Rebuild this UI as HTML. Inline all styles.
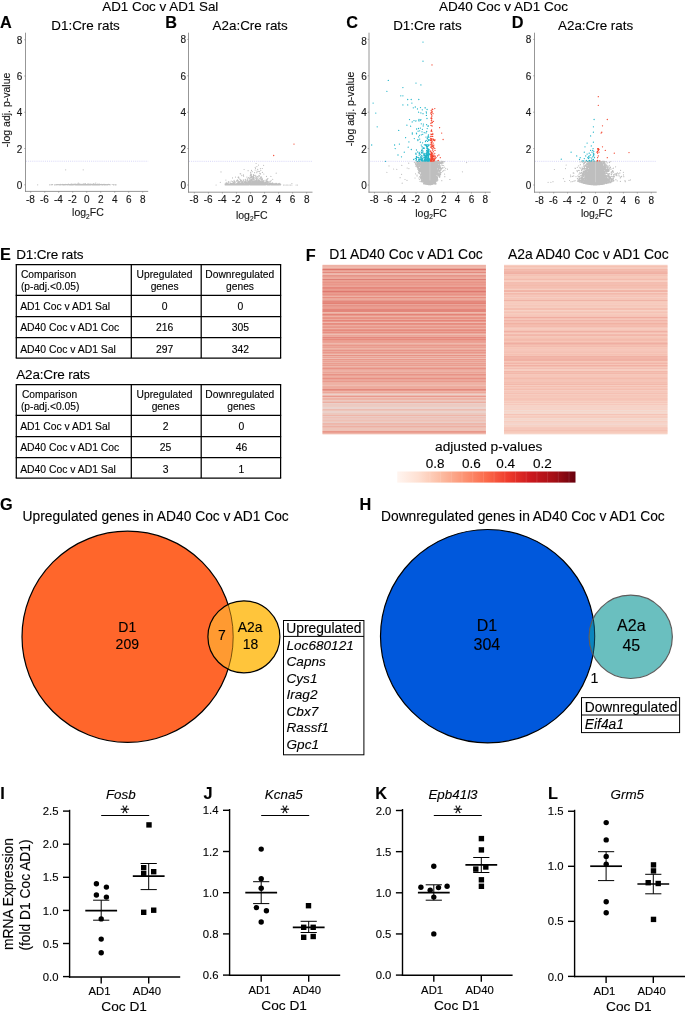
<!DOCTYPE html>
<html lang="en">
<head>
<meta charset="utf-8">
<title>Figure</title>
<style>
html,body{margin:0;padding:0;background:#fff;}
body{width:685px;height:1012px;overflow:hidden;}
svg{display:block;font-family:"Liberation Sans",Arial,Helvetica,sans-serif;}
text{stroke:#000;stroke-width:0.22px;stroke-opacity:0.55;}
</style>
</head>
<body>
<svg width="685" height="1012" viewBox="0 0 685 1012">
<rect width="685" height="1012" fill="#fff"/>
<text x="160.3" y="11.1" font-size="13.4" text-anchor="middle">AD1 Coc v AD1 Sal</text>
<text x="503.6" y="10.9" font-size="13.5" text-anchor="middle">AD40 Coc v AD1 Coc</text>
<text x="0.1" y="27.5" font-size="16.3" font-weight="bold">A</text>
<text x="85.6" y="29.8" font-size="13.4" text-anchor="middle">D1:Cre rats</text>
<line x1="25.5" y1="32.7" x2="25.5" y2="191.8" stroke="#7c7c7c" stroke-width="0.8"/>
<line x1="25.1" y1="191.4" x2="148.2" y2="191.4" stroke="#7c7c7c" stroke-width="0.8"/>
<line x1="24.2" y1="184.8" x2="25.5" y2="184.8" stroke="#7c7c7c" stroke-width="0.6"/>
<text x="22.3" y="188.8" font-size="10" text-anchor="end" fill="#1c1c1c">0</text>
<line x1="24.2" y1="148.54" x2="25.5" y2="148.54" stroke="#7c7c7c" stroke-width="0.6"/>
<text x="22.3" y="152.54" font-size="10" text-anchor="end" fill="#1c1c1c">2</text>
<line x1="24.2" y1="112.28" x2="25.5" y2="112.28" stroke="#7c7c7c" stroke-width="0.6"/>
<text x="22.3" y="116.28" font-size="10" text-anchor="end" fill="#1c1c1c">4</text>
<line x1="24.2" y1="76.02" x2="25.5" y2="76.02" stroke="#7c7c7c" stroke-width="0.6"/>
<text x="22.3" y="80.02" font-size="10" text-anchor="end" fill="#1c1c1c">6</text>
<line x1="24.2" y1="39.76" x2="25.5" y2="39.76" stroke="#7c7c7c" stroke-width="0.6"/>
<text x="22.3" y="43.76" font-size="10" text-anchor="end" fill="#1c1c1c">8</text>
<line x1="30.7" y1="191.4" x2="30.7" y2="192.7" stroke="#7c7c7c" stroke-width="0.6"/>
<text x="30.4" y="202.9" font-size="10" text-anchor="middle" fill="#1c1c1c">-8</text>
<line x1="44.7" y1="191.4" x2="44.7" y2="192.7" stroke="#7c7c7c" stroke-width="0.6"/>
<text x="44.4" y="202.9" font-size="10" text-anchor="middle" fill="#1c1c1c">-6</text>
<line x1="58.7" y1="191.4" x2="58.7" y2="192.7" stroke="#7c7c7c" stroke-width="0.6"/>
<text x="58.4" y="202.9" font-size="10" text-anchor="middle" fill="#1c1c1c">-4</text>
<line x1="72.7" y1="191.4" x2="72.7" y2="192.7" stroke="#7c7c7c" stroke-width="0.6"/>
<text x="72.4" y="202.9" font-size="10" text-anchor="middle" fill="#1c1c1c">-2</text>
<line x1="86.7" y1="191.4" x2="86.7" y2="192.7" stroke="#7c7c7c" stroke-width="0.6"/>
<text x="86.7" y="202.9" font-size="10" text-anchor="middle" fill="#1c1c1c">0</text>
<line x1="100.7" y1="191.4" x2="100.7" y2="192.7" stroke="#7c7c7c" stroke-width="0.6"/>
<text x="100.7" y="202.9" font-size="10" text-anchor="middle" fill="#1c1c1c">2</text>
<line x1="114.7" y1="191.4" x2="114.7" y2="192.7" stroke="#7c7c7c" stroke-width="0.6"/>
<text x="114.7" y="202.9" font-size="10" text-anchor="middle" fill="#1c1c1c">4</text>
<line x1="128.7" y1="191.4" x2="128.7" y2="192.7" stroke="#7c7c7c" stroke-width="0.6"/>
<text x="128.7" y="202.9" font-size="10" text-anchor="middle" fill="#1c1c1c">6</text>
<line x1="142.7" y1="191.4" x2="142.7" y2="192.7" stroke="#7c7c7c" stroke-width="0.6"/>
<text x="142.7" y="202.9" font-size="10" text-anchor="middle" fill="#1c1c1c">8</text>
<text x="87.9" y="216" font-size="10.5" text-anchor="middle" fill="#1c1c1c">log<tspan font-size="6.5" dy="2.6">2</tspan><tspan dy="-2.6">FC</tspan></text>
<text x="9.9" y="110" font-size="10.5" text-anchor="middle" fill="#1c1c1c" transform="rotate(-90 9.9 110)">-log adj. p-value</text>
<line x1="26" y1="161.23" x2="148.2" y2="161.23" stroke="#bebcf3" stroke-width="0.6" stroke-dasharray="1 1.1"/>
<path d="M37.7 184.8h0m11.9 0h0m1.4 0h0m0.9 -0.2h0m0.7 0h0m1.9 0.2h0m0.7 0h0m1.1 -0.1h0m0.3 0.1h0m0.5 -0.3h0m0.7 0.2h0m0.2 0.1h0m0.5 -0.3h0m0.7 0.2h0m0.4 0.1h0m0.6 -0.1h0m0.1 -0.4h0m0.2 0.5h0m0 -0.2h0m0.2 0.1h0m0.6 -0.1h0m0.8 0h0m0.1 0h0m0 -0.1h0m0.1 0.1h0m0 -0.1h0m0.2 -0.1h0m0.4 0.2h0m0 0.2h0m0.1 -0.3h0m0.3 0.3h0m0.2 -0.3h0m0.2 0.1h0m0.1 -0.1h0m0.3 0h0m0.1 0.3h0m0.1 0h0m0 -0.2h0m0.2 0.2h0m0 -0.2h0m0.4 0h0m0.6 -0.3h0m0.1 0.3h0m0.1 -14.8h0m0.1 15h0m0.2 -0.1h0m0.1 -0.1h0m0.1 -0.1h0m0.2 0h0m0.5 0.2h0m0.3 -0.2h0m0 0.1h0m0.4 0.1h0m0 0.1h0m0 -0.1h0m0 0.1h0m0.1 0h0m0.1 -0.1h0m0 0h0m0 -0.1h0m0.2 0h0m0 0.2h0m0.1 -0.4h0m0.2 0.3h0m0 -0.4h0m0 0.4h0m0.2 -0.4h0m0 0.4h0m0.1 0h0m0.3 0h0m0.1 -0.2h0m0.1 0.1h0m0.1 0.1h0m0.1 0h0m0.1 0.1h0m0.2 -0.1h0m0.1 0h0m0 -0.1h0m0 0.1h0m0.1 -0.2h0m0 0.2h0m0 0.1h0m0.1 -0.2h0m0.2 0h0m0 0.2h0m0 -0.1h0m0 -0.1h0m0 0h0m0.1 0h0m0 0.1h0m0.1 0.1h0m0 -0.1h0m0.1 -0.1h0m0 0.1h0m0 0.1h0m0 -0.3h0m0.1 0.2h0m0 -0.1h0m0 0.1h0m0.1 -0.3h0m0 0.2h0m0 0.1h0m0.3 0.1h0m0 -0.1h0m0 -0.2h0m0.1 0.2h0m0.1 -0.2h0m0 0.2h0m0 -0.1h0m0 -0.1h0m0 0h0m0.1 0.2h0m0 -0.3h0m0.2 0.2h0m0 -0.1h0m0.2 0.3h0m0 -0.4h0m0 0.3h0m0.1 -0.5h0m0 0.3h0m0.2 0.1h0m0 0.1h0m0 -0.3h0m0.2 0.4h0m0 0h0m0.1 -0.1h0m0 -0.3h0m0.1 0.2h0m0 0.2h0m0 -0.2h0m0.2 0.1h0m0.1 0.1h0m0 -0.3h0m0.4 0.1h0m0.1 0.2h0m0 -0.4h0m0 0.4h0m0.1 -0.1h0m0 -0.1h0m0.1 0.1h0m0.1 0.1h0m0.1 -0.4h0m0.3 0.2h0m0.1 0.1h0m0.1 -0.2h0m0 0.2h0m0.2 -0.1h0m0.1 -0.2h0m0 0.3h0m0 0h0m0.1 -0.3h0m0.1 0.3h0m0.1 0h0m0.3 -0.1h0m0 0h0m0 -0.1h0m0.1 -0.1h0m0 0.3h0m0.1 0h0m0 -0.1h0m0.1 -0.2h0m0.1 0.4h0m0 -0.2h0m0 0.1h0m0 -0.1h0m0 0h0m0.1 0h0m0.1 0.2h0m0 -0.2h0m0.1 0h0m0 0.1h0m0 0.1h0m0 -0.2h0m0 0h0m0.1 -0.2h0m0.2 -0.2h0m0.1 0.3h0m0.1 0.2h0m0 0h0m0.1 0.1h0m0.1 0h0m0 -0.2h0m0.1 -0.1h0m0 0.1h0m0 0h0m0 0.1h0m0.1 0.1h0m0 -0.2h0m0.1 0.1h0m0.1 0h0m0 0h0m0 0h0m0 0h0m0 0h0m0.1 0h0m0.1 -0.1h0m0 0.1h0m0.2 0h0m0.1 -0.4h0m0.1 0.5h0m0 -0.3h0m0 0.3h0m0 -0.3h0m0.2 0.3h0m0 -0.1h0m0 0h0m0.1 -0.3h0m0 0.3h0m0 0h0m0 0h0m0.1 -0.3h0m0 0.4h0m0 -0.4h0m0.1 0.2h0m0 0h0m0 0.1h0m0 -0.2h0m0 0.1h0m0.1 0h0m0 0.1h0m0 0h0m0.2 0.1h0m0 -0.4h0m0.1 0.2h0m0 0.1h0m0.1 0h0m0 -1.7h0m0 1.5h0m0 0.2h0m0.1 0h0m0 0.1h0m0.1 -0.4h0m0 0.4h0m0.1 0h0m0 -0.3h0m0 0.3h0m0.1 -0.2h0m0 0h0m0 -0.1h0m0 0h0m0.1 0.3h0m0.1 -0.1h0m0 -0.3h0m0 0.2h0m0.1 0.1h0m0.1 -0.1h0m0 0.1h0m0 0h0m0 0h0m0.1 -0.3h0m0.1 0h0m0 0.1h0m0 0.2h0m0 -0.1h0m0.1 0h0m0 0h0m0 -0.1h0m0 -0.1h0m0 0.1h0m0.1 -0.2h0m0 0.3h0m0 0.2h0m0 -0.1h0m0 0.1h0m0.1 -0.1h0m0 0h0m0.1 -0.2h0m0 0.3h0m0.1 -0.2h0m0.1 0.1h0m0 0.1h0m0 -0.2h0m0 0.1h0m0.1 -0.2h0m0 0.3h0m0.3 -0.2h0m0 0.1h0m0 -0.3h0m0.1 0.4h0m0 -0.1h0m0 0.1h0m0.1 -0.1h0m0 -0.2h0m0 0.2h0m0 0h0m0.1 -0.2h0m0 0.2h0m0 0h0m0 -0.1h0m0.2 -0.1h0m0 -0.1h0m0.2 0.4h0m0.1 -0.1h0m0.1 -0.1h0m0 -0.1h0m0 0.1h0m0 0h0m0.1 0.1h0m0 0.1h0m0.1 -0.2h0m0 0.1h0m0 -0.3h0m0.1 0.2h0m0.1 0h0m0 0.1h0m0 0.1h0m0 -0.2h0m0.2 0.1h0m0.1 -0.2h0m0 0.1h0m0.1 -0.1h0m0 0.2h0m0 0h0m0.1 -0.1h0m0.1 0.1h0m0 0h0m0 0h0m0 0.1h0m0.1 -0.1h0m0.1 -0.1h0m0.1 -0.1h0m0 0h0m0 0.1h0m0.1 0.1h0m0 0.1h0m0 -0.2h0m0.1 -0.3h0m0 0.4h0m0 0h0m0.1 -0.1h0m0 0.1h0m0 -0.1h0m0 0.1h0m0 -0.1h0m0.1 0h0m0 0.2h0m0.1 -0.1h0m0 0h0m0.2 -14.9h0m0 14.8h0m0.1 0.2h0m0 -0.6h0m0 0.6h0m0 -0.1h0m0.1 -0.2h0m0 -0.2h0m0 0.5h0m0.1 -0.1h0m0 0h0m0.1 0h0m0 -0.5h0m0 0.5h0m0 -0.1h0m0.1 0.2h0m0.1 0h0m0 -0.4h0m0 0.3h0m0 -0.1h0m0 0.1h0m0.1 0.1h0m0 -0.1h0m0.1 0.1h0m0 -0.1h0m0 -0.2h0m0.1 0.3h0m0 -0.1h0m0 0.1h0m0 0h0m0 -0.4h0m0.1 0h0m0 0.2h0m0 0h0m0.1 0.1h0m0 -0.1h0m0 -0.1h0m0.3 -0.1h0m0 0.3h0m0.1 -0.1h0m0 0.1h0m0 0.1h0m0.1 -0.2h0m0 0h0m0 0.1h0m0.1 -0.1h0m0 -0.1h0m0 0h0m0 0.2h0m0 -0.2h0m0.1 0h0m0.1 0.2h0m0.1 0h0m0 -0.3h0m0.1 0.4h0m0 -1.1h0m0.1 0.6h0m0 0.4h0m0 -0.2h0m0.1 0.3h0m0 -0.1h0m0 -0.1h0m0 0.1h0m0 0h0m0.1 -0.1h0m0 0.1h0m0 -0.2h0m0 0.2h0m0.1 -0.2h0m0 0.3h0m0.1 -0.1h0m0 0h0m0.1 0.1h0m0 -0.2h0m0 -0.2h0m0.1 0.3h0m0 0.1h0m0.1 -0.2h0m0 0h0m0.2 0.2h0m0 0h0m0 0h0m0 0h0m0.2 0h0m0 -0.2h0m0 0h0m0.1 0h0m0.1 -0.1h0m0 0.1h0m0.1 0h0m0 -0.1h0m0.2 0h0m0.1 0h0m0 0h0m0.1 0.2h0m0.1 0.1h0m0 -0.2h0m0 0h0m0.2 0h0m0 -0.2h0m0.1 0.4h0m0 -0.4h0m0 0.3h0m0 -0.1h0m0 -0.1h0m0 0.2h0m0.1 0h0m0 0h0m0 -0.4h0m0.2 0h0m0 0.4h0m0.1 0.1h0m0.1 -0.2h0m0 0.1h0m0.1 -0.2h0m0 0.2h0m0.1 -0.4h0m0 0.5h0m0 -0.3h0m0 0.1h0m0.1 -0.3h0m0 0.3h0m0.1 0h0m0 0.1h0m0 0h0m0.1 -0.2h0m0 0.1h0m0.1 0.2h0m0 -0.2h0m0.1 -0.7h0m0 0.5h0m0 0.4h0m0.3 -0.1h0m0 -0.1h0m0 0h0m0.1 -0.4h0m0.2 0.5h0m0.1 -0.1h0m0.1 0h0m0 0.1h0m0 -0.1h0m0 0.2h0m0.1 -0.2h0m0 0.1h0m0.1 0h0m0.3 0h0m0 -0.4h0m0.1 0.5h0m0 -0.2h0m0.2 -0.1h0m0 0.1h0m0 0.1h0m0 -0.2h0m0.2 -0.1h0m0 0.4h0m0 -0.1h0m0.1 -0.1h0m0 0h0m0.1 -0.2h0m0 0.1h0m0.1 0.1h0m0 0h0m0 0h0m0.1 -0.2h0m0 0.2h0m0 -0.2h0m0 0.3h0m0 0h0m0.1 0.1h0m0.2 -0.1h0m0.2 0h0m0 0h0m0 -0.2h0m0.1 -0.1h0m0 0.3h0m0.1 0h0m0 -0.1h0m0 0.1h0m0.1 0h0m0 -0.1h0m0.1 -0.1h0m0.2 -0.1h0m0 0.2h0m0.1 0.1h0m0 0.1h0m0 -0.1h0m0 -0.1h0m0.1 0h0m0.1 -0.1h0m0 0.2h0m0 -0.2h0m0.1 0h0m0 0h0m0 -0.1h0m0.1 0.4h0m0 -0.2h0m0 0.1h0m0 0.1h0m0 -0.1h0m0.1 -0.1h0m0.1 0h0m0.2 -0.1h0m0 0.1h0m0 0.1h0m0 -0.1h0m0.2 0.2h0m0.1 -0.1h0m0 -0.2h0m0 0h0m0.2 0.2h0m0 -0.3h0m0 0.2h0m0.2 0.1h0m0 -1.2h0m0 1h0m0.1 0h0m0 0.2h0m0 -0.1h0m0 0h0m0 0.1h0m0.2 -0.3h0m0.1 0.4h0m0 -0.1h0m0 -0.1h0m0.3 0h0m0 0h0m0.1 0.2h0m0 -0.1h0m0 -0.1h0m0 -0.1h0m0.2 0.2h0m0 -0.2h0m0 0.2h0m0.1 -0.4h0m0 0.5h0m0 -0.1h0m0 -0.2h0m0.3 0.1h0m0 -0.4h0m0.1 0.5h0m0 0.1h0m0 -0.1h0m0 0.1h0m0.1 0h0m0.1 -0.1h0m0.1 -0.2h0m0 0.3h0m0.3 0h0m0 -1.8h0m0 1.7h0m0.2 -0.1h0m0.1 -0.1h0m0.1 0.2h0m0.1 -0.1h0m0.1 0h0m0 0h0m0.1 -0.1h0m0 0.2h0m0.1 0.1h0m0 -0.1h0m0.2 -0.2h0m0.1 0.1h0m0.3 -0.3h0m0 0h0m0.1 0.3h0m0.1 0h0m0 -0.1h0m0.1 0.3h0m0 -0.3h0m0 0.2h0m0.2 -0.3h0m0 0.2h0m0 0.2h0m0.1 -0.4h0m0.2 0.1h0m0.1 0.2h0m0 -0.1h0m0 -0.1h0m0.2 -0.1h0m0.1 0h0m0 0.1h0m0 0.1h0m0 0.2h0m0.1 -0.2h0m0 0h0m0 0h0m0.1 0.2h0m0.1 -0.3h0m0 0.2h0m0.1 0.1h0m0.1 -0.1h0m0.1 -0.1h0m0 0h0m0.2 -0.1h0m0.2 0.2h0m0 -0.3h0m0.1 0.4h0m0.1 -0.4h0m0 0h0m0 0.3h0m0.1 -0.3h0m0 0.2h0m0.1 0.2h0m0.1 -0.1h0m0.1 -0.2h0m0 0.2h0m0 -0.2h0m0 0.2h0m0.3 -0.1h0m0 0.1h0m0 -0.1h0m0.5 0.1h0m0.1 -0.1h0m0 -0.1h0m0.1 0.2h0m0 0h0m0.4 0h0m0.1 0h0m0.2 -0.4h0m0.1 0.4h0m0.1 0.1h0m0.1 -0.1h0m0.2 -0.1h0m0.1 0.1h0m0.2 0h0m0 0.1h0m0 -0.3h0m0.1 0h0m0.1 0.3h0m0.1 -0.2h0m0 0.2h0m0 -0.2h0m0.1 0.1h0m0.2 0h0m0.3 -0.1h0m0.1 -0.2h0m0.2 0.3h0m0.2 0h0m0 -0.1h0m0.4 0.2h0m0 -0.2h0m0 -0.2h0m0.1 0.4h0m0.1 0h0m0.3 -0.1h0m0.1 -0.1h0m0 0.1h0m0.1 0h0m0 0h0m0.3 -0.1h0m0.1 0.2h0m0.3 -0.2h0m0.3 0h0m0.1 -0.1h0m0 0.2h0m0.6 0.1h0m0.7 -0.2h0m0.1 0.2h0m0 -0.1h0m0.9 -0.3h0m0.5 0.3h0m0.2 0h0m0.7 -0.1h0m0.2 0.1h0m0.1 0.1h0m2.1 -0.3h0m1.3 0.3h0m0.5 0h0m0 -0.3h0m1.4 0.3h0m0.4 -0.1h0m0.3 0.1h0" stroke="#bebebe" stroke-width="1.2" stroke-linecap="round" fill="none"/>
<text x="165.3" y="27.5" font-size="16.3" font-weight="bold">B</text>
<text x="250.2" y="29.8" font-size="13.4" text-anchor="middle">A2a:Cre rats</text>
<line x1="188.5" y1="32.7" x2="188.5" y2="192.6" stroke="#7c7c7c" stroke-width="0.8"/>
<line x1="188.1" y1="192.2" x2="312.5" y2="192.2" stroke="#7c7c7c" stroke-width="0.8"/>
<line x1="187.2" y1="185" x2="188.5" y2="185" stroke="#7c7c7c" stroke-width="0.6"/>
<text x="186.1" y="189" font-size="10" text-anchor="end" fill="#1c1c1c">0</text>
<line x1="187.2" y1="148.6" x2="188.5" y2="148.6" stroke="#7c7c7c" stroke-width="0.6"/>
<text x="186.1" y="152.6" font-size="10" text-anchor="end" fill="#1c1c1c">2</text>
<line x1="187.2" y1="112.2" x2="188.5" y2="112.2" stroke="#7c7c7c" stroke-width="0.6"/>
<text x="186.1" y="116.2" font-size="10" text-anchor="end" fill="#1c1c1c">4</text>
<line x1="187.2" y1="75.8" x2="188.5" y2="75.8" stroke="#7c7c7c" stroke-width="0.6"/>
<text x="186.1" y="79.8" font-size="10" text-anchor="end" fill="#1c1c1c">6</text>
<line x1="187.2" y1="39.4" x2="188.5" y2="39.4" stroke="#7c7c7c" stroke-width="0.6"/>
<text x="186.1" y="43.4" font-size="10" text-anchor="end" fill="#1c1c1c">8</text>
<line x1="194.34" y1="192.2" x2="194.34" y2="193.5" stroke="#7c7c7c" stroke-width="0.6"/>
<text x="194.04" y="203.2" font-size="10" text-anchor="middle" fill="#1c1c1c">-8</text>
<line x1="208.38" y1="192.2" x2="208.38" y2="193.5" stroke="#7c7c7c" stroke-width="0.6"/>
<text x="208.08" y="203.2" font-size="10" text-anchor="middle" fill="#1c1c1c">-6</text>
<line x1="222.42" y1="192.2" x2="222.42" y2="193.5" stroke="#7c7c7c" stroke-width="0.6"/>
<text x="222.12" y="203.2" font-size="10" text-anchor="middle" fill="#1c1c1c">-4</text>
<line x1="236.46" y1="192.2" x2="236.46" y2="193.5" stroke="#7c7c7c" stroke-width="0.6"/>
<text x="236.16" y="203.2" font-size="10" text-anchor="middle" fill="#1c1c1c">-2</text>
<line x1="250.5" y1="192.2" x2="250.5" y2="193.5" stroke="#7c7c7c" stroke-width="0.6"/>
<text x="250.5" y="203.2" font-size="10" text-anchor="middle" fill="#1c1c1c">0</text>
<line x1="264.54" y1="192.2" x2="264.54" y2="193.5" stroke="#7c7c7c" stroke-width="0.6"/>
<text x="264.54" y="203.2" font-size="10" text-anchor="middle" fill="#1c1c1c">2</text>
<line x1="278.58" y1="192.2" x2="278.58" y2="193.5" stroke="#7c7c7c" stroke-width="0.6"/>
<text x="278.58" y="203.2" font-size="10" text-anchor="middle" fill="#1c1c1c">4</text>
<line x1="292.62" y1="192.2" x2="292.62" y2="193.5" stroke="#7c7c7c" stroke-width="0.6"/>
<text x="292.62" y="203.2" font-size="10" text-anchor="middle" fill="#1c1c1c">6</text>
<line x1="306.66" y1="192.2" x2="306.66" y2="193.5" stroke="#7c7c7c" stroke-width="0.6"/>
<text x="306.66" y="203.2" font-size="10" text-anchor="middle" fill="#1c1c1c">8</text>
<text x="251.7" y="218.6" font-size="10.5" text-anchor="middle" fill="#1c1c1c">log<tspan font-size="6.5" dy="2.6">2</tspan><tspan dy="-2.6">FC</tspan></text>
<line x1="189" y1="161.34" x2="312.5" y2="161.34" stroke="#bebcf3" stroke-width="0.6" stroke-dasharray="1 1.1"/>
<path d="M216.1 185h0m4.2 -2.7h0m0.7 -10.4h0m4 12.1h0m0.3 0.8h0m0 0.1h0m0 -1h0m0.1 0h0m0 0.1h0m0.1 0h0m0.1 0.7h0m0.3 0h0m0 -0.3h0m0 -4.3h0m0 4.8h0m0.1 -0.8h0m0.1 0.9h0m0.1 -0.5h0m0 -2.2h0m0.1 2.5h0m0 -0.3h0m0.1 -1.1h0m0 0.9h0m0 -0.1h0m0.1 0.8h0m0.1 -1.3h0m0 0.3h0m0.1 0.7h0m0 0.1h0m0 0.1h0m0 -0.1h0m0.2 0.2h0m0 -0.7h0m0.2 -0.6h0m0.1 -0.4h0m0.1 0.6h0m0 -0.9h0m0 1.8h0m0 -0.4h0m0.1 -0.8h0m0 1h0m0.1 -0.8h0m0 1h0m0.2 -0.2h0m0 -0.4h0m0 0.7h0m0.1 -0.8h0m0 0.8h0m0.2 0h0m0.2 -0.9h0m0 0.4h0m0.1 0.4h0m0.1 -3.2h0m0 2.3h0m0.1 0.8h0m0 -2.4h0m0.1 1.5h0m0 0.6h0m0.2 0.4h0m0.1 -0.5h0m0.1 0.6h0m0.1 0.1h0m0.1 -0.3h0m0 -0.1h0m0.1 0.4h0m0.1 -0.5h0m0.1 0.4h0m0.1 0h0m0 0h0m0.1 -0.9h0m0 0.4h0m0 0.3h0m0.2 0.2h0m0 -0.4h0m0 -0.1h0m0 -2.4h0m0.2 2.2h0m0 0.7h0m0 -0.1h0m0.1 -1.6h0m0 1.6h0m0 -0.4h0m0 -0.4h0m0.2 1h0m0 -0.2h0m0.1 -0.2h0m0.1 -0.8h0m0 0.8h0m0.1 0.3h0m0 0.1h0m0.1 -0.4h0m0 0.2h0m0 -1h0m0.1 1.1h0m0 0h0m0.2 -0.2h0m0 -1.2h0m0.1 -2.4h0m0.1 3.7h0m0 -1h0m0.1 -0.1h0m0.1 1.2h0m0.2 -0.2h0m0 0.1h0m0 -0.1h0m0.2 -0.3h0m0.1 0h0m0 0.2h0m0 -0.5h0m0.1 0.8h0m0 -0.2h0m0.1 -1.5h0m0 1.6h0m0.1 -0.3h0m0 0.3h0m0.1 0h0m0.1 0.1h0m0 -7h0m0.1 6.6h0m0 -2.9h0m0.1 2h0m0 0.8h0m0.1 0.3h0m0.1 -0.2h0m0 0.3h0m0.1 -0.6h0m0.1 0.5h0m0 -0.2h0m0 0.4h0m0 -1.2h0m0.2 0.8h0m0.1 -1.7h0m0.1 2.1h0m0.1 -0.2h0m0 -0.9h0m0.1 1h0m0 -0.3h0m0 -2.3h0m0.2 2.5h0m0.1 -0.2h0m0.1 -4.1h0m0 2.4h0m0 1.3h0m0.1 0.6h0m0 -3.3h0m0.2 2.6h0m0 -0.9h0m0.1 1.7h0m0 -0.5h0m0 -0.2h0m0 -0.9h0m0.1 1.6h0m0.1 -0.6h0m0 0.6h0m0.1 -1.3h0m0 1h0m0 -2.7h0m0 2.9h0m0.1 -2.1h0m0 1.7h0m0.1 -0.8h0m0 1.5h0m0.1 -0.2h0m0.1 -0.4h0m0 0.2h0m0.1 -0.2h0m0 -2.3h0m0.2 -5h0m0 7.9h0m0.1 -0.8h0m0.1 0.5h0m0.1 -0.4h0m0.2 -0.3h0m0 0h0m0.1 0.4h0m0.1 0.3h0m0 -0.1h0m0.1 0.2h0m0 -0.6h0m0.2 0.5h0m0 -0.1h0m0.1 -0.1h0m0.1 0.3h0m0 -4.3h0m0 3.1h0m0.1 1.3h0m0 0.1h0m0 -1.4h0m0 -2.1h0m0.1 1.9h0m0 1.1h0m0.1 -3.7h0m0 3.8h0m0.2 -4.5h0m0 4.2h0m0.1 -0.1h0m0 -0.4h0m0.1 0.9h0m0 -0.6h0m0.1 -4.2h0m0 4.9h0m0.1 -1.9h0m0.2 1.6h0m0 0.1h0m0 0.2h0m0 -0.1h0m0.1 -0.2h0m0 0.3h0m0 -0.2h0m0 -0.5h0m0 0.9h0m0.2 -0.6h0m0 0.1h0m0 -3.6h0m0 -0.4h0m0 3.8h0m0.1 -6.9h0m0 7.5h0m0.1 -2.8h0m0 -5.1h0m0 7.3h0m0 -0.4h0m0.1 0.1h0m0 0.6h0m0 -0.1h0m0.1 0.3h0m0.1 -0.9h0m0 1h0m0 -0.2h0m0.1 -0.1h0m0 -7.4h0m0 5.7h0m0.1 -4.8h0m0 6.1h0m0.1 0.4h0m0.1 -0.1h0m0 0.1h0m0.1 0.3h0m0 -0.5h0m0 -2.7h0m0.1 2.6h0m0 -0.3h0m0 0.9h0m0.1 -0.1h0m0 -0.3h0m0 -1.7h0m0.1 -0.3h0m0.1 1.3h0m0.2 1.2h0m0.1 -5.8h0m0 4.6h0m0 1h0m0.1 -0.1h0m0 0h0m0 -1.5h0m0.2 0.6h0m0 0.6h0m0 -0.3h0m0 -2.5h0m0.1 -7.9h0m0 11.2h0m0 -1.4h0m0.1 0.8h0m0.1 -0.2h0m0 0.8h0m0 -3.8h0m0 3.3h0m0.1 -1h0m0 -0.2h0m0 1.1h0m0.1 -4.4h0m0.1 4.1h0m0.1 0.7h0m0 0.1h0m0 -10.8h0m0 9.5h0m0.1 -2.5h0m0 3.2h0m0 -0.6h0m0 -0.4h0m0.1 1.6h0m0.1 -0.4h0m0 -4h0m0 3.4h0m0.1 0.5h0m0 0.3h0m0 -1h0m0 0.9h0m0.1 -0.2h0m0.1 -1.5h0m0 2h0m0 -4.4h0m0.1 4h0m0.1 -0.6h0m0 0.3h0m0 0.7h0m0.1 -0.5h0m0 -0.1h0m0 -0.1h0m0 -1h0m0.1 0.5h0m0 0.9h0m0 -2.8h0m0 -6.1h0m0 9h0m0 -2.6h0m0.1 2.4h0m0 -1.7h0m0.1 2h0m0.1 0h0m0 -0.6h0m0 -2.2h0m0 2.9h0m0.1 -0.2h0m0.1 0.2h0m0 -0.1h0m0.1 -2.4h0m0 2.6h0m0 -0.7h0m0.1 -1.6h0m0 1.5h0m0 0.6h0m0.1 -0.3h0m0.1 0.5h0m0 -2.1h0m0 2.2h0m0.1 -0.9h0m0 -2h0m0 2.8h0m0.1 -3.9h0m0 3.6h0m0 -3.1h0m0 3.1h0m0.1 0.4h0m0.1 -1.1h0m0 -2.7h0m0.1 3.7h0m0 -0.3h0m0.1 -1.7h0m0 -2h0m0 -1.1h0m0.1 4h0m0 -8.9h0m0.1 9.5h0m0 0.5h0m0.1 0h0m0 -1.3h0m0 -7.4h0m0.1 7.9h0m0 0.6h0m0 0.1h0m0 0.1h0m0.1 -3.9h0m0.1 3.3h0m0 -0.3h0m0.1 -0.1h0m0 0.7h0m0 0.2h0m0 -0.8h0m0 -0.4h0m0.1 1.3h0m0 -15.4h0m0 14.9h0m0 0h0m0 -3.4h0m0.1 3.8h0m0.1 -2.3h0m0 1.6h0m0.2 0.7h0m0 -2.6h0m0 2.5h0m0.1 -0.1h0m0 -1h0m0.1 0.7h0m0 -0.1h0m0 0.4h0m0.1 -0.7h0m0.1 -1.3h0m0 -0.2h0m0 2.5h0m0 -0.4h0m0.1 -1.3h0m0.1 1.6h0m0.1 -0.5h0m0 0.7h0m0 -0.6h0m0 -2.9h0m0 3.1h0m0.1 -5.2h0m0 5.5h0m0 0h0m0.1 -0.6h0m0.1 -4.5h0m0 1.7h0m0 1.2h0m0.1 -1.5h0m0 0.3h0m0.1 1.7h0m0 1.8h0m0 -0.3h0m0 -0.3h0m0 -0.1h0m0.1 -1.2h0m0 1.5h0m0 0.3h0m0 -0.4h0m0 -0.3h0m0.1 0.3h0m0 -4h0m0 3.6h0m0 0.1h0m0 -1.5h0m0.1 0.5h0m0.1 -0.1h0m0 1.3h0m0 0.5h0m0 -1.2h0m0.1 1h0m0 -1.3h0m0 1h0m0 0h0m0.1 0.3h0m0 -0.9h0m0 -0.6h0m0.1 1.7h0m0 -1.3h0m0.1 0.4h0m0 -0.1h0m0.1 -0.1h0m0.1 -1.5h0m0 0.6h0m0 2h0m0 0.1h0m0 -1.6h0m0 0.6h0m0 0.3h0m0.1 -0.6h0m0 -2.6h0m0.1 3.1h0m0 0.6h0m0 -0.5h0m0 -7.2h0m0 6.2h0m0 1.7h0m0.1 -2.2h0m0 0.4h0m0.1 1.3h0m0.1 -5.5h0m0 5.3h0m0.1 -0.8h0m0 1.2h0m0.1 -0.6h0m0 -0.4h0m0 1.1h0m0 -1.2h0m0.1 1.4h0m0 -0.1h0m0 -1.4h0m0.1 1.4h0m0 0h0m0 -4.7h0m0 0.1h0m0 3.9h0m0.1 -1.3h0m0 1.3h0m0 0.1h0m0 -0.1h0m0 -0.7h0m0.1 -2.2h0m0 1.3h0m0 2.1h0m0 -0.1h0m0 -1.5h0m0.1 1.3h0m0 -5.6h0m0.1 4.9h0m0.1 0.2h0m0 0.8h0m0 -14h0m0 14.3h0m0.1 -1.6h0m0 1.5h0m0 -0.3h0m0.1 -1.9h0m0 1.4h0m0 -1.3h0m0.1 1.6h0m0 -2.5h0m0 -4.2h0m0 6.4h0m0.1 0.2h0m0 0.6h0m0 0h0m0 -0.8h0m0 -0.4h0m0.1 0.8h0m0 -1h0m0 0h0m0.1 0.8h0m0 0h0m0 -1.4h0m0 0.9h0m0.1 -2.1h0m0 2.6h0m0 0h0m0.1 -1.4h0m0 1.3h0m0 -2.7h0m0 -0.7h0m0 3.6h0m0 -0.1h0m0.1 -2.2h0m0.1 0.7h0m0 1.4h0m0 0.2h0m0 -2.2h0m0 0.3h0m0.1 1.5h0m0 0.3h0m0.1 -0.4h0m0.1 -4.9h0m0 3.5h0m0 2.2h0m0.1 -0.8h0m0 -2.2h0m0 -1h0m0 3.5h0m0 -0.1h0m0 0.5h0m0.1 -0.8h0m0 0.8h0m0.1 -6h0m0 5.1h0m0 0.5h0m0 -1.3h0m0.1 1.8h0m0 -1.3h0m0 -5.5h0m0 3.2h0m0.1 2.6h0m0 -1.7h0m0 2.7h0m0 -0.9h0m0.1 -2.2h0m0 1.9h0m0.1 -1.4h0m0 2.8h0m0 -1.1h0m0 -5.4h0m0 4.7h0m0.1 1.8h0m0 -0.1h0m0 -2.8h0m0 2h0m0 -0.8h0m0 -7.3h0m0.1 9h0m0 -4.1h0m0 3.9h0m0 -5.2h0m0.1 5.4h0m0 -5.1h0m0.1 3.4h0m0 -8.6h0m0 9.5h0m0 0.2h0m0 -9.4h0m0.1 -2.6h0m0 11.5h0m0 -0.1h0m0 -1.8h0m0 1.3h0m0 1.1h0m0 0.5h0m0 -0.4h0m0.1 -7.1h0m0 4.1h0m0 2.9h0m0 -3.8h0m0.1 4.4h0m0 -0.6h0m0 0.7h0m0 -11.8h0m0 6.8h0m0 4.9h0m0.1 -0.1h0m0 -3.3h0m0.2 0.3h0m0 -0.2h0m0.1 3.4h0m0 -0.2h0m0 -0.2h0m0.1 0.3h0m0 -0.7h0m0 0.2h0m0 0.6h0m0 -2.8h0m0 2.4h0m0 -7.4h0m0.1 7.5h0m0 -0.2h0m0 -0.5h0m0 -3.5h0m0 2.6h0m0 -7.2h0m0 8.7h0m0.1 -0.5h0m0 0.6h0m0 -1.5h0m0 -12.8h0m0 4.3h0m0 4.8h0m0 5.4h0m0 -1.5h0m0.1 -4.1h0m0 4.6h0m0 0.9h0m0.1 -0.4h0m0 -6.7h0m0 6.9h0m0 -6.8h0m0 6.9h0m0.1 -0.5h0m0 -4.8h0m0 2.5h0m0 2.3h0m0 -0.2h0m0.1 0.4h0m0 -0.4h0m0 -0.4h0m0 0.1h0m0.1 -3.4h0m0 2.7h0m0 -1.9h0m0 0.3h0m0 3.3h0m0.1 -5h0m0 4.8h0m0 -8h0m0 4.6h0m0 0h0m0.1 3.9h0m0 -13.3h0m0 12.2h0m0 -0.6h0m0 0.6h0m0 0.9h0m0.1 -3.9h0m0 -1h0m0 0.2h0m0 1.4h0m0 3.3h0m0 -1h0m0.1 1.2h0m0 -1.4h0m0.1 0.1h0m0 -1.9h0m0 1.3h0m0 -0.6h0m0 0h0m0.2 1.5h0m0 0.4h0m0 -0.1h0m0 -0.8h0m0 0.1h0m0 0.2h0m0 1.1h0m0 -6.5h0m0.1 5.3h0m0 -1.8h0m0 2.9h0m0 -0.2h0m0 -2.9h0m0 3.3h0m0 -0.3h0m0 -0.4h0m0.1 -6.9h0m0 5.3h0m0 1.8h0m0 0.5h0m0 -7.2h0m0 6.2h0m0.1 0.3h0m0 -4.7h0m0 -0.8h0m0 5.3h0m0 -2.5h0m0.1 -4.9h0m0 5.2h0m0.1 2.5h0m0 -1.5h0m0 1.1h0m0 0.7h0m0 0h0m0 -0.6h0m0 -0.6h0m0 1.2h0m0.1 -2.1h0m0 2h0m0 0.1h0m0 -4.7h0m0 5h0m0 -1.3h0m0.1 0.3h0m0 -9h0m0 9.7h0m0 -0.1h0m0 -1.3h0m0 -6.1h0m0 7.1h0m0 -2.3h0m0.1 -3h0m0 3.5h0m0 -3.9h0m0 -3.2h0m0 8.9h0m0 -0.3h0m0 -9.5h0m0 10h0m0 -7.3h0m0 -0.4h0m0.1 1.5h0m0 6.4h0m0 -0.3h0m0 -5.3h0m0 -3.4h0m0 6.9h0m0 1.4h0m0.1 0.4h0m0 -1.8h0m0 -1.5h0m0 0.4h0m0 -5.2h0m0.1 7.6h0m0 0.5h0m0 0.1h0m0 -2.5h0m0 0.4h0m0.1 0.4h0m0 0h0m0 1.7h0m0 0h0m0 -0.9h0m0 -0.3h0m0 1.2h0m0.1 -1.5h0m0 0.9h0m0 -0.5h0m0.1 -1.9h0m0 2.9h0m0 0.3h0m0 -1.1h0m0 0.8h0m0 0.1h0m0 -1.1h0m0.1 0.3h0m0 -0.1h0m0 1.1h0m0 -1.4h0m0 1.5h0m0 -0.6h0m0 -0.8h0m0.1 1.1h0m0 -9.2h0m0 7.8h0m0 -0.2h0m0 1.3h0m0 0.5h0m0.1 0.3h0m0 -1.8h0m0 1.3h0m0 0.3h0m0.1 -2.2h0m0.1 2.3h0m0 -12.2h0m0 5.2h0m0.2 5.8h0m0 -4h0m0 4.1h0m0 -2h0m0 2.5h0m0 0.3h0m0 -2.1h0m0 -1.8h0m0.1 4.2h0m0 -0.2h0m0 -4.9h0m0 0.5h0m0 4.4h0m0 -0.9h0m0.1 0.1h0m0 1h0m0 -2h0m0 1.6h0m0 0h0m0.1 -0.8h0m0 0.9h0m0 0h0m0.1 0.3h0m0 -4.2h0m0 -10.7h0m0 -2.7h0m0 17.1h0m0.1 -1.5h0m0 0.6h0m0 -3h0m0 2h0m0 2.3h0m0 -3h0m0.1 2.9h0m0 -2.7h0m0 2.2h0m0 0.3h0m0 -0.2h0m0 -0.5h0m0.1 -0.2h0m0 -15.3h0m0 15.8h0m0 -3.2h0m0.1 3.6h0m0.1 0.4h0m0 -9.6h0m0 9.6h0m0 -0.4h0m0 -0.4h0m0 -5.9h0m0 6.4h0m0.1 -8h0m0 6.9h0m0 1.5h0m0 -0.5h0m0.1 0h0m0 -0.2h0m0 -3.2h0m0.1 2.1h0m0 -1.3h0m0 -5.3h0m0 8.3h0m0 -2.1h0m0 -1.8h0m0 3.9h0m0 -3.7h0m0.1 2.4h0m0 0.9h0m0 0.4h0m0 -21.4h0m0 20.4h0m0.1 0.6h0m0 -1.9h0m0 0.2h0m0 1.5h0m0 0.1h0m0.1 -1.5h0m0 1.1h0m0 -1.1h0m0 1.9h0m0 -1.4h0m0 -0.1h0m0.1 0.9h0m0 -3.8h0m0 1.8h0m0 0.8h0m0 -5.4h0m0 6.8h0m0.1 -3h0m0 3.2h0m0 -4.9h0m0 -0.2h0m0 5.4h0m0 -6.8h0m0.1 5.9h0m0 0.8h0m0 -4.7h0m0.1 3h0m0 1.9h0m0.1 -0.3h0m0 -0.1h0m0 -1.4h0m0 -10.5h0m0 11.5h0m0 -2.1h0m0 2.5h0m0.1 -0.3h0m0 -17.7h0m0 13.1h0m0 5.1h0m0 -0.3h0m0 -1.3h0m0.1 1.7h0m0 0h0m0 -0.4h0m0 -7h0m0 -6.4h0m0.1 12.4h0m0 -4.6h0m0 3.7h0m0 -2.6h0m0 -0.9h0m0 5.1h0m0.1 0.5h0m0 -1.5h0m0 -5.3h0m0 1.2h0m0 -0.4h0m0 6.1h0m0 -0.3h0m0.1 -3.4h0m0 3.7h0m0.1 -0.2h0m0 -2.1h0m0 2.4h0m0 -4h0m0 4.1h0m0 -8.5h0m0.1 6.7h0m0 1.2h0m0.1 -0.5h0m0 0h0m0 1h0m0 0h0m0 -0.8h0m0 0.7h0m0 0h0m0.1 -1.1h0m0 0.3h0m0 0.6h0m0 -2.6h0m0 2.9h0m0 -0.2h0m0 0.3h0m0 -15.6h0m0.1 15.3h0m0 -1.2h0m0 1h0m0 -0.4h0m0 -1h0m0.1 1.7h0m0 -1h0m0 -0.6h0m0.1 -0.3h0m0 2h0m0 -1.9h0m0 -2.2h0m0 3.1h0m0.1 0.8h0m0 -0.6h0m0.1 0.3h0m0 -13h0m0 12.2h0m0 0.7h0m0.1 0.2h0m0 0.1h0m0 -2.7h0m0 0.7h0m0 1.2h0m0.1 -0.5h0m0 1.5h0m0 -4.9h0m0 4.7h0m0 0.2h0m0.1 -2.5h0m0 -5.5h0m0 -11.7h0m0 14.7h0m0 0.8h0m0.1 -0.4h0m0 4.6h0m0.1 -2.3h0m0 0.5h0m0 0.8h0m0 0.5h0m0 -0.5h0m0 0.9h0m0.1 -0.1h0m0 -3.2h0m0 -0.1h0m0.1 -0.7h0m0 -5.3h0m0 9.3h0m0 -1.3h0m0 1.3h0m0.1 -2.1h0m0 1.6h0m0 -0.5h0m0 -1.3h0m0 0h0m0.1 1.5h0m0.1 -5.2h0m0 3h0m0 3.4h0m0 -0.7h0m0 0h0m0.1 -0.1h0m0 -3.4h0m0 2.9h0m0 -1.4h0m0.1 0.2h0m0 1.3h0m0 0.8h0m0 -2.9h0m0.1 2.5h0m0 -0.3h0m0 -8h0m0 8.7h0m0.1 -4.6h0m0 4.7h0m0 -13h0m0 11.4h0m0 1.6h0m0 -0.3h0m0 -0.3h0m0.1 -0.2h0m0 -1.5h0m0 2.3h0m0.1 -11.2h0m0 11.5h0m0 -0.1h0m0.1 -0.1h0m0 -2.2h0m0.1 -0.3h0m0.1 0.9h0m0 1.8h0m0.1 -0.6h0m0.1 -0.9h0m0 1.2h0m0 0.1h0m0 -10.7h0m0 3.7h0m0.1 6.8h0m0 -0.1h0m0 -11h0m0 7.5h0m0 2.8h0m0 -15.1h0m0.1 14.6h0m0 -1.8h0m0 3.4h0m0 -2h0m0 1.9h0m0 -1.9h0m0 2.1h0m0.1 -6h0m0.1 5.1h0m0 -6.2h0m0 7h0m0 -1.8h0m0.1 -12.6h0m0 14.4h0m0 0h0m0.1 -0.5h0m0 -0.2h0m0 -0.3h0m0 -7.1h0m0 8h0m0 -2.8h0m0 2.7h0m0.1 -0.2h0m0 -0.3h0m0 0.5h0m0 0h0m0 -0.1h0m0.1 0.1h0m0 -0.1h0m0 -0.5h0m0.1 0.9h0m0 -3.4h0m0 2.4h0m0 0.9h0m0.1 -0.8h0m0 -0.4h0m0 -4.4h0m0 4.9h0m0 0.1h0m0 0.6h0m0 -1.2h0m0 1h0m0 -0.7h0m0.1 -4h0m0 4.7h0m0.1 -1.3h0m0 -6.2h0m0 6.3h0m0 1.2h0m0.1 -0.2h0m0 0.5h0m0 -2.4h0m0 1.5h0m0.1 0.7h0m0 0h0m0 -6h0m0.1 1.5h0m0 2.5h0m0.1 1.6h0m0 -1.7h0m0 2.1h0m0.2 -3.2h0m0 3h0m0 -0.2h0m0 -1h0m0.1 0.9h0m0 -6h0m0 2.2h0m0 1.5h0m0 2.3h0m0 -0.6h0m0 -1.4h0m0.1 -13.8h0m0 15.1h0m0 -2.6h0m0 3.7h0m0 -0.1h0m0.1 -12.2h0m0 12.3h0m0 -0.1h0m0.1 -0.2h0m0 -2.3h0m0 2h0m0 0.2h0m0 -2.4h0m0 -2.4h0m0.1 5.4h0m0 -0.7h0m0.1 0.2h0m0 0.2h0m0.1 -0.3h0m0 0.5h0m0.1 0.1h0m0 -0.5h0m0 -0.9h0m0 1.3h0m0 -0.9h0m0.1 -1h0m0 -0.9h0m0 -1h0m0.1 3.2h0m0 -0.1h0m0 0.8h0m0 0h0m0.1 -0.4h0m0.1 -2.3h0m0 1.9h0m0 0.9h0m0.1 -1h0m0 0.8h0m0 -0.1h0m0 -0.4h0m0 -3.8h0m0.1 3.6h0m0.1 -0.1h0m0 -0.7h0m0 -18h0m0.1 19h0m0 0.2h0m0 0.1h0m0.1 -0.2h0m0 -1.2h0m0 -0.8h0m0 2.1h0m0 -10.5h0m0 7.8h0m0 2.5h0m0.1 0.6h0m0 -0.6h0m0 0.1h0m0 -0.1h0m0 -0.1h0m0 0.3h0m0.1 0.1h0m0.1 -0.1h0m0 0.3h0m0 -0.2h0m0 0.4h0m0 -0.4h0m0.1 -1.4h0m0 0.5h0m0.1 -0.2h0m0 0.8h0m0.2 -0.1h0m0 0h0m0 -0.1h0m0.1 0.5h0m0.1 0.2h0m0 -0.3h0m0.1 0h0m0 -0.4h0m0 -1.2h0m0.1 1.6h0m0 -1.1h0m0.1 -0.8h0m0 2.3h0m0 -4.6h0m0.1 1.6h0m0 2.2h0m0 0.3h0m0 0.6h0m0.2 -0.4h0m0.1 -0.1h0m0 -0.2h0m0.2 -0.2h0m0 0.9h0m0 -1.1h0m0.1 0.9h0m0.1 -0.5h0m0 -1.1h0m0.1 1.3h0m0 -0.6h0m0.1 -1.1h0m0 0.5h0m0 1.1h0m0 -2.1h0m0.1 2.4h0m0.1 0h0m0 -2.5h0m0 0.9h0m0.2 -2.1h0m0 -1.2h0m0 4.5h0m0 0.3h0m0.1 -2.1h0m0 -6.1h0m0.1 8.1h0m0 -0.4h0m0.1 -0.5h0m0 1h0m0.1 0h0m0 0.1h0m0.1 -0.8h0m0 -2.5h0m0.1 2.4h0m0 0.5h0m0.1 0.3h0m0 -4.7h0m0.1 4.8h0m0.1 -5.7h0m0.1 5.7h0m0 -0.8h0m0.1 1h0m0 -1.7h0m0 1.7h0m0.1 -0.4h0m0 0.4h0m0 -0.5h0m0 -2.4h0m0.1 -0.6h0m0 3.1h0m0.1 0.2h0m0.1 -1.6h0m0 -4.5h0m0.3 6h0m0.1 0.3h0m0.2 -1.1h0m0 0.3h0m0.1 0.7h0m0 -0.1h0m0 -0.5h0m0.1 0h0m0.1 0.1h0m0 0.2h0m0 -2.2h0m0.1 2.3h0m0.1 -0.2h0m0 -0.1h0m0.1 -2.9h0m0.1 3.6h0m0.1 -0.9h0m0 -0.4h0m0.1 1h0m0 -0.1h0m0 -0.9h0m0.1 1.3h0m0 -0.7h0m0.2 0.2h0m0.1 0.3h0m0 0h0m0 0.1h0m0 -0.1h0m0.1 -0.9h0m0 -1.1h0m0.1 1.7h0m0 0.1h0m0.2 -0.3h0m0 0.2h0m0.1 0.3h0m0 -0.7h0m0 0.4h0m0 -0.2h0m0.2 0.4h0m0 -1.1h0m0.1 -2h0m0.1 2.9h0m0.1 0h0m0.1 0.2h0m0 -1.4h0m0 -6.9h0m0.1 6.9h0m0 0.8h0m0.1 0h0m0 -0.3h0m0 -3.5h0m0.1 4.3h0m0.1 -0.2h0m0.1 -0.1h0m0 0.7h0m0.1 -1.6h0m0 0.4h0m0 1.1h0m0.1 0.1h0m0 -0.4h0m0 0.3h0m0.1 -0.6h0m0 0.3h0m0.1 0.3h0m0.1 -0.1h0m0.2 -0.2h0m0.1 0.2h0m0.1 -0.7h0m0 0.7h0m0.1 -0.8h0m0 0.5h0m0.2 -0.8h0m0 -0.8h0m0.1 -3.6h0m0.1 4.9h0m0.1 0.8h0m0.1 -0.7h0m0.1 0.4h0m0.3 0.3h0m0 -1h0m0.1 0.2h0m0.2 0.3h0m0.1 -0.5h0m0 0.9h0m0.1 -0.9h0m0.1 0.2h0m0 0.6h0m0.1 0h0m0 -0.3h0m0.1 0.3h0m0.1 -0.7h0m0 0.1h0m0.2 0.1h0m0.1 0.6h0m0.1 -0.2h0m0.1 -0.7h0m0.1 -0.1h0m0.1 -0.2h0m0 0.9h0m0.1 -0.4h0m0.1 -0.8h0m0 1.6h0m0 -0.6h0m0.2 -0.4h0m0.1 0h0m0 0.6h0m0.1 -0.3h0m0.1 0.1h0m0.1 0h0m0.1 0.6h0m0 -0.3h0m0 0.2h0m0 -0.3h0m0.1 0.4h0m0.1 -0.2h0m0 -0.6h0m0 -0.2h0m0.1 -0.2h0m0 -10.6h0m0 11.6h0m0.1 -0.5h0m0 0.1h0m0 -0.7h0m0.1 1h0m0.1 0.2h0m0 -0.4h0m0.1 -1.1h0m0 1.3h0m0 -0.2h0m0.2 0.3h0m0.1 -0.1h0m0.1 -0.4h0m0.1 -0.4h0m0 0.5h0m0 0.6h0m0.3 -0.7h0m0.1 0.1h0m0 0.5h0m0.1 -0.5h0m0.1 0.3h0m0.1 -0.3h0m0.1 -0.1h0m0.1 0.5h0m0 -0.2h0m0.2 0.3h0m0 -0.1h0m0.1 0.2h0m0 -0.4h0m0 -0.1h0m0.1 0h0m0 0.5h0m0.1 -0.3h0m0 -0.8h0m0.1 0.7h0m0 -0.2h0m0 0.1h0m0 0h0m0.1 -1h0m0.1 1.4h0m0 -0.4h0m0.1 -0.1h0m0 -0.1h0m0 0h0m0 0.6h0m0.3 -0.6h0m0.1 -0.1h0m0 0.2h0m0.2 0h0m0 0.2h0m0.1 -0.2h0m0 0.3h0m0.2 -1.3h0m0 1.2h0m0.3 -0.3h0m0 0.3h0m0 0.3h0m0.2 -0.9h0m0.1 0.8h0m0 -0.4h0m0 0.4h0m0 0.1h0m0.1 -0.1h0m0.2 -0.3h0m2.8 0.5h0m1.4 0h0m1.4 0h0m1.4 0h0m1.4 0h0m1.4 0h0m1.4 -1.5h0m0 1.5h0m4.2 0h0m1.4 0h0" stroke="#bebebe" stroke-width="1.2" stroke-linecap="round" fill="none"/>
<path d="M273.7 155.5h0m20.3 -11.4h0" stroke="#f4452f" stroke-width="1.3" stroke-linecap="round" fill="none"/>
<text x="346.3" y="27.5" font-size="16.3" font-weight="bold">C</text>
<text x="427.4" y="29.8" font-size="13.4" text-anchor="middle">D1:Cre rats</text>
<line x1="369" y1="32.7" x2="369" y2="192.6" stroke="#7c7c7c" stroke-width="0.8"/>
<line x1="368.6" y1="192.2" x2="490.7" y2="192.2" stroke="#7c7c7c" stroke-width="0.8"/>
<line x1="367.7" y1="185" x2="369" y2="185" stroke="#7c7c7c" stroke-width="0.6"/>
<text x="366.9" y="189" font-size="10" text-anchor="end" fill="#1c1c1c">0</text>
<line x1="367.7" y1="148.6" x2="369" y2="148.6" stroke="#7c7c7c" stroke-width="0.6"/>
<text x="366.9" y="152.6" font-size="10" text-anchor="end" fill="#1c1c1c">2</text>
<line x1="367.7" y1="112.2" x2="369" y2="112.2" stroke="#7c7c7c" stroke-width="0.6"/>
<text x="366.9" y="116.2" font-size="10" text-anchor="end" fill="#1c1c1c">4</text>
<line x1="367.7" y1="75.8" x2="369" y2="75.8" stroke="#7c7c7c" stroke-width="0.6"/>
<text x="366.9" y="80.2" font-size="10" text-anchor="end" fill="#1c1c1c">6</text>
<line x1="367.7" y1="39.4" x2="369" y2="39.4" stroke="#7c7c7c" stroke-width="0.6"/>
<text x="366.9" y="44.8" font-size="10" text-anchor="end" fill="#1c1c1c">8</text>
<line x1="374.46" y1="192.2" x2="374.46" y2="193.5" stroke="#7c7c7c" stroke-width="0.6"/>
<text x="374.16" y="203.3" font-size="10" text-anchor="middle" fill="#1c1c1c">-8</text>
<line x1="388.32" y1="192.2" x2="388.32" y2="193.5" stroke="#7c7c7c" stroke-width="0.6"/>
<text x="388.02" y="203.3" font-size="10" text-anchor="middle" fill="#1c1c1c">-6</text>
<line x1="402.18" y1="192.2" x2="402.18" y2="193.5" stroke="#7c7c7c" stroke-width="0.6"/>
<text x="401.88" y="203.3" font-size="10" text-anchor="middle" fill="#1c1c1c">-4</text>
<line x1="416.04" y1="192.2" x2="416.04" y2="193.5" stroke="#7c7c7c" stroke-width="0.6"/>
<text x="415.74" y="203.3" font-size="10" text-anchor="middle" fill="#1c1c1c">-2</text>
<line x1="429.9" y1="192.2" x2="429.9" y2="193.5" stroke="#7c7c7c" stroke-width="0.6"/>
<text x="429.9" y="203.3" font-size="10" text-anchor="middle" fill="#1c1c1c">0</text>
<line x1="443.76" y1="192.2" x2="443.76" y2="193.5" stroke="#7c7c7c" stroke-width="0.6"/>
<text x="443.76" y="203.3" font-size="10" text-anchor="middle" fill="#1c1c1c">2</text>
<line x1="457.62" y1="192.2" x2="457.62" y2="193.5" stroke="#7c7c7c" stroke-width="0.6"/>
<text x="457.62" y="203.3" font-size="10" text-anchor="middle" fill="#1c1c1c">4</text>
<line x1="471.48" y1="192.2" x2="471.48" y2="193.5" stroke="#7c7c7c" stroke-width="0.6"/>
<text x="471.48" y="203.3" font-size="10" text-anchor="middle" fill="#1c1c1c">6</text>
<line x1="485.34" y1="192.2" x2="485.34" y2="193.5" stroke="#7c7c7c" stroke-width="0.6"/>
<text x="485.34" y="203.3" font-size="10" text-anchor="middle" fill="#1c1c1c">8</text>
<text x="431.1" y="216.6" font-size="10.5" text-anchor="middle" fill="#1c1c1c">log<tspan font-size="6.5" dy="2.6">2</tspan><tspan dy="-2.6">FC</tspan></text>
<text x="354.2" y="108.9" font-size="10.5" text-anchor="middle" fill="#1c1c1c" transform="rotate(-90 354.2 108.9)">-log adj. p-value</text>
<line x1="369.5" y1="161.34" x2="490.7" y2="161.34" stroke="#bebcf3" stroke-width="0.6" stroke-dasharray="1 1.1"/>
<path d="M385.5 161.3h0m1.4 11h0m2.1 -6.4h0m4.6 3.1h0m3.2 0.3h0m3.3 8.4h0m1.5 -3.4h0m0.2 -8.9h0m0.4 17.8h0m2.8 -3.7h0m2 0.9h0m0.2 -12.4h0m1.5 -4.8h0m0.2 5.4h0m5.5 -6.3h0m0.6 15.7h0m0.4 -14.4h0m0.1 10.2h0m0.2 -9.3h0m0.2 1.8h0m0 -4h0m0.1 3.4h0m0.1 -3.7h0m0 2.5h0m0.1 -1.8h0m0 1.9h0m0 -0.1h0m0.1 -3.1h0m0.1 2.6h0m0.2 1.9h0m0.2 -0.1h0m0.2 1.2h0m0 8.1h0m0 -11.3h0m0.1 12.2h0m0.2 -9.2h0m0.1 -0.7h0m0 -1.5h0m0 -2.4h0m0.1 2.2h0m0 -2.4h0m0.1 5.8h0m0.1 1.4h0m0 -4h0m0 -2h0m0.1 0.1h0m0 0.6h0m0.1 -2.3h0m0.1 5.2h0m0 -5.2h0m0 0.7h0m0.1 1.1h0m0 -1.8h0m0 7h0m0 -2h0m0 2.2h0m0.1 -1.4h0m0 -5.1h0m0.1 3.2h0m0 6.6h0m0 -8.7h0m0 -0.8h0m0.1 -1.2h0m0 0h0m0.1 11.5h0m0 -11.1h0m0 8.5h0m0 -2.1h0m0.2 -3.6h0m0.1 2.3h0m0 -4.2h0m0 3.4h0m0.1 -2.2h0m0 -1h0m0 15.1h0m0 -8.3h0m0.2 -3.1h0m0 -0.8h0m0 4.7h0m0 -1.7h0m0 0.7h0m0.1 -6.6h0m0 8.6h0m0.1 -7.1h0m0 6.4h0m0.1 1.2h0m0 -10.5h0m0 7.7h0m0 10.3h0m0.1 -16.9h0m0 8.5h0m0 -5.4h0m0 -1.4h0m0 9h0m0 -9.2h0m0.1 4.6h0m0 4.7h0m0.1 -7.3h0m0 -1h0m0 1.1h0m0 10.5h0m0 -10.7h0m0.1 3.8h0m0 0.3h0m0.1 -5.8h0m0 -1.7h0m0 3.4h0m0 -4.8h0m0 3.9h0m0.1 -2.9h0m0 19.1h0m0 -19.5h0m0 2h0m0.1 3.2h0m0 3.4h0m0 -7.9h0m0 1.6h0m0 7.1h0m0 -8.1h0m0 0.3h0m0 1.7h0m0 0.4h0m0 -0.9h0m0.1 -1.1h0m0 7.2h0m0 -1.9h0m0 5.3h0m0 -12.9h0m0 4h0m0 -0.8h0m0.1 0.3h0m0.1 7.3h0m0 -4.9h0m0 10.3h0m0 -16h0m0 6.5h0m0 -5.2h0m0 -0.5h0m0.1 -0.2h0m0 12.3h0m0.1 0.2h0m0 1.1h0m0.1 -8.6h0m0 0.9h0m0 10.8h0m0 -16h0m0 1h0m0.1 11h0m0 3.6h0m0 -7h0m0 2.8h0m0 -11.8h0m0 7.9h0m0 -5h0m0 0h0m0.1 -2.3h0m0 8.2h0m0 -9.3h0m0 14.2h0m0 -6.3h0m0 -2.7h0m0 -3.6h0m0 3.3h0m0.1 4.7h0m0 -3.2h0m0 -6.1h0m0 15.7h0m0 -1.3h0m0 -13.7h0m0 -0.8h0m0.1 6.9h0m0 7.2h0m0 -9.8h0m0 12.2h0m0 -14.3h0m0 12.3h0m0.1 0.9h0m0 4.3h0m0 -14h0m0 -5.5h0m0 16.9h0m0 -12h0m0 -4.9h0m0 8h0m0 -0.3h0m0 -1.8h0m0 -5.6h0m0 1.9h0m0.1 0h0m0 3.6h0m0 -3.2h0m0 10h0m0 -1.3h0m0.1 -6.5h0m0 7.5h0m0 5.8h0m0 -10.8h0m0 -6.1h0m0 18.3h0m0.1 -12.6h0m0 3.7h0m0 -5.5h0m0 -4.2h0m0 5.5h0m0 -4.6h0m0 14.1h0m0 -6.2h0m0.1 -9.6h0m0 12.3h0m0 -3.4h0m0 -5.3h0m0.1 6.8h0m0 -4.1h0m0 3.6h0m0 0.6h0m0 -6.2h0m0 0.9h0m0 1.3h0m0 -4.3h0m0.1 -1.4h0m0 3.8h0m0 -1.3h0m0 8.6h0m0 -5.6h0m0 3.8h0m0 -2.1h0m0 1.8h0m0 8.6h0m0 -11.5h0m0 -3.6h0m0 -1h0m0 8.1h0m0.1 6h0m0 1.4h0m0 -6.6h0m0 -8.4h0m0 6.2h0m0 5.4h0m0 -11.8h0m0 3.2h0m0 6.4h0m0 3.8h0m0 -4.2h0m0.1 0.8h0m0 -6.9h0m0 6.5h0m0 -1.9h0m0 4.5h0m0 3.6h0m0 -4.7h0m0 -5.1h0m0 -1.8h0m0 1.4h0m0 9.2h0m0 -3.3h0m0.1 -8.3h0m0 8.4h0m0 -9.2h0m0 4.8h0m0 0.7h0m0 9h0m0 -14.8h0m0 12.6h0m0.1 -4.6h0m0 -13.2h0m0 17.1h0m0 -4.4h0m0 -4h0m0 -8.2h0m0 11.9h0m0 -12h0m0 19.6h0m0.1 -8.4h0m0 -9.8h0m0 2.5h0m0 15.4h0m0 -18.5h0m0 8.9h0m0 -0.7h0m0 0.7h0m0 6.1h0m0 -8.5h0m0 1.3h0m0.1 2.8h0m0 -6.6h0m0 14.5h0m0 -12.9h0m0 2h0m0 8.1h0m0 -17.1h0m0 13.4h0m0 -0.4h0m0 -7.4h0m0.1 1.2h0m0 3.9h0m0 -7.5h0m0 6h0m0 -4h0m0 -2.2h0m0 -3.2h0m0 5.8h0m0 11.6h0m0 -4.8h0m0 -11.1h0m0 -1.2h0m0 -0.4h0m0 15.3h0m0.1 -14.5h0m0 0.7h0m0 8.6h0m0 -4.3h0m0 0.1h0m0 5h0m0 -7.9h0m0 -1h0m0 12.2h0m0 -3.6h0m0 -4.8h0m0 1.9h0m0 -6.9h0m0 4.2h0m0.1 6.2h0m0 -2.5h0m0 -7.7h0m0 10.8h0m0 2.5h0m0 -8.5h0m0 9.8h0m0.1 -8.9h0m0 -6.6h0m0 8.5h0m0 -1.7h0m0 -6.6h0m0 2.1h0m0 10.8h0m0 -5.4h0m0 -5.5h0m0 5.9h0m0 -3.9h0m0 -1.6h0m0 7.4h0m0 2.2h0m0 -7.9h0m0 -4.2h0m0.1 5.1h0m0 5h0m0 -8h0m0 7.6h0m0 -6.7h0m0 12.1h0m0 -3.8h0m0 -7.6h0m0 12.4h0m0 -15.6h0m0 16.1h0m0 2h0m0 -13.6h0m0.1 6.2h0m0 0h0m0 5h0m0 -11h0m0 7.5h0m0 -1.5h0m0 -4.2h0m0 4.7h0m0 -9.2h0m0 -1.4h0m0 14.9h0m0.1 3.3h0m0 -15.8h0m0 16.9h0m0 -13.5h0m0 2h0m0 6.9h0m0 0.1h0m0 -3.9h0m0 -8.7h0m0 2.2h0m0 10.7h0m0 -4.2h0m0 3h0m0 -7.4h0m0 3.1h0m0 -5.1h0m0 3.2h0m0 8.6h0m0 -13.8h0m0 -1.8h0m0.1 15.8h0m0 -15.2h0m0 13.7h0m0 -11.8h0m0 -3.2h0m0 18.1h0m0 -11.7h0m0 1.2h0m0 4.2h0m0 -0.5h0m0 -4.5h0m0 -1.5h0m0 1.7h0m0 -2.1h0m0 -4.4h0m0 15.1h0m0 -3.1h0m0 2.5h0m0 -11.1h0m0 11.3h0m0.1 2h0m0 -4.7h0m0 -10.5h0m0 9.2h0m0 -11.1h0m0 10.9h0m0 -9.3h0m0 -2.4h0m0 14.5h0m0 -5.9h0m0 0.2h0m0 -7.1h0m0 13.4h0m0 -12.8h0m0.1 10.9h0m0 -4.1h0m0 5.7h0m0 -4.7h0m0 5h0m0 -8.2h0m0 -1.4h0m0 12.2h0m0 0h0m0 -17.7h0m0 12.1h0m0 -11.8h0m0.1 21.1h0m0 -21.6h0m0 16.1h0m0 -7.9h0m0 -7.3h0m0 5.4h0m0 -1.7h0m0 0.3h0m0 6.4h0m0 -1.5h0m0 -0.4h0m0 -1.9h0m0 -6.2h0m0 19.1h0m0 -5.2h0m0 3.9h0m0 -13.8h0m0 14.1h0m0 -17.1h0m0 17.4h0m0 -1.8h0m0 -0.4h0m0 -11.3h0m0.1 11.3h0m0 -15.3h0m0 -1.3h0m0 15.9h0m0 3.2h0m0 -0.9h0m0 -19.6h0m0 1.8h0m0 11.5h0m0 0.5h0m0 4.4h0m0 -4.4h0m0 -5.3h0m0 3.6h0m0 -8.9h0m0 8.1h0m0.1 0h0m0 -5.1h0m0 -0.8h0m0 4.5h0m0 -4.4h0m0 3.6h0m0 -2.6h0m0 -4.6h0m0 6.7h0m0 4.9h0m0 -13.4h0m0 4.6h0m0 -3.5h0m0 11.4h0m0 -3.4h0m0.1 6.8h0m0 -2.8h0m0 1.3h0m0 8.2h0m0 -21.7h0m0 5.2h0m0 0.4h0m0 5.6h0m0 -5.6h0m0 8.7h0m0 -13.9h0m0 13.5h0m0 7.5h0m0 -8.4h0m0 -0.9h0m0 -6.9h0m0 -1.9h0m0 9.2h0m0 0.6h0m0 3.6h0m0 -7.6h0m0 3h0m0 4h0m0 -9.7h0m0 -3.6h0m0.1 -1.5h0m0 -1.8h0m0 0.1h0m0 3.2h0m0 -2.6h0m0 14.5h0m0 -9.7h0m0 9.1h0m0 -1.5h0m0 -13h0m0 19.2h0m0 0.2h0m0 -14.8h0m0 2.5h0m0 4h0m0 4.5h0m0 -5.7h0m0.1 -4.4h0m0 1.1h0m0 3.7h0m0 7h0m0 -10.7h0m0 8.6h0m0 -8.3h0m0 -5.2h0m0 1.4h0m0 6.3h0m0.1 2.8h0m0 -8.4h0m0 5.6h0m0 7.4h0m0 -13.9h0m0 12.2h0m0 -10h0m0 9h0m0.1 5.5h0m0 1.1h0m0 -2.9h0m0 -15.7h0m0 4h0m0 8h0m0 -13.1h0m0 -0.2h0m0 -0.1h0m0 2.5h0m0 6.8h0m0 -1.5h0m0 -6.8h0m0 10.1h0m0 -9.5h0m0 6.1h0m0 8.5h0m0 -11.2h0m0 12.4h0m0 -17.1h0m0 13.5h0m0.1 -4.4h0m0 -5.7h0m0 7.7h0m0 -11.9h0m0 19.7h0m0 -19.2h0m0 14.8h0m0 -14.7h0m0 2.2h0m0 -1.7h0m0 2.1h0m0 -1h0m0 -1.1h0m0 20.9h0m0 -22h0m0 15.1h0m0 -14.4h0m0 6.5h0m0 -2.3h0m0 7.7h0m0 -8.5h0m0 -3.9h0m0 5.8h0m0 11.6h0m0 4h0m0.1 -21.2h0m0 15.6h0m0 -11.5h0m0 -0.7h0m0 1.5h0m0 2.4h0m0 -8.3h0m0 14.3h0m0 5.9h0m0 -16h0m0 -0.2h0m0 -0.8h0m0 8.4h0m0 2.7h0m0 0.2h0m0 3h0m0 -12h0m0 13.4h0m0 -7.4h0m0 -2.1h0m0 6.2h0m0 -8.1h0m0 3.4h0m0 -0.1h0m0 -1.9h0m0 2.2h0m0 -7.6h0m0.1 -2.3h0m0 5.7h0m0 14.7h0m0 -7.1h0m0 -14.1h0m0 2.8h0m0 1.4h0m0 -3h0m0 7.7h0m0 -3.3h0m0 -3.6h0m0 5.7h0m0 11.8h0m0 -6.7h0m0 -4.3h0m0 7.5h0m0 -9.9h0m0 10.9h0m0 -8h0m0 -6.3h0m0 3.6h0m0 11.8h0m0 -8.8h0m0 3.4h0m0 8.9h0m0 -19.6h0m0 15.3h0m0.1 -13.8h0m0 5.8h0m0 1.8h0m0 4.8h0m0 -3.2h0m0 -9.1h0m0 1.6h0m0 1.5h0m0 8.9h0m0 -8.4h0m0 -4.1h0m0 -1.1h0m0 14.4h0m0 -16.3h0m0 13.8h0m0 -12.4h0m0 -0.6h0m0 7.8h0m0 -1.8h0m0 -2h0m0 -0.7h0m0 8.9h0m0.1 -12.6h0m0 8.9h0m0 -0.5h0m0 -9.2h0m0 13.4h0m0 -2.8h0m0 -9h0m0 17.6h0m0 -15.2h0m0 6.1h0m0 1h0m0 -8.4h0m0 -1.7h0m0 8.5h0m0 1.3h0m0 8.7h0m0 -14.3h0m0 9.7h0m0 -5.9h0m0 3.7h0m0.1 -3h0m0 -8.4h0m0 13.8h0m0 -13h0m0 1.3h0m0 4.9h0m0 8.3h0m0 -14.4h0m0 12.2h0m0 0.5h0m0 5.9h0m0 -19.5h0m0 12.9h0m0 -2h0m0 4.9h0m0 0.9h0m0 -11.5h0m0.1 1.4h0m0 3.7h0m0 -3.3h0m0 9.4h0m0 -16.5h0m0 0.5h0m0 14.3h0m0 -8.5h0m0 3.5h0m0 -0.6h0m0 -9.4h0m0 2.4h0m0 -2.5h0m0 21.3h0m0 -5.8h0m0 -3.3h0m0 -4.4h0m0 3.5h0m0 1.1h0m0 3.7h0m0 -6.2h0m0 -6.8h0m0 12.3h0m0 -6.6h0m0.1 2.4h0m0 8.5h0m0 -18.1h0m0 11.7h0m0 0.2h0m0 -14.7h0m0 7.3h0m0 7.5h0m0 -8.1h0m0 1.3h0m0 0.4h0m0 8.1h0m0 -16.2h0m0 6.1h0m0 0.9h0m0 -1.6h0m0 3.7h0m0 -7.7h0m0 0.2h0m0 10.6h0m0 7.1h0m0 -9.9h0m0 -6.6h0m0.1 14.5h0m0 -16h0m0 1.7h0m0 6.4h0m0 -2.4h0m0 -6h0m0 12.8h0m0 -8.6h0m0 14.7h0m0 -6.3h0m0 0.6h0m0 0.5h0m0 0.6h0m0 -1.3h0m0 4.7h0m0 -12.5h0m0 3.6h0m0 10.8h0m0 -16.1h0m0 13.6h0m0 -13.8h0m0 9.2h0m0 -9h0m0 12.1h0m0 -2.6h0m0 6.5h0m0 -9h0m0 1h0m0.1 -3.8h0m0 -8.7h0m0 7.4h0m0 0.9h0m0 11.7h0m0 -2.4h0m0 -1.2h0m0 -4.4h0m0 -11h0m0 9.7h0m0 1.2h0m0 -0.9h0m0 4.9h0m0 3.3h0m0 -18.3h0m0 0h0m0 4.8h0m0 7.1h0m0.1 -4.9h0m0 4.3h0m0 1.2h0m0 -2.6h0m0 2.6h0m0 -10.8h0m0 0.3h0m0 0.2h0m0 11.8h0m0 -1.6h0m0 -11.1h0m0 0.2h0m0 4.4h0m0 -6.9h0m0 -0.1h0m0 20.5h0m0 -10.6h0m0 5.7h0m0 -13.3h0m0 11h0m0 -4.7h0m0 2.4h0m0 4.1h0m0 -0.6h0m0 2.6h0m0 -2.6h0m0 -4h0m0 10.6h0m0 -13.8h0m0 7.4h0m0 -6.8h0m0 -0.4h0m0 -2.9h0m0 -0.4h0m0.1 10.9h0m0 -7.8h0m0 3.8h0m0 -4.6h0m0 0.8h0m0 15.6h0m0 -9h0m0 -10.5h0m0 3.5h0m0 3.2h0m0 -9h0m0 -0.6h0m0 10.8h0m0 -4.2h0m0 7.7h0m0 6.1h0m0 -0.2h0m0 -13.8h0m0 13.2h0m0 -2.2h0m0 -3.2h0m0 5.3h0m0 -18h0m0 4.6h0m0 -6.2h0m0 19.7h0m0 -17h0m0.1 4.6h0m0 -0.6h0m0 -4.3h0m0 7.5h0m0 0.2h0m0 -9.4h0m0 20.4h0m0 -18.3h0m0 -0.7h0m0 10.1h0m0 -8.9h0m0 10.3h0m0 0h0m0 -1.4h0m0 -11h0m0 12.3h0m0 -12h0m0 15.4h0m0 1.9h0m0 -3.5h0m0 1.4h0m0 -5.4h0m0 -11.5h0m0.1 6.5h0m0 4.3h0m0 11.5h0m0 -21.7h0m0 1.4h0m0 6.7h0m0 -5.2h0m0 -0.4h0m0 -3.4h0m0 11.2h0m0 -4.7h0m0 6.6h0m0 -6.5h0m0 14.6h0m0 -5.5h0m0 -11.8h0m0 0.6h0m0 9.3h0m0 2.1h0m0 -6.3h0m0.1 -0.1h0m0 9.4h0m0 -7.2h0m0 10.5h0m0 -20.1h0m0 14.8h0m0 -15.4h0m0 13.3h0m0 -10.6h0m0 5.1h0m0 -1.1h0m0 1.7h0m0 -0.4h0m0 -3.6h0m0 10.9h0m0 -12.3h0m0 18.1h0m0 -22.1h0m0 5.9h0m0 0.8h0m0 10.5h0m0 -6.3h0m0 -8.2h0m0 7.6h0m0 -1.7h0m0 -2.3h0m0 -3.9h0m0 7.2h0m0.1 2.7h0m0 6.5h0m0 -7.5h0m0 -3h0m0 0.6h0m0 0.7h0m0 9.6h0m0 -7h0m0 4.8h0m0 -3.5h0m0 -10.6h0m0 -2.1h0m0 14.3h0m0 0.4h0m0 5.4h0m0 -17.6h0m0 8.2h0m0 -5.6h0m0 13.6h0m0 -4.3h0m0 -1.6h0m0 -13.5h0m0 10.2h0m0 -1.8h0m0 -3.2h0m0 14h0m0 2.7h0m0 -9.6h0m0 8.7h0m0 -21.4h0m0 16.8h0m0 -10.8h0m0.1 6.3h0m0 -10.5h0m0 12.4h0m0 -13.5h0m0 4.4h0m0 3.5h0m0 -2.1h0m0 11.8h0m0 -4.9h0m0 2.1h0m0 6.6h0m0 -7.3h0m0 -7.1h0m0 -3.4h0m0 -2.3h0m0 20h0m0 -11.1h0m0 9.7h0m0 -1.8h0m0 -11.9h0m0 5.8h0m0 1.7h0m0 -7h0m0 -0.6h0m0 -4.2h0m0 6.3h0m0 2.9h0m0 10.5h0m0 -9.1h0m0 4.4h0m0 -7h0m0 -6.4h0m0.1 3.6h0m0 4.1h0m0 -6.2h0m0 2.5h0m0 4.3h0m0 -3.3h0m0 1h0m0 0.1h0m0 7.9h0m0 3.7h0m0 -20.3h0m0 3.4h0m0 1.8h0m0 -2h0m0 7h0m0 3.2h0m0 2.1h0m0 4.6h0m0 -16.9h0m0 3.3h0m0 -1.2h0m0 3.8h0m0 0.8h0m0 2h0m0 -4.4h0m0 -2.6h0m0 -1.7h0m0 -0.7h0m0 13.9h0m0 2.4h0m0 0.2h0m0 -4.9h0m0.1 -14.4h0m0 0.3h0m0 21.1h0m0 -20.2h0m0 9.6h0m0 3.9h0m0 3.3h0m0 -4.6h0m0 -7.3h0m0 10.1h0m0 -14.9h0m0 16.5h0m0 -1.2h0m0 -2.6h0m0 -8.4h0m0 -1.8h0m0 10.1h0m0 -11h0m0 -4h0m0 0.9h0m0 8.4h0m0 -9.2h0m0 16.3h0m0.1 -5h0m0 -9.3h0m0 5.7h0m0 -4.9h0m0 9.2h0m0 -9.2h0m0 14.6h0m0 -15.3h0m0 1.4h0m0 6.2h0m0 1.6h0m0 -6.7h0m0 4.5h0m0 11h0m0 -15.8h0m0 4.1h0m0 -5.2h0m0 2.7h0m0 5.7h0m0 -3.4h0m0 -5.1h0m0 8.8h0m0 -8.9h0m0 12.2h0m0 -14.8h0m0 11.2h0m0.1 1.1h0m0 -13.1h0m0 2.6h0m0 15.5h0m0 3.7h0m0 -17.2h0m0 11.6h0m0 -3.8h0m0 3.3h0m0 -11.8h0m0 17.7h0m0 -12.3h0m0 -8.8h0m0 0.1h0m0 19.4h0m0 -12.7h0m0 14.1h0m0 1.3h0m0 -7.1h0m0 3.9h0m0 -8.8h0m0 1.8h0m0 -1.2h0m0 6.1h0m0 -4.3h0m0 -3.1h0m0.1 2.9h0m0 1.1h0m0 -11.2h0m0 12.2h0m0 -13.6h0m0 17.3h0m0 -17h0m0 1.9h0m0 9h0m0 -10.4h0m0 11h0m0 2h0m0 0.6h0m0 1.9h0m0 -5.9h0m0 6.4h0m0 -5.3h0m0 -8.5h0m0 16h0m0 1.4h0m0 -9.5h0m0.1 -7.4h0m0 -3.9h0m0 12.2h0m0 -11h0m0 -0.4h0m0 5.4h0m0 14.1h0m0 -17.7h0m0 12.6h0m0 -5.1h0m0 0.1h0m0 1.4h0m0 -11.1h0m0 19.9h0m0 -17.2h0m0 11.9h0m0 5.3h0m0 -16.4h0m0 0.9h0m0 -1.3h0m0 -4.2h0m0 0.1h0m0 17.3h0m0 -11.7h0m0 1.2h0m0.1 15.4h0m0 -21.4h0m0 3.8h0m0 -3.2h0m0 7.7h0m0 10.3h0m0 -10.2h0m0 7.6h0m0 -0.6h0m0 6.1h0m0 -21.3h0m0 0h0m0 9.1h0m0 -4.1h0m0 12.6h0m0 -16.4h0m0 5.1h0m0 0.1h0m0 -6.4h0m0 19.7h0m0 -0.3h0m0 -12.1h0m0 7.9h0m0 -14.9h0m0 2.9h0m0 -2.3h0m0 15.2h0m0.1 -9.5h0m0 7.8h0m0 -12.7h0m0 18h0m0 -8.8h0m0 -4.2h0m0 10h0m0 -17.8h0m0 19.6h0m0 -12h0m0 9.5h0m0 -5.2h0m0 -4h0m0 14.7h0m0 -11.7h0m0 0.8h0m0 -10.7h0m0 10.1h0m0 -5.7h0m0 13.2h0m0 -10.5h0m0 5.1h0m0 -10.4h0m0 13.6h0m0 -5.2h0m0 -0.1h0m0 -6.4h0m0 2.6h0m0.1 11.6h0m0 -6.2h0m0 -8.4h0m0 15.1h0m0 -16h0m0 6.9h0m0 1.4h0m0 8.9h0m0 2.2h0m0 -8.3h0m0 -2.9h0m0 -8.4h0m0 5.3h0m0 11.7h0m0 -13.5h0m0 2.2h0m0 1.4h0m0 -7.7h0m0 7.4h0m0 -8.7h0m0 12.7h0m0 -13.9h0m0 1.6h0m0 12.9h0m0 5.9h0m0 -17.9h0m0 12.4h0m0 3.6h0m0 2.5h0m0.1 -4.2h0m0 -13.5h0m0 9.5h0m0 -1.6h0m0 10.9h0m0 -4.8h0m0 -1.5h0m0 5.8h0m0 -12.1h0m0 -6.1h0m0 1.5h0m0 13.9h0m0 -8.6h0m0 2.3h0m0 5.5h0m0 1.4h0m0 -18.3h0m0 6.2h0m0 7.4h0m0 -3.7h0m0 -10.8h0m0 16.4h0m0 -10.7h0m0 -4.2h0m0 8h0m0 2.6h0m0 -3.1h0m0 -7.4h0m0 2.8h0m0 9h0m0 0.8h0m0 -4.5h0m0 -5.9h0m0 1.1h0m0 4.6h0m0 1.2h0m0 -3.7h0m0 8.7h0m0.1 -9.3h0m0 15.2h0m0 -9.8h0m0 6.1h0m0 -9.8h0m0 -0.9h0m0 -1.6h0m0 5.1h0m0 2.7h0m0 -5.1h0m0 3.9h0m0 -5h0m0 11.9h0m0 -0.2h0m0 -4.4h0m0 -7.6h0m0 -6h0m0 16.8h0m0 4.1h0m0 -16.8h0m0 -4.6h0m0 18.3h0m0 -12.9h0m0 14.3h0m0.1 -13h0m0 -3.3h0m0 -0.9h0m0 -1.9h0m0 5.9h0m0 -1.9h0m0 10.1h0m0 -2h0m0 -13.1h0m0 8.6h0m0 11.6h0m0 -21h0m0 12.8h0m0 -0.5h0m0 -10.6h0m0 13.1h0m0 -9.6h0m0 0h0m0 3.7h0m0 -6.3h0m0 4.3h0m0 2.7h0m0 10.9h0m0 -5.5h0m0 -9.9h0m0 12.6h0m0 -16.8h0m0 19.8h0m0 -18.3h0m0.1 -1.1h0m0 14.3h0m0 -14.2h0m0 9.3h0m0 3.3h0m0 1.7h0m0 -8.1h0m0 -6.5h0m0 8.9h0m0 9.3h0m0 -15.5h0m0 4.8h0m0 -3.1h0m0 0.2h0m0 7.3h0m0 -1.7h0m0 -10.8h0m0 1h0m0 6.9h0m0 4.3h0m0 -1.6h0m0 -10h0m0 11.4h0m0 -1.4h0m0 -5.5h0m0 -4.7h0m0 0.6h0m0 18.1h0m0.1 -18.4h0m0 20.8h0m0 -5.5h0m0 0.7h0m0 0.1h0m0 -16.8h0m0 21.7h0m0 -1.7h0m0 -11.1h0m0 -5.2h0m0 8.1h0m0 -8.6h0m0 7.5h0m0 0.7h0m0 0.7h0m0 -6.7h0m0 3.3h0m0 6.5h0m0 0.6h0m0 0.8h0m0 -1.4h0m0 -7.5h0m0 -4.8h0m0 -1.5h0m0 13.6h0m0 3.2h0m0 -15.7h0m0 5.5h0m0 -8.2h0m0 5h0m0 17.6h0m0 -21.5h0m0 7.9h0m0 0.4h0m0 -8.6h0m0 19.6h0m0 2.2h0m0 -11.7h0m0 9.1h0m0 -12.7h0m0.1 2.1h0m0 -3.5h0m0 4.5h0m0 1.8h0m0 -0.5h0m0 -0.9h0m0 5.1h0m0 -14.7h0m0 18.6h0m0 -9.8h0m0 1.4h0m0 11.2h0m0 -18.4h0m0 18.7h0m0 -12.2h0m0 -4.5h0m0 -1.6h0m0 7.8h0m0 -0.8h0m0 6.8h0m0 -9.8h0m0 8.8h0m0 -14.5h0m0 4h0m0 4.6h0m0 -9.9h0m0 13.6h0m0 -4.2h0m0 6.6h0m0 -14.7h0m0 10.1h0m0 6.5h0m0 -4.1h0m0 -13h0m0 18.8h0m0 -11.1h0m0 -6.8h0m0.1 9.8h0m0 -1.8h0m0 4.4h0m0 1.9h0m0 -7.1h0m0 6.5h0m0 -4.1h0m0 4.6h0m0 -3.1h0m0 -7.3h0m0 7.8h0m0 -0.3h0m0 -7.1h0m0 2.7h0m0 0.5h0m0 2.6h0m0 1.1h0m0 -4.3h0m0 2.9h0m0 2.9h0m0 -6.3h0m0 3.3h0m0 4.4h0m0 -11h0m0 -4.7h0m0 16.3h0m0 -4.4h0m0 4.5h0m0 -7.7h0m0 -10.2h0m0 11.4h0m0 -2.1h0m0 -2.5h0m0 7.5h0m0 -12.5h0m0 3h0m0 6.7h0m0 5.1h0m0.1 2.5h0m0 -16.8h0m0 12.5h0m0 -1.1h0m0 -14h0m0 14.3h0m0 3h0m0 -8.8h0m0 0.6h0m0 7h0m0 4.8h0m0 -14.6h0m0 10.4h0m0 4.5h0m0 -12.1h0m0 4.5h0m0 -3.7h0m0 0.7h0m0 3.7h0m0 1.8h0m0 2.9h0m0 -18.6h0m0 4.4h0m0 -4.4h0m0 0.8h0m0 10.8h0m0 5.4h0m0 -10.2h0m0 6.8h0m0 -8.9h0m0 11.8h0m0 5.4h0m0 -6.1h0m0 3.1h0m0 -17.8h0m0 18.1h0m0 -8h0m0 -0.4h0m0 6.6h0m0.1 -8h0m0 2.8h0m0 0.3h0m0 2h0m0 -3.1h0m0 9.3h0m0 -8h0m0 -4.9h0m0 -1.3h0m0 2.9h0m0 12.8h0m0 -14.1h0m0 -2.1h0m0 12.9h0m0 -17.9h0m0 17.6h0m0 -9h0m0 -2.9h0m0 3.7h0m0 6.8h0m0 -11.6h0m0 -1.3h0m0 2h0m0 3.7h0m0 -9.4h0m0 0.5h0m0 6.4h0m0 0.5h0m0.1 -1.9h0m0 10.2h0m0 -4h0m0 7.3h0m0 -12.1h0m0 -4.3h0m0 13.8h0m0 -6.1h0m0 0.9h0m0 9h0m0 -17.8h0m0 12.4h0m0 -4.4h0m0 8.7h0m0 -12.5h0m0 9.4h0m0 -0.4h0m0 -1.8h0m0 7h0m0 -19.5h0m0 7.4h0m0 -3.1h0m0 11.2h0m0 4.6h0m0 -3h0m0 -18.5h0m0 -1h0m0 0.9h0m0 10.3h0m0 -4.8h0m0.1 -5.2h0m0 12h0m0 4.1h0m0 -17.2h0m0 12.8h0m0 -1.3h0m0 -4.8h0m0 15.6h0m0 -21.4h0m0 19.9h0m0 0.4h0m0 -21.2h0m0 17.6h0m0 -17.6h0m0 16h0m0 1.9h0m0 -0.6h0m0 -6.8h0m0 4h0m0 -2.1h0m0 2.8h0m0 -7.3h0m0 15.2h0m0 -12.6h0m0 4h0m0 0.4h0m0 -1.3h0m0.1 -10.4h0m0 -2.7h0m0 10.8h0m0 6.3h0m0 -12.1h0m0 -0.1h0m0 16.8h0m0 -10.7h0m0 4.1h0m0 2.2h0m0 3.8h0m0 -18.3h0m0 -0.4h0m0 8.4h0m0 4.1h0m0 -9.2h0m0 13.8h0m0 -3.8h0m0 0.7h0m0 0.7h0m0 -7.5h0m0 3.4h0m0 -8.9h0m0 15h0m0 -12.2h0m0 3.8h0m0 7.5h0m0.1 -12.8h0m0 5.7h0m0 -8.9h0m0 1h0m0 7.7h0m0 0.6h0m0 -0.7h0m0 10.6h0m0 -12.1h0m0 0.5h0m0 1.6h0m0 -10.9h0m0 10h0m0 -9.8h0m0 12.8h0m0 -8.1h0m0 1.2h0m0 1.5h0m0 -3h0m0 -5.2h0m0 16.7h0m0 -1.9h0m0 -6h0m0 -8.7h0m0 7.7h0m0 -1.1h0m0 -6.9h0m0 16.8h0m0 -14.5h0m0 8h0m0 4.5h0m0 -9.8h0m0 13.4h0m0 -13.9h0m0 2.5h0m0 -5.4h0m0.1 15.4h0m0 -14.2h0m0 18.3h0m0 -1.4h0m0 2.2h0m0 -11.1h0m0 5.3h0m0 -13.1h0m0 10.1h0m0 3.3h0m0 -16h0m0 20.3h0m0 -6.5h0m0 1.1h0m0 -6.9h0m0 -2.3h0m0 -1.5h0m0 -4.2h0m0 2.2h0m0 17.9h0m0 -18.6h0m0 15.3h0m0 0.4h0m0 -17.1h0m0 12.4h0m0 -4.7h0m0 -2.2h0m0 7.1h0m0 -7.1h0m0 3.4h0m0 10.5h0m0 -8.8h0m0.1 -10.4h0m0 1.6h0m0 10.5h0m0 8.3h0m0 -1.5h0m0 -12.1h0m0 7h0m0 1.8h0m0 -15.8h0m0 7.3h0m0 8.6h0m0 -5.6h0m0 12.1h0m0 -21.2h0m0 10h0m0 5.8h0m0 -16.6h0m0 17.6h0m0 -12.9h0m0 4.1h0m0 -1.4h0m0 2.7h0m0 -5.3h0m0 11.2h0m0 -1.2h0m0 -14.6h0m0 12.1h0m0 -7.5h0m0 -4.2h0m0 3.8h0m0 6.5h0m0 0.3h0m0 10.1h0m0 -6.6h0m0 -0.4h0m0 -4.9h0m0 5.6h0m0 -15.7h0m0 1.7h0m0 -0.2h0m0 6.5h0m0 -5.7h0m0.1 8.1h0m0 10.9h0m0 1.7h0m0 -5.1h0m0 -17.4h0m0 8.6h0m0 -1.5h0m0 -2.4h0m0 17.6h0m0 -11.8h0m0 5.8h0m0 -12.8h0m0 9.8h0m0 1.6h0m0 -5.7h0m0 -2.4h0m0 -6.3h0m0 11.3h0m0 1.9h0m0 1.5h0m0 -3.2h0m0 -1.8h0m0 9.7h0m0 -7h0m0 6.4h0m0 -8.3h0m0 7h0m0 -0.8h0m0 -17.4h0m0 8.8h0m0 -0.4h0m0 -4.6h0m0 -3.7h0m0.1 1.1h0m0 19h0m0 -16.3h0m0 1.9h0m0 7.4h0m0 9.4h0m0 -2.3h0m0 2.4h0m0 -6.3h0m0 5.5h0m0 -2.3h0m0 -0.3h0m0 -10.2h0m0 -8h0m0 2h0m0 19.3h0m0 -7.9h0m0 -4.2h0m0 2.3h0m0 -9.1h0m0 -3.7h0m0 15.4h0m0 -14.2h0m0 8.8h0m0 -6.7h0m0 3h0m0 -6.4h0m0 6.5h0m0 11.1h0m0 -16.8h0m0 7.9h0m0 -8h0m0 4.2h0m0 2.7h0m0.1 2.9h0m0 5.7h0m0 -8.3h0m0 0.5h0m0 5.1h0m0 -1.2h0m0 5h0m0 -5.4h0m0 -4.3h0m0 9.9h0m0 -6.8h0m0 0.2h0m0 1.9h0m0 6.2h0m0 -12.1h0m0 -0.8h0m0 -1.9h0m0 -2.8h0m0 13.2h0m0 -12.1h0m0 2.8h0m0 4.1h0m0 5h0m0 0.4h0m0 -14.9h0m0 15.3h0m0 -12.6h0m0 8.8h0m0 -9.8h0m0 3h0m0.1 4.5h0m0 1.5h0m0 -2.6h0m0 13.1h0m0 -0.7h0m0 -10.1h0m0 -10.4h0m0 5.9h0m0 13.9h0m0 -13.5h0m0 -4h0m0 10.6h0m0 -0.7h0m0 4.5h0m0 -16.1h0m0 19.3h0m0 -10.3h0m0 -1.5h0m0 1.5h0m0 0.7h0m0 8.8h0m0 -15.6h0m0 15.7h0m0 -15.5h0m0 11.2h0m0 -3.7h0m0 -9.8h0m0 -0.5h0m0 0.9h0m0 0.3h0m0 11.1h0m0 0.1h0m0 6.5h0m0 -4.6h0m0 -7.1h0m0 8.2h0m0 -4.3h0m0.1 8.1h0m0 -20h0m0 20.3h0m0 -2.6h0m0 -17h0m0 6h0m0 10.2h0m0 -6.1h0m0 7.9h0m0 -14.3h0m0 18.2h0m0 -17.3h0m0 1h0m0 2.6h0m0 10.2h0m0 -2.1h0m0 -0.1h0m0 -11.6h0m0 3.7h0m0 -2.8h0m0 14.3h0m0 -16.7h0m0 0.5h0m0 -4.4h0m0 7.8h0m0 13h0m0 -16.8h0m0 11.1h0m0 5.7h0m0 -6.8h0m0 -9.7h0m0 16.3h0m0 -7.9h0m0 2.7h0m0 1.2h0m0 -7.6h0m0 4.1h0m0 7.9h0m0 -17h0m0 -3.7h0m0 5.1h0m0.1 1.2h0m0 3h0m0 9.4h0m0 1.6h0m0 -13.7h0m0 10.8h0m0 -9.1h0m0 2.2h0m0 -9.9h0m0 21.6h0m0 -3.1h0m0 -10.9h0m0 -6.2h0m0 17h0m0 2.3h0m0 -6.8h0m0 -9.5h0m0 4.6h0m0 11.4h0m0 -0.4h0m0 -3.9h0m0 -1.7h0m0 3.5h0m0 -11.6h0m0 0.7h0m0 1.7h0m0 11.6h0m0 -16.4h0m0 0.2h0m0 0.6h0m0 12.8h0m0 -5.9h0m0 1.5h0m0.1 -4.4h0m0 10.2h0m0 -11.7h0m0 12.5h0m0 -9h0m0 5.4h0m0 1.1h0m0 -17.9h0m0 9.3h0m0 12.2h0m0 -6.2h0m0 -4.6h0m0 5.7h0m0 2.1h0m0 -6.8h0m0 1.3h0m0 1.9h0m0 -15.4h0m0 3.4h0m0 8.3h0m0 -7h0m0 17.2h0m0 -1.6h0m0 -1.6h0m0 2.6h0m0 -6.5h0m0 -0.7h0m0 4.4h0m0 0.1h0m0 -7.9h0m0 5.6h0m0 -8.5h0m0 8.6h0m0 -7.1h0m0 8.5h0m0 -11.2h0m0 5.8h0m0.1 -6.2h0m0 -2.7h0m0 6.2h0m0 -8.2h0m0 8.3h0m0 5.9h0m0 4.5h0m0 -17.6h0m0 14.6h0m0 -13.5h0m0 19.2h0m0 -14h0m0 10.5h0m0 -6.8h0m0 4.9h0m0 -0.3h0m0 5.3h0m0 -16.7h0m0 -1.2h0m0 7.1h0m0 9.1h0m0 -15.2h0m0 14.8h0m0 0.1h0m0 -0.1h0m0 1.3h0m0 -2h0m0 -16.3h0m0 3.7h0m0 3.9h0m0 8.3h0m0 -5.5h0m0 1.7h0m0.1 -2.2h0m0 5.7h0m0 -11.2h0m0 12.9h0m0 -0.3h0m0 -3.3h0m0 -8.5h0m0 3.9h0m0 1.5h0m0 5.6h0m0 -7.8h0m0 7h0m0 -2.9h0m0 -8.9h0m0 7.4h0m0 -9.3h0m0 -3.2h0m0 15.7h0m0 -0.1h0m0 -13.1h0m0 16.7h0m0 -17.8h0m0 16.4h0m0 -9.8h0m0 7h0m0 -15.1h0m0 -1.9h0m0 12h0m0 6.3h0m0 0.7h0m0 2.5h0m0 -2h0m0 0.4h0m0 -8.9h0m0.1 8.2h0m0 -11.9h0m0 -4.5h0m0 7.1h0m0 -3.4h0m0 11.2h0m0 -11.8h0m0 -4.6h0m0 5.2h0m0 0.6h0m0 8.9h0m0 7.1h0m0 -18.1h0m0 7h0m0 10.5h0m0 -5.8h0m0 -15h0m0 21.8h0m0 -10.1h0m0 9.1h0m0 -16.2h0m0 -4.1h0m0 3.5h0m0 5.8h0m0 -11.3h0m0 4h0m0 15.1h0m0 -14h0m0 17.2h0m0 -14.9h0m0 9.4h0m0 -16.7h0m0 12.5h0m0 -7.5h0m0 -3.1h0m0 7.3h0m0 2.6h0m0 0.8h0m0 -10.4h0m0 0.4h0m0.1 12.9h0m0 -13.2h0m0 1.9h0m0 10.2h0m0 -4.8h0m0 11.8h0m0 -8.3h0m0 -0.6h0m0 -2.4h0m0 -5.1h0m0 -2.8h0m0 7h0m0 -3.5h0m0 4.5h0m0 -1.4h0m0 9.5h0m0 -9.2h0m0 0h0m0 -8.7h0m0 15.2h0m0 -1.3h0m0 2.8h0m0 -6.6h0m0 6.6h0m0 -8.5h0m0 13.4h0m0 -8.6h0m0 -6.1h0m0 14.8h0m0 -18h0m0 15.9h0m0 -13.4h0m0 -2.4h0m0 4.1h0m0 3.2h0m0 1.4h0m0 -12.2h0m0 19.5h0m0 -6.1h0m0 -7.2h0m0 2.4h0m0.1 0.8h0m0 1.5h0m0 -4.3h0m0 7.4h0m0 -10.4h0m0 11.2h0m0 -9.2h0m0 10h0m0 -2.7h0m0 -4.4h0m0 12.9h0m0 -13.2h0m0 8h0m0 -7.9h0m0 7.9h0m0 4h0m0 -0.7h0m0 -9.6h0m0 -2.4h0m0 8.1h0m0 -0.2h0m0 -8.2h0m0 -5.9h0m0 9.4h0m0 -2.9h0m0 -8.2h0m0 14.7h0m0.1 -2.8h0m0 7h0m0 -16.6h0m0 12.4h0m0 0.6h0m0 -11.3h0m0 9.9h0m0 -14.4h0m0 14.1h0m0 2.4h0m0 4.9h0m0 -7.4h0m0 5.4h0m0 -5.7h0m0 1.9h0m0 -12.6h0m0 5.2h0m0 10.1h0m0 4h0m0 -19.8h0m0 1.7h0m0 2.5h0m0 9.3h0m0 1.8h0m0 -0.3h0m0 -0.3h0m0 -14.6h0m0 20.3h0m0 -18.2h0m0 5.7h0m0 8.3h0m0 -5.8h0m0.1 0.7h0m0 6.2h0m0 0.1h0m0 1.8h0m0 -3.2h0m0 0.4h0m0 3.9h0m0 -12.2h0m0 -10.1h0m0 11.7h0m0 -10.8h0m0 -1.1h0m0 19.1h0m0 -9h0m0 -10.3h0m0 18h0m0 2.6h0m0 -2.5h0m0 0.9h0m0 -8.2h0m0 -7.3h0m0 2h0m0 11.3h0m0 6.1h0m0 -20.9h0m0 17.9h0m0 -12.3h0m0 14.1h0m0 -10.3h0m0 0h0m0 10.7h0m0 0.8h0m0 -14.8h0m0 9.3h0m0 -6.7h0m0.1 4.2h0m0 -2.9h0m0 -11.3h0m0 18.5h0m0 -17.3h0m0 1.9h0m0 11.8h0m0 -2.4h0m0 -11.2h0m0 5.8h0m0 6.1h0m0 -8.7h0m0 4.6h0m0 4.1h0m0 1.4h0m0 7.2h0m0 -15.5h0m0 7.9h0m0 4.9h0m0 -5.6h0m0 -8.4h0m0 11.2h0m0 1.2h0m0 -17.8h0m0 21.9h0m0 -17.3h0m0 -1.4h0m0 8.2h0m0 3.9h0m0 -1.4h0m0 3.3h0m0.1 -12.1h0m0 9.8h0m0 -9.3h0m0 9.1h0m0 0.5h0m0 4.7h0m0 -14.7h0m0 14.8h0m0 -0.4h0m0 -17.7h0m0 1.3h0m0 16h0m0 -16.5h0m0 18h0m0 -16.1h0m0 4.8h0m0 -4.5h0m0 -2.8h0m0 2.8h0m0 4.2h0m0 -4.8h0m0 17.2h0m0 -18.3h0m0 15.9h0m0 -1.1h0m0 -13.7h0m0 8.4h0m0 5h0m0 0.7h0m0 -17.9h0m0 15.3h0m0 -1.2h0m0.1 1.2h0m0 -5.3h0m0 3.2h0m0 2h0m0 -2h0m0 -13.9h0m0 0.4h0m0 17.4h0m0 -4h0m0 -6.7h0m0 -5.1h0m0 -1.1h0m0 18.3h0m0 -0.5h0m0 -6.2h0m0 -3.8h0m0 -7.4h0m0 1h0m0 0.1h0m0 3.5h0m0 4.8h0m0 -1.3h0m0 6.2h0m0 -6.9h0m0 -1.7h0m0 12.8h0m0 -17.3h0m0 7.8h0m0 9h0m0 -0.4h0m0 -0.9h0m0 -0.8h0m0 -3.9h0m0 0.2h0m0 -4.6h0m0 4.8h0m0.1 -0.4h0m0 -4.9h0m0 1.6h0m0 -3.5h0m0 3.4h0m0 2.4h0m0 -2.5h0m0 0h0m0 -3.1h0m0 4.3h0m0 9.1h0m0 -19.9h0m0 3.8h0m0 0h0m0 -3.4h0m0 8.2h0m0 3.7h0m0 -7.4h0m0 -2.3h0m0 11.3h0m0 -11.4h0m0 10.4h0m0 3.2h0m0 -1.2h0m0 -6.3h0m0 -4.5h0m0 0h0m0 18.9h0m0 -11h0m0 10.9h0m0.1 -21.6h0m0 17.3h0m0 1.9h0m0 -18h0m0 3.9h0m0 0.1h0m0 -3.8h0m0 6h0m0 3.7h0m0 -2.7h0m0 -4h0m0 1.4h0m0 -4.3h0m0 18.8h0m0 -20.9h0m0 13.5h0m0 -13.1h0m0 16h0m0 -11.7h0m0 -4.6h0m0 12.8h0m0 2.5h0m0 -1.7h0m0 7.9h0m0 -17.8h0m0 -1.5h0m0 2.4h0m0 6.9h0m0.1 -2.5h0m0 -4.8h0m0 10.3h0m0 -9.3h0m0 8.1h0m0 1.6h0m0 3.5h0m0 -10h0m0 4.6h0m0 -14.4h0m0 1.5h0m0 12.3h0m0 -1.9h0m0 -11.2h0m0 13.7h0m0 -6.5h0m0 13.5h0m0 -16.6h0m0 9.2h0m0 -0.1h0m0 3h0m0 -9.2h0m0 12.5h0m0 1.7h0m0 -19.2h0m0 12.1h0m0 3.6h0m0 -1.4h0m0 -16.7h0m0 10.6h0m0 -3.7h0m0.1 10.2h0m0 -3.7h0m0 -1.8h0m0 -11.6h0m0 8.8h0m0 12.1h0m0 -18h0m0 11.2h0m0 -7.9h0m0 8.6h0m0 -14.8h0m0 7.3h0m0 12.6h0m0 -6.6h0m0 -1.7h0m0 -3h0m0 11.7h0m0 -17.8h0m0 9.6h0m0 2.4h0m0 -0.4h0m0 -6.4h0m0 13.8h0m0 -18.8h0m0 7.8h0m0 -1.7h0m0 -0.1h0m0 -8.6h0m0 1h0m0 13.9h0m0 -5.2h0m0 0.3h0m0 -1.9h0m0 4.8h0m0 -8h0m0 -3.4h0m0 20.7h0m0 -18.1h0m0 15.5h0m0 -15.4h0m0 15.1h0m0 -11.7h0m0 -7.1h0m0 6.4h0m0.1 1.4h0m0 5.8h0m0 -9.4h0m0 -4.9h0m0 7.4h0m0 13.5h0m0 -3.4h0m0 3.6h0m0 -15.7h0m0 -4.7h0m0 12.4h0m0 3.6h0m0 3h0m0 -1.2h0m0 -8.6h0m0 6.5h0m0 4h0m0 0.5h0m0 -4h0m0 3.7h0m0 -1.2h0m0 -0.4h0m0 1.5h0m0 -17.3h0m0 7.5h0m0 3.2h0m0 -4.6h0m0 7.5h0m0 4.9h0m0.1 -21.2h0m0 2h0m0 6.6h0m0 -8.5h0m0 2.9h0m0 9.1h0m0 7.7h0m0 -0.2h0m0 -16.4h0m0 12.6h0m0 4.8h0m0 -12.8h0m0 -8.1h0m0 13.9h0m0 7.6h0m0 -13.5h0m0 11.6h0m0 -4.4h0m0 -2.5h0m0 3.4h0m0 -5.7h0m0 2.8h0m0 4.4h0m0 -6.1h0m0 6.7h0m0 -3.7h0m0 3.1h0m0 -10.4h0m0 -4.5h0m0 11h0m0 -12.7h0m0 5.2h0m0 6.9h0m0 9.2h0m0 -13.7h0m0 -0.1h0m0 6.6h0m0 7.9h0m0 -16.5h0m0 -5.4h0m0 11.3h0m0 -6h0m0 13.9h0m0.1 -0.8h0m0 2.6h0m0 -10.9h0m0 -2.5h0m0 5.1h0m0 -0.6h0m0 5.8h0m0 -16.5h0m0 10.4h0m0 -6.3h0m0 5.3h0m0 3.6h0m0 -0.3h0m0 5.8h0m0 -13.2h0m0 -7.1h0m0 5.7h0m0 14.6h0m0 -4h0m0 -9.8h0m0 12.9h0m0 1h0m0 -7.6h0m0 -9.6h0m0 15.8h0m0 -18.4h0m0 2.3h0m0 16.4h0m0.1 -20.2h0m0 19.2h0m0 -1.9h0m0 1.9h0m0 -0.3h0m0 -2h0m0 1.5h0m0 3.2h0m0 -6.4h0m0 -0.8h0m0 -10.9h0m0 16.4h0m0 -16.8h0m0 20.2h0m0 -21h0m0 10.8h0m0 -7.2h0m0 1.7h0m0 0.4h0m0 5h0m0 0.4h0m0 -1.3h0m0 -5.3h0m0 16h0m0 -7.3h0m0 -14.2h0m0 21.5h0m0 -16.1h0m0 5.4h0m0 -10.4h0m0 19.5h0m0 -1.4h0m0 -2.1h0m0.1 -17.5h0m0 4.8h0m0 1.3h0m0 11.1h0m0 -2.6h0m0 -11h0m0 4.5h0m0 4h0m0 -2.4h0m0 7.3h0m0 -12.8h0m0 15.2h0m0 -14.1h0m0 2.7h0m0 -2h0m0 5.2h0m0 -7.2h0m0 6.4h0m0 -5.1h0m0 0.9h0m0 0.7h0m0 -5.1h0m0 1.1h0m0 18.7h0m0 -19.8h0m0 18.9h0m0 -12.8h0m0 -7.8h0m0.1 21.7h0m0 -17.3h0m0 6.4h0m0 -11h0m0 15.5h0m0 3.1h0m0 -3.2h0m0 1.5h0m0 -5.4h0m0 4h0m0 -3.6h0m0 3.7h0m0 2h0m0 -14.3h0m0 19.1h0m0 -20.8h0m0 7.9h0m0 -5.8h0m0 9.7h0m0 -11.9h0m0 2.5h0m0 1.8h0m0 -4h0m0 11.7h0m0 -13.8h0m0 8.2h0m0 -6h0m0 -2.1h0m0 8.5h0m0 4.3h0m0.1 0.4h0m0 9.9h0m0 -3.7h0m0 -15.9h0m0 17.5h0m0 -11.3h0m0 4.6h0m0 9h0m0 -22.1h0m0 2.2h0m0 1.3h0m0 15.7h0m0 -18.5h0m0 14.2h0m0 -5.4h0m0 3.8h0m0 5.7h0m0 -2.9h0m0 -12.8h0m0 11.9h0m0 -1.9h0m0 -1.5h0m0 -8.5h0m0 0.9h0m0 -2.6h0m0 11.9h0m0 -8.8h0m0 3.8h0m0 1.5h0m0 7.7h0m0 -8.4h0m0 2h0m0 -0.9h0m0 11.3h0m0 -9.1h0m0 9.2h0m0 -6.3h0m0 -13.6h0m0 8.8h0m0.1 2.2h0m0 7.3h0m0 -15.2h0m0 7.8h0m0 -5.5h0m0 8.2h0m0 -4.4h0m0 4.1h0m0 -9h0m0 13.7h0m0 -10.9h0m0 1.2h0m0 -6.6h0m0 8h0m0 -4h0m0 6.4h0m0 -3.9h0m0 2.4h0m0 -4.6h0m0 9.4h0m0 -5h0m0 -1.3h0m0 -2.5h0m0 11.9h0m0 -0.6h0m0 -1.7h0m0 -15.8h0m0 19.4h0m0 -11h0m0 8.5h0m0 -17.4h0m0 -1.1h0m0 -0.3h0m0 18.6h0m0.1 -12.1h0m0 3.5h0m0 -8.6h0m0 -2.5h0m0 -0.3h0m0 18.9h0m0 -7.6h0m0 7h0m0 -3.3h0m0 5.5h0m0 -3.2h0m0 -12.8h0m0 7.2h0m0 -0.9h0m0 4.1h0m0 -14.6h0m0 20.2h0m0 -13.2h0m0 -2h0m0 0.9h0m0 4.7h0m0 -1.2h0m0 -4.3h0m0 11.7h0m0 -2.2h0m0 5h0m0 -9.6h0m0 -4.6h0m0 1.5h0m0 -4.7h0m0 19.3h0m0.1 -1.3h0m0 -3.8h0m0 -13.5h0m0 15.6h0m0 -3.7h0m0 5.2h0m0 -13.4h0m0 15.2h0m0 -9.7h0m0 2.1h0m0 -0.7h0m0 7.5h0m0 -16.8h0m0 9.1h0m0 3.7h0m0 -3.9h0m0 -12.1h0m0 9.7h0m0 -7.2h0m0 3.3h0m0 3h0m0 4h0m0 -8.8h0m0 -1.8h0m0 9.9h0m0 -13.3h0m0 0.5h0m0 3.7h0m0.1 3.8h0m0 -4.4h0m0 11h0m0 -9.4h0m0 11.7h0m0 -11.6h0m0 8.2h0m0 -7.1h0m0 8.1h0m0 0.1h0m0 -13.9h0m0 16.2h0m0 -0.3h0m0 -3.1h0m0 -5.7h0m0 0.2h0m0 -3.9h0m0 15.3h0m0 -17.1h0m0 3.7h0m0 3.2h0m0 3.5h0m0 -7.7h0m0 2.4h0m0 -5.5h0m0 9.4h0m0 11.6h0m0 -8.4h0m0 -6.3h0m0 8.5h0m0 -10.3h0m0 12.5h0m0 0.5h0m0 -17.8h0m0 14h0m0 -7.2h0m0 9h0m0 4.6h0m0 -19h0m0 13.8h0m0 0.4h0m0.1 -8.6h0m0 9h0m0 2h0m0 -10.9h0m0 8.9h0m0 4h0m0 -11h0m0 1.3h0m0 10.9h0m0 -22.3h0m0 12.1h0m0 8.1h0m0 -19.3h0m0 -1.2h0m0 1.3h0m0 -0.7h0m0 0.2h0m0 21.5h0m0 -22.9h0m0 12.3h0m0 8.1h0m0 1.3h0m0 -11.1h0m0 6.7h0m0 -10.5h0m0 6.7h0m0 -7.7h0m0 -2.1h0m0 10.8h0m0 -4.3h0m0 2.3h0m0 3.1h0m0 -11.2h0m0 -0.6h0m0.1 7.6h0m0 -7.1h0m0 10.7h0m0 8.1h0m0 -7h0m0 -11.8h0m0 9.3h0m0 4.2h0m0 -17.7h0m0 10h0m0 12.3h0m0 -1.2h0m0 0.5h0m0 -21.3h0m0 2.9h0m0 -0.3h0m0 -1.6h0m0 1.1h0m0 8.5h0m0 -9.8h0m0 16h0m0 -0.3h0m0 2.7h0m0 -5.2h0m0 -5.4h0m0 9h0m0 -7.3h0m0 -0.3h0m0 -4.8h0m0 3.7h0m0 4.4h0m0 -11.7h0m0 0.8h0m0 18.6h0m0 -16.8h0m0 7h0m0 -8.7h0m0 4.3h0m0 -0.7h0m0.1 -4.5h0m0 1h0m0 -1.1h0m0 9.4h0m0 -4.4h0m0 0.7h0m0 10.2h0m0 1.3h0m0 -14.5h0m0 12.4h0m0 -2.3h0m0 2.3h0m0 -11.5h0m0 6.9h0m0 -10.5h0m0 -1.4h0m0 3.3h0m0 9h0m0 -4.3h0m0 -3.2h0m0 6h0m0 -7.7h0m0 1.8h0m0 2.1h0m0 4.2h0m0 4.8h0m0 3.8h0m0 0.7h0m0 -18.2h0m0 -2.6h0m0 4.5h0m0.1 5h0m0 2.7h0m0 -12.2h0m0 16.1h0m0 -8.1h0m0 -2.1h0m0 5.5h0m0 -8.9h0m0 2.3h0m0 6.9h0m0 -7.1h0m0 -1.7h0m0 16.9h0m0 -4h0m0 5.5h0m0 -9.7h0m0 -0.8h0m0 -8.8h0m0 1.2h0m0 12.4h0m0 -11.5h0m0 8.7h0m0 -0.7h0m0 -10h0m0 17.9h0m0 -3.2h0m0 1.1h0m0.1 1.8h0m0 -18.2h0m0 20.9h0m0 -16.8h0m0 5.8h0m0 7.3h0m0 4h0m0 -14.8h0m0 -3h0m0 6.9h0m0 4.2h0m0 -13.3h0m0 -2.2h0m0 4.8h0m0 12.5h0m0 -2.3h0m0 -11h0m0 -1.6h0m0 1.7h0m0 7.7h0m0 -5.9h0m0 8.8h0m0 -5.4h0m0.1 -0.4h0m0 8.8h0m0 4.8h0m0 -7.8h0m0 -12.6h0m0 -2.3h0m0 4.7h0m0 3.9h0m0 -1.3h0m0 0.9h0m0 -3.7h0m0 18.1h0m0 -8.8h0m0 -11.5h0m0 8.9h0m0 6.5h0m0 -0.5h0m0 -5h0m0 -10.4h0m0 3.3h0m0 8.9h0m0 -8.7h0m0 5.7h0m0 -3.7h0m0 6.1h0m0 -9.6h0m0 17.3h0m0 -10.9h0m0.1 7.5h0m0 -0.7h0m0 -2.9h0m0 6.9h0m0 -3.3h0m0 -6.7h0m0 -9.4h0m0 8.6h0m0 11.8h0m0 -1.2h0m0 1.4h0m0 -22.2h0m0 10.5h0m0 8.2h0m0 -14.8h0m0 6.4h0m0 4h0m0 7.5h0m0 -3.4h0m0 -18.8h0m0 19.5h0m0 -2.9h0m0 -13.7h0m0 5.9h0m0 4.7h0m0 3.9h0m0 -15.9h0m0 8.5h0m0 -6.4h0m0 17h0m0.1 -4.1h0m0 -8h0m0 14.1h0m0 -20h0m0 2.8h0m0 3h0m0 1.2h0m0 -2.6h0m0 15.9h0m0 -15h0m0 9.7h0m0 -6.2h0m0 -7.6h0m0 19.4h0m0 -21.6h0m0 4.2h0m0 9.4h0m0 1.2h0m0 3.9h0m0 -15.9h0m0 12.5h0m0 2.7h0m0 -3h0m0 -1.3h0m0 -7.1h0m0 -7.8h0m0 8h0m0 1.2h0m0 5.9h0m0 -12h0m0 17.2h0m0.1 -12.5h0m0 1.1h0m0 -0.7h0m0 4h0m0 6.4h0m0 -8.6h0m0 -5.4h0m0 -3.5h0m0 2.2h0m0 16.2h0m0 -10.5h0m0 -5.5h0m0 -0.6h0m0 8.2h0m0 9h0m0 0.6h0m0 -14.7h0m0 2h0m0 -2.4h0m0 -4.9h0m0 13.1h0m0 -11.6h0m0 2.2h0m0 -2.1h0m0 -2.6h0m0 6.6h0m0 12.3h0m0 -17.7h0m0 3.3h0m0 3.4h0m0 1.8h0m0 5h0m0 -12.4h0m0.1 8.7h0m0 -11h0m0 15.5h0m0 6.1h0m0 -5.8h0m0 -6.2h0m0 -1.3h0m0 8.3h0m0 -9h0m0 4.1h0m0 5.5h0m0 -16.2h0m0 5.3h0m0 5.1h0m0 -4.8h0m0 14.6h0m0 1.1h0m0 -4.2h0m0 -5.6h0m0 7.5h0m0 -5.3h0m0 0.3h0m0 -12.7h0m0 8.7h0m0.1 -7.7h0m0 15.9h0m0 -12.9h0m0 9.3h0m0 -9.6h0m0 10.4h0m0 -8h0m0 -8.3h0m0 0.9h0m0 21.7h0m0 -15.6h0m0 2h0m0 -0.8h0m0 5.9h0m0 -4.5h0m0 5.6h0m0 -2h0m0 -12.5h0m0 12.4h0m0 -7h0m0 -5.8h0m0 7h0m0 8.8h0m0 -1.6h0m0 -11.2h0m0 2.2h0m0 9.8h0m0.1 -1.9h0m0 3.8h0m0 -5.1h0m0 9.8h0m0 -19h0m0 6.7h0m0 -9.2h0m0 13.9h0m0 3.8h0m0 -5.9h0m0 -8.5h0m0 8.2h0m0 5.4h0m0 -8.4h0m0 0.6h0m0 -1.9h0m0 0.1h0m0 -2.9h0m0 9.7h0m0 -6.8h0m0 -0.4h0m0 10.8h0m0 -0.8h0m0 -17h0m0 1.6h0m0 8.4h0m0 -0.6h0m0 10.4h0m0 -17.5h0m0 -1.8h0m0 1.2h0m0.1 2.7h0m0 6.2h0m0 7.9h0m0 -7.6h0m0 -8.1h0m0 -3.2h0m0 4.5h0m0 -3.9h0m0 20.5h0m0 -20.3h0m0 -0.8h0m0 22.1h0m0 -12.7h0m0 4.5h0m0 1h0m0 -0.4h0m0 4.3h0m0 -11.4h0m0 -5.7h0m0 14.9h0m0 -11.2h0m0 4h0m0 -0.7h0m0 -7.4h0m0.1 11h0m0 -6.8h0m0 8h0m0 -8.4h0m0 16.6h0m0 -7h0m0 3.8h0m0 0h0m0 -9.7h0m0 -6.5h0m0 10.3h0m0 5.6h0m0 -17.3h0m0 18.8h0m0 -15.3h0m0 -2.9h0m0 2.2h0m0 0.2h0m0 1h0m0 -2.8h0m0 13h0m0 -12.8h0m0 0.4h0m0 13h0m0 -0.5h0m0 -2.7h0m0 3.3h0m0 0h0m0 3.4h0m0 -11.6h0m0 -1.4h0m0.1 7.1h0m0 -11h0m0 5.4h0m0 3.9h0m0 9.5h0m0 -9.5h0m0 -4.2h0m0 -6.6h0m0 8.7h0m0 -0.1h0m0 -7.8h0m0 -1.2h0m0 13.3h0m0 3.4h0m0 0.3h0m0 -7.9h0m0 0.5h0m0 6.4h0m0 0.1h0m0 -6.6h0m0 -7.3h0m0 0h0m0 5.2h0m0 5.5h0m0.1 0.6h0m0 -2.5h0m0 6h0m0 -7.1h0m0 3.4h0m0 -7.8h0m0 10.6h0m0 -0.1h0m0 -5.9h0m0 0.4h0m0 -2.6h0m0 0.6h0m0 7.3h0m0 -14.2h0m0 10.9h0m0 5.3h0m0 -8.5h0m0 -0.5h0m0.1 3.9h0m0 -8.1h0m0 3.9h0m0 3.9h0m0 -13h0m0 11.3h0m0 -10h0m0 21h0m0 -21.5h0m0 3.7h0m0 -4.4h0m0 5.5h0m0 16.5h0m0 -19.5h0m0 13.5h0m0 -6.3h0m0 1.8h0m0 -4.1h0m0 1.7h0m0 -7.7h0m0 13.2h0m0 1h0m0.1 5.4h0m0 -8.4h0m0 -5.3h0m0 13h0m0 0.3h0m0 -18.1h0m0 -1.6h0m0 13.1h0m0 -12.9h0m0 -1.2h0m0 3.2h0m0 17.5h0m0 -8.8h0m0 -3.3h0m0 8.1h0m0 -4.9h0m0 -3h0m0 3.4h0m0 -6.1h0m0 12.5h0m0 -13.3h0m0 14.6h0m0 -16.3h0m0 5.4h0m0 5h0m0 -2.3h0m0 3.2h0m0.1 -10.7h0m0 13.1h0m0 -3.2h0m0 -5h0m0 7h0m0 -9.3h0m0 15.6h0m0 -19.9h0m0 1.6h0m0 9h0m0 -10.5h0m0 0.5h0m0 5.1h0m0 1.2h0m0 0.4h0m0 -6.9h0m0 11.9h0m0 -6.4h0m0 8.1h0m0 -3.3h0m0 3.8h0m0.1 3.7h0m0 -14.3h0m0 -0.6h0m0 8.9h0m0 -1.5h0m0 5.3h0m0 -5.2h0m0 5.8h0m0 -2.7h0m0 -11.8h0m0 5.1h0m0 -5.7h0m0 12.6h0m0 -10.5h0m0 4.6h0m0 -10.5h0m0 11.6h0m0 -3.5h0m0 0.1h0m0 -3h0m0 -2.9h0m0 1.6h0m0 11.2h0m0 -12.2h0m0 -2.2h0m0 6.7h0m0 -6.5h0m0.1 4.9h0m0 0.6h0m0 -1h0m0 -3h0m0 6.2h0m0 12h0m0 -13h0m0 11.8h0m0 -12.4h0m0 -1.5h0m0 -5.6h0m0 11.5h0m0 -10.3h0m0 3.4h0m0 15h0m0 -11.2h0m0 -1.7h0m0 -5.2h0m0 11h0m0 7.4h0m0.1 2.8h0m0 -17.6h0m0 7.1h0m0 -1.4h0m0 -10.2h0m0 11.9h0m0 -5.7h0m0 -5.6h0m0 -1.3h0m0 6.5h0m0 7.2h0m0 0.4h0m0 7.9h0m0 -4.6h0m0 -13.8h0m0 4.8h0m0 10.2h0m0 -5.8h0m0 -12.5h0m0 2h0m0 5.3h0m0 8.2h0m0.1 -9.4h0m0 6.7h0m0 -9.9h0m0 -0.5h0m0 6.5h0m0 -5.9h0m0 2.2h0m0 2.1h0m0 -0.9h0m0 5.2h0m0 -4.7h0m0 5.4h0m0 -11.6h0m0 11.4h0m0 -6.9h0m0 -4.1h0m0 15.9h0m0 -7.3h0m0 -9.8h0m0.1 9.9h0m0 -1.2h0m0 -1.7h0m0 0.2h0m0 -7.1h0m0 12.8h0m0 -5.6h0m0 -0.2h0m0 -6.3h0m0 2.8h0m0 17.6h0m0 0.2h0m0 -15h0m0 -6.1h0m0 12.6h0m0 1.6h0m0 -10.1h0m0 13h0m0 -10.6h0m0 1.6h0m0 7h0m0 -3.7h0m0 3.3h0m0 4.2h0m0 -10.2h0m0 -3.7h0m0.1 7.4h0m0 5.1h0m0 -6.3h0m0 -6.3h0m0 1.7h0m0 4.2h0m0 6.8h0m0 -8.2h0m0 2.6h0m0 6.4h0m0 -17.3h0m0 20.4h0m0 -18.1h0m0 17.5h0m0 -11.7h0m0 7.1h0m0 -10.7h0m0 -0.1h0m0 6.1h0m0 -10.4h0m0 18.5h0m0 -1.7h0m0 -10.2h0m0 -6.6h0m0 1.4h0m0.1 -1.7h0m0 18.8h0m0 -14.8h0m0 7.7h0m0 -7.2h0m0 8.9h0m0 -5.3h0m0 10h0m0 -16.9h0m0 -0.5h0m0 1.3h0m0 -0.5h0m0 2.1h0m0 -3.4h0m0 8.6h0m0 4.8h0m0 7.7h0m0 -18.9h0m0.1 19h0m0 -5h0m0 -4.9h0m0 5.8h0m0 -12.2h0m0 5.9h0m0 -0.3h0m0 -10.1h0m0 1h0m0 6.9h0m0 -4.7h0m0 10.1h0m0 1.1h0m0 -12.8h0m0 4.4h0m0 -5.7h0m0 5.2h0m0 12h0m0.1 -1h0m0 -5.6h0m0 0.2h0m0 -0.9h0m0 -5.8h0m0 2.2h0m0 9.6h0m0 -12.9h0m0 -2.3h0m0 0.7h0m0 12.2h0m0 2h0m0 -6.5h0m0 -1.6h0m0 1.3h0m0 -0.4h0m0 -3.3h0m0 -1.6h0m0 -0.3h0m0 11.9h0m0 -4.9h0m0.1 -9.9h0m0 9h0m0 8.2h0m0 -1h0m0 -12.9h0m0 -4.6h0m0 -0.7h0m0 16.6h0m0 -6.6h0m0 -10.1h0m0 21.8h0m0 -7.6h0m0 -1.6h0m0 -7.7h0m0 -1h0m0 10.3h0m0 -5.9h0m0 -8.1h0m0 21.8h0m0 -7.1h0m0 -5.9h0m0.1 -8h0m0 14.8h0m0 -3.2h0m0 5.7h0m0 0.3h0m0 -3.2h0m0 -15.3h0m0 7h0m0 6.5h0m0 -8.9h0m0 7h0m0 1.8h0m0 0.9h0m0 -12.7h0m0 10.3h0m0 6.1h0m0 -5.7h0m0 -7.7h0m0 16.2h0m0 -7.5h0m0 0.7h0m0.1 -6.2h0m0 0.2h0m0 -6.4h0m0 13.8h0m0 -1.8h0m0 -5.2h0m0 -3.9h0m0 3h0m0 -6.3h0m0 0.1h0m0 16.7h0m0 -14.6h0m0 -2.5h0m0.1 6.5h0m0 7.3h0m0 0.7h0m0 -12h0m0 14.2h0m0 -16.9h0m0 0.3h0m0 9h0m0 8.7h0m0 -7.2h0m0 9.7h0m0 -3.3h0m0 -8h0m0 -9h0m0 1.1h0m0 11.6h0m0 -9.7h0m0 1.6h0m0 -0.9h0m0 1.4h0m0.1 -6.6h0m0 2.6h0m0 10.1h0m0 5.3h0m0 -1.2h0m0 -4.1h0m0 -11.3h0m0 6h0m0 8h0m0 -7.5h0m0 10.4h0m0 -0.3h0m0 3h0m0 -14.4h0m0 -1.4h0m0 15.6h0m0 -6.2h0m0 -11.3h0m0.1 4.8h0m0 2.1h0m0 9h0m0 1.8h0m0 -4.7h0m0 1.2h0m0 -15.2h0m0 -0.3h0m0 12.9h0m0 0.1h0m0 -12.3h0m0 5.5h0m0 -7.2h0m0 13.8h0m0 -6.4h0m0 -5.6h0m0 9.6h0m0 3.4h0m0 -4.5h0m0 -6.7h0m0 -1.5h0m0.1 8.8h0m0 -5.1h0m0 -4.4h0m0 11.1h0m0 -2.8h0m0 -8.2h0m0 19.3h0m0 -2.8h0m0 2.1h0m0 -9.4h0m0 2.9h0m0 -11.4h0m0.1 15.6h0m0 -14.1h0m0 0.6h0m0 -4.8h0m0 15.3h0m0 -13.9h0m0 18.6h0m0 -19.7h0m0 -0.3h0m0 6.8h0m0 15.4h0m0 -22.1h0m0 5.6h0m0 8h0m0 1.2h0m0 -5.5h0m0 -8h0m0 8.9h0m0 10.9h0m0 -10.9h0m0 -0.7h0m0 -6.4h0m0 10.6h0m0 -6.8h0m0 2.9h0m0 3.5h0m0 2h0m0 -7.8h0m0 11.5h0m0 -13h0m0.1 -5.1h0m0 8.6h0m0 11.5h0m0 -17.2h0m0 -2.4h0m0 14.2h0m0 -14.8h0m0 10.6h0m0 -3h0m0 3.7h0m0 -10.7h0m0 7.6h0m0 10.2h0m0 -14.4h0m0 11.3h0m0 -8.7h0m0 -7.6h0m0 -0.2h0m0 3.8h0m0.1 0.4h0m0 -1.4h0m0 -2.2h0m0 6.3h0m0 -5.5h0m0 2.4h0m0 -3.8h0m0 2.7h0m0 13.1h0m0 -5.3h0m0 1.6h0m0 -8.4h0m0 3.1h0m0 4.4h0m0 -6.8h0m0 0.2h0m0 -2.5h0m0 18.8h0m0 -14.4h0m0 4.3h0m0.1 1.2h0m0 -0.3h0m0 9.5h0m0 -13.2h0m0 0.3h0m0 -2.6h0m0 0.4h0m0 -2.5h0m0 3.5h0m0 12.1h0m0 -8.1h0m0 9.9h0m0 -12.6h0m0 14.1h0m0 -16.5h0m0 -1.3h0m0 2.8h0m0.1 10.9h0m0 -14.5h0m0 10.1h0m0 -8.7h0m0 -0.5h0m0 7.3h0m0 6.6h0m0 -5.1h0m0 6.2h0m0 -4.1h0m0 -7.3h0m0 3.3h0m0 3h0m0 -2h0m0 -10.2h0m0.1 9.8h0m0 -6h0m0 3.7h0m0 2h0m0 -5.8h0m0 -4.7h0m0 -0.5h0m0 0.1h0m0 14.8h0m0 -12.1h0m0 -0.6h0m0 -2.6h0m0 8.3h0m0 -4.4h0m0.1 13.2h0m0 -9.7h0m0 7h0m0 -1.6h0m0 -11.3h0m0 8.9h0m0 9.6h0m0 -1.2h0m0 -15.3h0m0 0.5h0m0 13.6h0m0 -7.8h0m0 0.5h0m0 -2.3h0m0 0h0m0.1 14.2h0m0 -5h0m0 -14.8h0m0 -2.7h0m0 0h0m0 16.5h0m0 -11.4h0m0 -4.8h0m0 17.2h0m0 -17.9h0m0 19.3h0m0 -11.8h0m0 3.1h0m0 2.5h0m0 -6.5h0m0.1 13.3h0m0 -11.9h0m0 1.7h0m0 -9.4h0m0 0.7h0m0 11.9h0m0 3.9h0m0 -4h0m0 -10.1h0m0.1 4.8h0m0 2.7h0m0 -10h0m0 4.9h0m0 8.4h0m0 -13.4h0m0 17.1h0m0 -12.5h0m0 17.4h0m0 -16.9h0m0 2.2h0m0 -2.4h0m0.1 1h0m0 1.3h0m0 -1h0m0 -3.1h0m0 7.5h0m0 2.1h0m0 -12.4h0m0 0.3h0m0 16.2h0m0 0.5h0m0 -12.4h0m0 -0.6h0m0.1 -2.9h0m0 1.2h0m0 17.3h0m0 -9.8h0m0 -1.6h0m0 8.3h0m0 -6.5h0m0 -2h0m0 -0.1h0m0 -5.7h0m0.1 3.8h0m0 -6.4h0m0 18.4h0m0 -2.4h0m0 -10.6h0m0 1.3h0m0 0.1h0m0 9.6h0m0 -0.1h0m0 -9.9h0m0 12.5h0m0.1 -14.1h0m0 7.2h0m0 -2.1h0m0 0.7h0m0 -9.5h0m0 2.8h0m0 4.7h0m0 -7.3h0m0 5.2h0m0 6.3h0m0.1 4.8h0m0 -5.7h0m0 -3.8h0m0 -8h0m0 3.1h0m0 13h0m0 -8.9h0m0 -6.7h0m0 12.9h0m0 -8.2h0m0 0.8h0m0.1 3.1h0m0 -4.2h0m0 -2.7h0m0 6.9h0m0 3.6h0m0.1 -9.7h0m0 0.3h0m0 -1.1h0m0 13.2h0m0 -8.7h0m0 -3.1h0m0 11.4h0m0 -15h0m0 3.6h0m0 1.8h0m0 0.7h0m0.1 4.4h0m0 1.5h0m0 -4.8h0m0 -4.6h0m0 -1.4h0m0 2.6h0m0 -1.6h0m0 0.6h0m0.1 -0.3h0m0 11h0m0 -12.8h0m0 11.4h0m0.1 -11.2h0m0 7.5h0m0 1.1h0m0 -6.2h0m0 5.7h0m0 3.5h0m0 6.6h0m0.1 -19.2h0m0 12.2h0m0 -5.4h0m0 7.1h0m0 -2.3h0m0.1 -3.4h0m0 -4.3h0m0 6.4h0m0 -5.9h0m0 6.7h0m0 -3.4h0m0 -7.7h0m0 8.5h0m0 -2.6h0m0 5.4h0m0 -7.9h0m0 14.6h0m0 1.7h0m0.1 -7.9h0m0 -1.6h0m0 -7.2h0m0 9.4h0m0 4h0m0 -7.6h0m0 4.4h0m0 -13.1h0m0 8.4h0m0 0.9h0m0.1 -9h0m0 1.8h0m0 10.3h0m0 -6.1h0m0.1 4.1h0m0 5h0m0 -5.3h0m0 -0.3h0m0 -7.5h0m0 2.2h0m0 -1.6h0m0 -0.4h0m0 3.1h0m0 11.4h0m0.1 -15h0m0 1.8h0m0 -0.7h0m0 -2.7h0m0 1.6h0m0 2.6h0m0 1.3h0m0 -4.1h0m0 11.4h0m0 5.5h0m0.1 -17h0m0 -1.4h0m0 9.8h0m0 -4.4h0m0 10.5h0m0 -7.3h0m0 -6h0m0 1.7h0m0.1 -1.8h0m0 -2.9h0m0 5.1h0m0 4.4h0m0 -0.3h0m0 -6.6h0m0 3h0m0 -2.8h0m0 2.9h0m0.1 -5.8h0m0 11.6h0m0 7.1h0m0 -5.4h0m0.1 -0.1h0m0 -0.4h0m0 -10.4h0m0.1 2.8h0m0 5.3h0m0 3.6h0m0 -9.4h0m0 4.2h0m0 -6.2h0m0.1 -1.3h0m0 5.2h0m0.1 6.8h0m0 -11.8h0m0.1 2.8h0m0 3.4h0m0 1.8h0m0.1 -3.1h0m0 -0.9h0m0 2h0m0.1 0.9h0m0 -7.2h0m0 10.6h0m0 -5.3h0m0.1 2.3h0m0 0.5h0m0 -6.7h0m0.1 10.3h0m0 -3.2h0m0 2.9h0m0 2h0m0.1 -7.8h0m0 0h0m0 -1.7h0m0 9.6h0m0 -13.8h0m0.1 4.5h0m0 7.7h0m0 -7.2h0m0 -3.9h0m0 -2.1h0m0.1 14.2h0m0 -13.6h0m0 14.8h0m0.1 -3.7h0m0 -10h0m0 1.9h0m0 -1.4h0m0.1 6.7h0m0 -5.9h0m0 -1.5h0m0 2.8h0m0.1 -2.9h0m0 11.8h0m0 -11.8h0m0 -0.3h0m0.1 9.4h0m0 -6.8h0m0 12h0m0.1 -1.9h0m0.1 -11.6h0m0 4.2h0m0 9.7h0m0 -15.1h0m0 1h0m0 -1.2h0m0 3.7h0m0.1 2.1h0m0 0.9h0m0 2.1h0m0 -4.7h0m0.1 2.6h0m0 -5.7h0m0 13.3h0m0.1 -14.3h0m0 13.5h0m0.1 -8.6h0m0 -1.4h0m0 2.4h0m0 3.3h0m0.1 -8.2h0m0 10.7h0m0.1 -3.1h0m0.1 1.7h0m0 -9.4h0m0 6.2h0m0.1 -1.5h0m0.1 6.8h0m0.1 -7.3h0m0 -3.5h0m0.2 -0.9h0m0 10.1h0m0.1 -2.8h0m0 -0.8h0m0 0.7h0m0.1 -1.6h0m0 -7.1h0m0 2.3h0m0.1 -1.8h0m0.1 1.7h0m0 9.1h0m0.4 -9.8h0m0 5.7h0m0.1 0.2h0m0 -6h0m0 18.1h0m0 -18.5h0m0.1 2.7h0m0.4 -1.8h0m0 2.3h0m0.2 -4h0m0.1 6.3h0m0.1 3.9h0m0 -8.7h0m0.1 -0.5h0m0.1 5.5h0m0.2 -4.8h0m0 -1.6h0m0.2 9.1h0m0.3 -5.1h0m0.5 -3.7h0m0.1 5.4h0m0.3 -5.7h0m0.1 12.6h0m0.2 2.6h0m0.1 -6.5h0m0.8 -1.9h0m1.8 0.9h0m2.3 10.3h0m0.2 0h0m12.4 -7.7h0m4.2 -9.2h0" stroke="#bebebe" stroke-width="1.2" stroke-linecap="round" fill="none"/>
<line x1="429.9" y1="180.45" x2="429.9" y2="161.7" stroke="#fff" stroke-width="0.45" stroke-opacity="0.45"/>
<path d="M371.7 145h0m1.4 -41.9h0m2.7 10h0m1.4 13.7h0m8.3 34.5h0m1.4 -70h0m1.4 -10.9h0m6.3 64.6h0m0.6 3.6h0m2.8 6.4h0m0.7 -24.6h0m0.7 13.7h0m1.4 -48.3h0m0.7 61h0m1.4 -69.2h0m0 8.2h0m0 9.1h0m1.4 47.3h0m1.3 -14.5h0m1.3 -12.5h0m0.8 -25.7h0m0 5.4h0m0.5 42.3h0m0.7 -5.3h0m0.6 -22.3h0m1.1 6.6h0m0.6 -26.7h0m0.1 50h0m0.6 -46.4h0m0.3 18.8h0m0.1 12.2h0m0 -1.1h0m1 -25.2h0m0.3 51.5h0m0.2 0.3h0m0.2 -39h0m0.3 18h0m1 20h0m0 -51.6h0m0.5 46.9h0m0 -32.8h0m0.2 32h0m0 -70h0m0 37.7h0m0.1 39.7h0m0 -6.3h0m0.2 2.8h0m0.1 1.2h0m0 -25.1h0m0.1 26.3h0m0 -9.4h0m0 6.5h0m0.1 -27.5h0m0 4.8h0m0.4 23.4h0m0.5 -48.3h0m0 52.4h0m0.2 -9.3h0m0.2 -11.4h0m0 -0.9h0m0.2 -8.5h0m0 26.1h0m0.4 -28.8h0m0.1 -16.3h0m0.1 24.7h0m0 23.3h0m0.1 -0.9h0m0 0h0m0 -59.8h0m0.1 58.4h0m0 -37.7h0m0.1 -0.7h0m0 1.4h0m0.1 34.3h0m0 -1.6h0m0.1 7.5h0m0.1 0.1h0m0 -8.9h0m0.2 1h0m0 -18h0m0.2 3.8h0m0 -8.3h0m0.1 28.7h0m0.4 -4.8h0m0 3.4h0m0.2 -15.9h0m0 -14.1h0m0.1 -20.5h0m0 50.2h0m0.1 -37.6h0m0 39.7h0m0.2 -3.2h0m0.1 -71.8h0m0 34.7h0m0 -6.7h0m0.2 46.3h0m0.1 -7.4h0m0.1 -6.7h0m0 8h0m0 -18.3h0m0 -11h0m0.2 37.1h0m0 -5.6h0m0.1 -4.9h0m0.1 9.6h0m0.1 -2.1h0m0 -0.9h0m0.1 1.9h0m0 1.8h0m0 -1.8h0m0.1 -27.1h0m0 14.8h0m0.1 14.4h0m0 -8.4h0m0.1 -3.4h0m0 -2.2h0m0.1 13.2h0m0 -50.4h0m0.1 19.5h0m0.1 29.5h0m0.1 -7.8h0m0 8h0m0 -16.2h0m0.1 -8.5h0m0.3 -20.6h0m0 42.2h0m0 -113.8h0m0 19.1h0m0 91.8h0m0.1 -1.9h0m0.1 -25.2h0m0.1 22.5h0m0 12.4h0m0 0.1h0m0.1 -36.8h0m0.3 30.7h0m0.1 -7.2h0m0 10.2h0m0.1 -0.1h0m0.1 -3.3h0m0.1 -6h0m0 9.2h0m0.1 -24.9h0m0 20.7h0m0 -5.2h0m0.1 12.5h0m0 -6.9h0m0 -9h0m0 10.1h0m0 4.3h0m0.2 -3.7h0m0 4.2h0m0 -5.6h0m0.1 5.1h0m0.1 -0.2h0m0.1 -3.2h0m0 1.4h0m0 -0.2h0m0.1 -1.3h0m0.1 5.6h0m0.1 -53.7h0m0 52.9h0m0 0.2h0m0.1 -2.2h0m0 -50.6h0m0.1 36.7h0m0 16.2h0m0 -2.2h0m0.1 2.1h0m0 -4h0m0 2h0m0.1 0h0m0 -17.2h0m0 17.5h0m0 0.8h0m0.1 0.3h0m0 -6.3h0m0.1 1.7h0m0.1 -10h0m0 10.3h0m0 5h0m0 -0.3h0m0 -3.1h0m0.1 -1.2h0m0.1 4.7h0m0 -23.8h0m0 -4.2h0m0.1 21.1h0m0 6h0m0.1 -19.6h0m0 -28.6h0m0 48.4h0m0 -0.4h0m0.1 -14.9h0m0 16h0m0 -4.7h0m0.1 -4.3h0m0 6.3h0m0 -0.6h0m0 -42.2h0m0 40h0m0 1.2h0m0.1 -3.4h0m0 7.7h0m0 -5.6h0m0 -1.8h0m0 -40.5h0m0.1 47h0m0 -9.6h0m0 7h0m0 -10.5h0m0 -1h0m0 8.1h0m0 -29.3h0m0 35.7h0m0.1 -28.9h0m0 24.4h0m0 -8.9h0m0.1 8.8h0m0 -1h0m0 -0.6h0m0.1 -2.2h0m0 2.1h0m0 -5.7h0m0 5.3h0m0 4.4h0m0.1 -39.6h0m0 40h0m0.1 -49h0m0 50.3h0m0 -0.1h0m0 -4.7h0m0.1 -26.4h0m0 16.1h0m0 0.2h0m0 15.6h0m0 0.6h0m0.1 -22.7h0m0 20.6h0m0 -3h0m0.1 -3.4h0m0 -5.5h0m0 13.4h0m0 -10.5h0m0 -3.4h0m0 14.1h0m0 -6h0m0.1 3.3h0m0 -6.7h0m0.1 -9.9h0m0 17.5h0m0 -7h0m0 4.1h0m0.1 -0.8h0m0 4h0m0 -3.1h0m0.1 -2.2h0m0 -7.5h0m0 -20.3h0m0 11.1h0m0 15.4h0m0.1 -4.1h0m0 7.6h0m0 -0.9h0m0.1 5h0m0 0.5h0m0 -2.4h0m0 -7.6h0m0.1 -11.2h0m0 -3.2h0m0 24.7h0m0 -11.5h0m0.1 7.6h0m0 -7.2h0m0 10.5h0m0 -24.4h0m0 21.4h0m0 -6.3h0m0.1 3.5h0m0 2h0m0 -16.5h0m0 20.1h0m0 -7.1h0m0.1 -27.1h0m0 33.8h0m0 -10.6h0m0.1 -3.6h0m0 11.6h0m0 -22.4h0m0 15.8h0m0 4.9h0m0.1 -0.6h0m0 -0.4h0m0 5.7h0m0 -0.6h0m0 -0.3h0m0.1 1.9h0m0 -5.1h0m0 -4h0m0 5.8h0m0.1 -4h0m0 -1.2h0m0 -0.9h0m0 9.1h0m0 -0.7h0m0.1 -23h0m0 22.8h0m0 -14.6h0m0 -1h0m0 -4h0m0 18.9h0m0.1 -0.7h0m0 -9h0m0 9h0m0 -7h0m0 1.7h0m0 -2.1h0m0.1 7.8h0m0 2.2h0m0 0h0m0 -7.6h0m0.1 5.4h0m0 0.8h0m0 -5.7h0m0.1 -4.3h0m0 10.3h0m0.1 -20.3h0m0 20.1h0m0.1 -0.9h0m0 -4.3h0m0 5.6h0m0 -6.4h0m0 5.3h0m0 0.8h0m0 -0.6h0" stroke="#1fb4c9" stroke-width="1.3" stroke-linecap="round" fill="none"/>
<path d="M430.6 160.3h0m0 -19.8h0m0 18.7h0m0 1.9h0m0 -6.6h0m0.1 4.5h0m0 -11.8h0m0 8h0m0 -16.7h0m0 18.1h0m0 -5.2h0m0 -6.8h0m0 14.4h0m0 -8h0m0 -10.5h0m0.1 0h0m0 20.8h0m0 -0.3h0m0 -2h0m0 -22.5h0m0.1 -13.1h0m0 10.8h0m0 23.7h0m0 -44.6h0m0 47.1h0m0 0.1h0m0 -6.8h0m0 -17.2h0m0 23.5h0m0 -20.9h0m0 21.3h0m0 -42.2h0m0 42.2h0m0.1 0.4h0m0 -29.7h0m0 7.8h0m0 22.4h0m0 -8.7h0m0 -29.4h0m0 33.8h0m0 -31.6h0m0.1 28.9h0m0 1.6h0m0 -13.3h0m0 17.7h0m0 -47.8h0m0.1 42.4h0m0 3.8h0m0 0h0m0 -48.3h0m0 50.6h0m0 -50.4h0m0 28.5h0m0 4.9h0m0 16.6h0m0 -7.1h0m0.1 -8.6h0m0 1.5h0m0 -26.1h0m0 38.4h0m0 -3.4h0m0 -9.2h0m0 10.5h0m0 -33.8h0m0.1 38.4h0m0 -30.1h0m0 -16.6h0m0 40.4h0m0 -24.6h0m0 23.1h0m0 4.7h0m0 1.7h0m0 -2h0m0 1.5h0m0 -0.4h0m0.1 -40.7h0m0 40.2h0m0 -28h0m0 11.8h0m0 15.2h0m0.1 -22.9h0m0 -15.6h0m0 40.9h0m0 -11.8h0m0 9.8h0m0 0.2h0m0 -28h0m0 29.8h0m0 -7.1h0m0 -0.3h0m0.1 7.8h0m0 -43.4h0m0 39.9h0m0 3.1h0m0.1 -2.1h0m0 -0.6h0m0 -3.4h0m0 -35.3h0m0.1 38.7h0m0 -25.8h0m0 26.7h0m0 -18.6h0m0 19.1h0m0 -17.8h0m0 -19.7h0m0 33.2h0m0.1 -11.4h0m0 11.3h0m0 6.2h0m0 -95.4h0m0 50.9h0m0 22.9h0m0.1 -26.5h0m0 44.1h0m0 -44.8h0m0 30h0m0 18.6h0m0 -34.1h0m0.1 30.5h0m0 -20.1h0m0 -27.2h0m0 49.2h0m0 -22h0m0 22h0m0.1 -0.4h0m0 -2h0m0 -0.4h0m0.1 2.9h0m0 0.9h0m0 -36.9h0m0.1 32.5h0m0 4.4h0m0 -1.1h0m0.1 -13.4h0m0 12.8h0m0 -11.3h0m0 12.4h0m0 0.6h0m0.1 -1.8h0m0 -48.1h0m0 26.9h0m0 21h0m0 -1.8h0m0 1.1h0m0 -6.5h0m0.1 3h0m0 -19.9h0m0 28h0m0 -13.2h0m0 -13.7h0m0.1 11.3h0m0 3.3h0m0.1 -35.3h0m0.2 46.2h0m0 -16.8h0m0 13.6h0m0.1 -0.1h0m0 2.7h0m0 1.6h0m0 -9.2h0m0 6.8h0m0 0h0m0 2.6h0m0.1 -21.1h0m0.1 -0.8h0m0 0.7h0m0 -18.6h0m0.1 38.8h0m0.1 -13.1h0m0 0.3h0m0.2 7.7h0m0 -9.9h0m0.1 15.7h0m0.1 -4.9h0m0 4.6h0m0.1 -4.4h0m0.1 0.1h0m0 4.6h0m0 -20.2h0m0.2 19.4h0m0.1 -1.1h0m0.1 0.9h0m0.1 -51.2h0m0 49.2h0m0 -4.5h0m0 -4.9h0m0.1 -7.8h0m0 -1h0m0.1 10.8h0m0.2 8.1h0m0.2 -2.3h0m0.7 1.5h0m1.4 -1.8h0m0.7 4.5h0m0.7 -5.4h0m0.7 -27.3h0m0.7 30h0m1.4 -24.6h0m1.4 6.4h0" stroke="#f4452f" stroke-width="1.3" stroke-linecap="round" fill="none"/>
<text x="511.8" y="27.5" font-size="16.3" font-weight="bold">D</text>
<text x="595.6" y="29.8" font-size="13.4" text-anchor="middle">A2a:Cre rats</text>
<line x1="534.5" y1="32.7" x2="534.5" y2="192.6" stroke="#7c7c7c" stroke-width="0.8"/>
<line x1="534.1" y1="192.2" x2="656.7" y2="192.2" stroke="#7c7c7c" stroke-width="0.8"/>
<line x1="533.2" y1="185" x2="534.5" y2="185" stroke="#7c7c7c" stroke-width="0.6"/>
<text x="531.2" y="189" font-size="10" text-anchor="end" fill="#1c1c1c">0</text>
<line x1="533.2" y1="148.6" x2="534.5" y2="148.6" stroke="#7c7c7c" stroke-width="0.6"/>
<text x="531.2" y="152.6" font-size="10" text-anchor="end" fill="#1c1c1c">2</text>
<line x1="533.2" y1="112.2" x2="534.5" y2="112.2" stroke="#7c7c7c" stroke-width="0.6"/>
<text x="531.2" y="116.2" font-size="10" text-anchor="end" fill="#1c1c1c">4</text>
<line x1="533.2" y1="75.8" x2="534.5" y2="75.8" stroke="#7c7c7c" stroke-width="0.6"/>
<text x="531.2" y="79.8" font-size="10" text-anchor="end" fill="#1c1c1c">6</text>
<line x1="533.2" y1="39.4" x2="534.5" y2="39.4" stroke="#7c7c7c" stroke-width="0.6"/>
<text x="531.2" y="43.4" font-size="10" text-anchor="end" fill="#1c1c1c">8</text>
<line x1="539.74" y1="192.2" x2="539.74" y2="193.5" stroke="#7c7c7c" stroke-width="0.6"/>
<text x="539.44" y="203.6" font-size="10" text-anchor="middle" fill="#1c1c1c">-8</text>
<line x1="553.68" y1="192.2" x2="553.68" y2="193.5" stroke="#7c7c7c" stroke-width="0.6"/>
<text x="553.38" y="203.6" font-size="10" text-anchor="middle" fill="#1c1c1c">-6</text>
<line x1="567.62" y1="192.2" x2="567.62" y2="193.5" stroke="#7c7c7c" stroke-width="0.6"/>
<text x="567.32" y="203.6" font-size="10" text-anchor="middle" fill="#1c1c1c">-4</text>
<line x1="581.56" y1="192.2" x2="581.56" y2="193.5" stroke="#7c7c7c" stroke-width="0.6"/>
<text x="581.26" y="203.6" font-size="10" text-anchor="middle" fill="#1c1c1c">-2</text>
<line x1="595.5" y1="192.2" x2="595.5" y2="193.5" stroke="#7c7c7c" stroke-width="0.6"/>
<text x="595.5" y="203.6" font-size="10" text-anchor="middle" fill="#1c1c1c">0</text>
<line x1="609.44" y1="192.2" x2="609.44" y2="193.5" stroke="#7c7c7c" stroke-width="0.6"/>
<text x="609.44" y="203.6" font-size="10" text-anchor="middle" fill="#1c1c1c">2</text>
<line x1="623.38" y1="192.2" x2="623.38" y2="193.5" stroke="#7c7c7c" stroke-width="0.6"/>
<text x="623.38" y="203.6" font-size="10" text-anchor="middle" fill="#1c1c1c">4</text>
<line x1="637.32" y1="192.2" x2="637.32" y2="193.5" stroke="#7c7c7c" stroke-width="0.6"/>
<text x="637.32" y="203.6" font-size="10" text-anchor="middle" fill="#1c1c1c">6</text>
<line x1="651.26" y1="192.2" x2="651.26" y2="193.5" stroke="#7c7c7c" stroke-width="0.6"/>
<text x="651.26" y="203.6" font-size="10" text-anchor="middle" fill="#1c1c1c">8</text>
<text x="596.7" y="216.5" font-size="10.5" text-anchor="middle" fill="#1c1c1c">log<tspan font-size="6.5" dy="2.6">2</tspan><tspan dy="-2.6">FC</tspan></text>
<line x1="535" y1="161.34" x2="656.7" y2="161.34" stroke="#bebcf3" stroke-width="0.6" stroke-dasharray="1 1.1"/>
<path d="M548.1 182.3h0m2.8 0h0m2.1 -0.6h0m1.4 -12.2h0m9 9.1h0m1.4 2.8h0m0.7 -12.8h0m0.7 -3.6h0m3.3 15.5h0m1.1 -5.4h0m0.1 1.6h0m0.2 5.1h0m1.4 -0.2h0m0.1 -5.2h0m0.8 -3.5h0m0.5 3h0m0.1 -2.7h0m0.1 8h0m1.2 -13h0m0 12.5h0m0.2 -12.4h0m0.1 0.1h0m0.6 8.2h0m1 -5.9h0m0.3 -3.4h0m0.1 11h0m0 -6.6h0m0.1 6.9h0m0.1 2.3h0m0.3 -5.1h0m0 5.3h0m0 0.2h0m0.1 -2.2h0m0.3 -2.6h0m0 4.6h0m0 -10.8h0m0.1 8.8h0m0.1 1.4h0m0.1 -3.7h0m0.1 -11h0m0.2 15.8h0m0 -1.1h0m0.1 -0.4h0m0 -5.9h0m0.1 7.6h0m0 -0.6h0m0.2 -10.6h0m0.1 10.6h0m0.1 -4.9h0m0 1.7h0m0 2.5h0m0 -1.8h0m0.1 -5.8h0m0.1 7.7h0m0.1 -1h0m0.1 -1.2h0m0 -11h0m0 14.7h0m0.1 -4.3h0m0.1 -15.9h0m0.1 6.7h0m0.2 -3.9h0m0.2 8.6h0m0.1 0.1h0m0 7.6h0m0 -5.7h0m0.1 6.1h0m0 -1.3h0m0 1.3h0m0 -0.7h0m0.1 -4.8h0m0 2.3h0m0 4.1h0m0.1 0h0m0.1 -9.9h0m0.1 9.2h0m0 -0.6h0m0 1.1h0m0 -3.7h0m0.1 0.4h0m0 2.2h0m0 -3.6h0m0 4.2h0m0 0.2h0m0.1 -5.8h0m0 -5.7h0m0.1 11h0m0 1.3h0m0.1 -6.7h0m0 -5.4h0m0 1.9h0m0 -2.5h0m0 11.2h0m0.1 -19.7h0m0 16.3h0m0 3.5h0m0.1 -5.5h0m0 3.7h0m0.1 0h0m0 3.3h0m0 -2.8h0m0 -2.6h0m0.1 0.2h0m0 -5h0m0 5.8h0m0 -4.6h0m0.1 -5h0m0 -1.6h0m0 11.2h0m0 4.1h0m0 -4.6h0m0.1 1.1h0m0 -10.5h0m0 14.1h0m0.1 -20.6h0m0 12.8h0m0 1h0m0 4h0m0 -17.5h0m0 17.1h0m0.1 2.2h0m0 -12.2h0m0.1 10.8h0m0 0.1h0m0.1 0.7h0m0 -6.5h0m0 8.4h0m0 -5.8h0m0 1.4h0m0.1 4.4h0m0 -2.4h0m0 2h0m0 -0.5h0m0.1 -5.5h0m0 3.4h0m0 0.3h0m0 -2.3h0m0.1 2.3h0m0 0.7h0m0 -7.6h0m0.1 2.1h0m0 4h0m0 -8.2h0m0 7h0m0 2.7h0m0.1 -7.5h0m0 5.1h0m0 -10.1h0m0 10.8h0m0.1 4h0m0 -10.3h0m0 7.4h0m0.1 0.4h0m0 -9h0m0 8.2h0m0 -3.8h0m0 -1.3h0m0 1.4h0m0.1 -0.7h0m0 -11.3h0m0 17.5h0m0 -7.8h0m0 8.5h0m0 -0.2h0m0 -9.2h0m0 10.2h0m0.1 -19.3h0m0 18.1h0m0 -9.3h0m0 9.4h0m0 -0.5h0m0 1.3h0m0.1 -10.4h0m0 3.5h0m0 -2.1h0m0.1 2.4h0m0 5.4h0m0 -1.8h0m0 -5.3h0m0 -8.4h0m0 17.2h0m0.1 -7.1h0m0 -4.9h0m0 7.3h0m0 4h0m0 -18.6h0m0 12.1h0m0 0.5h0m0 -2.8h0m0.1 -10.5h0m0 6h0m0 1.8h0m0 0.9h0m0 2h0m0 8.8h0m0 -6.9h0m0 -12.2h0m0.1 18.6h0m0 -19.6h0m0 20.6h0m0 -17.8h0m0 17.6h0m0 -14.5h0m0 13.3h0m0 -0.3h0m0 1.5h0m0 -7h0m0 4.3h0m0.1 0.1h0m0 -2.4h0m0 -5h0m0 -6h0m0 15.6h0m0 0.5h0m0.1 -16.6h0m0 16.5h0m0 -2.6h0m0 -5.5h0m0.1 5h0m0 2.3h0m0 -16h0m0 14.4h0m0 1.2h0m0 0.1h0m0 -1.5h0m0.1 2.5h0m0 -0.1h0m0 -3h0m0 -4.9h0m0.1 3.3h0m0 -0.5h0m0 0.6h0m0 -0.1h0m0 -3.4h0m0 -2.7h0m0 8.4h0m0 -13.2h0m0 -3.8h0m0 17h0m0 2.2h0m0 -3h0m0.1 -7.6h0m0 -4h0m0 14.5h0m0 -15.1h0m0 13.5h0m0 -0.9h0m0.1 -6.2h0m0 5.6h0m0 3h0m0 -1.9h0m0.1 -9.5h0m0 12.2h0m0 -0.1h0m0 -20.9h0m0 3.8h0m0 11.4h0m0.1 -6.6h0m0 -1.2h0m0.1 9.4h0m0 -6.9h0m0 8.3h0m0.1 0.9h0m0 -6.8h0m0 -1.4h0m0 -12.1h0m0 9.2h0m0 11.7h0m0 -5.6h0m0 6.4h0m0 -3.8h0m0 -10.7h0m0.1 12.6h0m0 -5.8h0m0 8.1h0m0 -3.2h0m0 -14.5h0m0 15.5h0m0 -5.1h0m0 6.5h0m0 -4.6h0m0 3.4h0m0.1 -15.6h0m0 17.3h0m0 -4.4h0m0 3.7h0m0 -20h0m0 9.4h0m0 11h0m0 -10.5h0m0.1 6.9h0m0 2.2h0m0 1.9h0m0 -1.8h0m0 2.1h0m0 -0.1h0m0 -3.5h0m0.1 3.6h0m0 0h0m0 -3.3h0m0 -2.9h0m0 -8.8h0m0.1 2.1h0m0 7.6h0m0 5.4h0m0 -2.7h0m0 -4.2h0m0 -5.2h0m0 10h0m0 -9.3h0m0 6.9h0m0 -8.9h0m0 13.5h0m0.1 -7.6h0m0 -2.5h0m0 -11.6h0m0 21.4h0m0 -1.6h0m0 -11.9h0m0 10.8h0m0 -7.5h0m0.1 10.2h0m0 0.3h0m0 -18.7h0m0 15.6h0m0 -18.7h0m0.1 2.7h0m0 6.3h0m0 12.9h0m0 -0.4h0m0.1 -5.5h0m0 -7.4h0m0 10.9h0m0 -4.8h0m0 4h0m0 2.7h0m0 -8.9h0m0 0.7h0m0 -0.7h0m0 7.6h0m0 -15.7h0m0 15.5h0m0.1 -0.7h0m0 -4.6h0m0 -2.8h0m0 -3.4h0m0 7.2h0m0 3.2h0m0 -2.3h0m0.1 -3.6h0m0 3.8h0m0 -3.9h0m0 1.1h0m0 5.4h0m0 -2.2h0m0 -13.1h0m0 8.3h0m0 6.3h0m0.1 0.3h0m0 -5h0m0 3.4h0m0 -0.5h0m0 -4.2h0m0 3.7h0m0.1 3.3h0m0 1.5h0m0 -21.3h0m0 9.3h0m0 -0.4h0m0 7.9h0m0 -2.7h0m0.1 1h0m0 -15.5h0m0 19.6h0m0 -2.6h0m0 -1.3h0m0 4.9h0m0 -4h0m0 -6.3h0m0 -4.9h0m0 1.2h0m0 7.5h0m0 7.5h0m0 0.5h0m0.1 0.5h0m0 -20.3h0m0 6.2h0m0 2.8h0m0 -3.5h0m0 14.6h0m0 -10.9h0m0 0.7h0m0 8.3h0m0 -9.3h0m0 1.4h0m0 7.2h0m0 -0.7h0m0 -11.9h0m0.1 6.6h0m0 6.1h0m0 -4.4h0m0 7h0m0 -19h0m0 17.8h0m0.1 -18.3h0m0 10.6h0m0 -7h0m0 3.5h0m0 2h0m0 6.3h0m0 -1.1h0m0 -6.3h0m0 5.4h0m0 5.5h0m0 0.7h0m0.1 -5.1h0m0 0.3h0m0 0.5h0m0 -7.6h0m0 -2h0m0 7.6h0m0 -10.6h0m0 13.6h0m0 -2.1h0m0.1 -8.9h0m0 14.4h0m0 -14.5h0m0 11.6h0m0 -2.2h0m0 -1.4h0m0 -1.6h0m0.1 1.1h0m0 -8.3h0m0 10.1h0m0 3.6h0m0 -0.5h0m0 -3.7h0m0 -7.3h0m0 -1.6h0m0 6.8h0m0 -3.6h0m0.1 6.2h0m0 -7.6h0m0 6.1h0m0 6.5h0m0 -4h0m0 -0.2h0m0 0.4h0m0 0.5h0m0 -7.4h0m0 5.5h0m0 5.4h0m0 0.1h0m0.1 -7.7h0m0 0.9h0m0 6h0m0 -5.2h0m0 -9.5h0m0 15.4h0m0.1 -0.1h0m0 -11.4h0m0 10.6h0m0 0.9h0m0 -9.7h0m0 1.4h0m0 5.8h0m0 -15.1h0m0 12.3h0m0 5.5h0m0 -3.3h0m0 -7.3h0m0 -6.5h0m0 1.3h0m0.1 14.1h0m0 -5.4h0m0 6.1h0m0 -3.4h0m0 2.3h0m0 -6.8h0m0 7.7h0m0 -9.1h0m0 -4.5h0m0 2.9h0m0 0h0m0 10.9h0m0 -12.9h0m0 -4h0m0 0.1h0m0.1 16.7h0m0 0.8h0m0 -22.2h0m0 12.5h0m0 8.2h0m0 -4.2h0m0 5.5h0m0 -19h0m0 3.9h0m0 12.8h0m0 -1.3h0m0 2.1h0m0 -3.1h0m0 2.1h0m0 -2.4h0m0 -5h0m0.1 -1.4h0m0 8.2h0m0 3.6h0m0 -2.7h0m0 -16.5h0m0 18.7h0m0 -8.1h0m0 5h0m0 -5.4h0m0 -2.9h0m0 -8.9h0m0 0.4h0m0 -0.6h0m0 18.2h0m0 -1.7h0m0 1.4h0m0.1 -1.1h0m0 3.9h0m0 -6.9h0m0 7.2h0m0 -5.8h0m0 -1.9h0m0 4.8h0m0 2.7h0m0 -3.4h0m0 -1.9h0m0 -9.5h0m0.1 10.2h0m0 -12.9h0m0 0h0m0 3.9h0m0 10.2h0m0 -16.5h0m0 16.5h0m0 -1.4h0m0 0h0m0 3.5h0m0 0.6h0m0 -20.6h0m0 21.6h0m0 -14.9h0m0 13.2h0m0.1 -14.7h0m0 -3.3h0m0 19.6h0m0 -2.2h0m0 0.2h0m0 1.6h0m0 -4.3h0m0 -14.2h0m0 18.2h0m0 -6.1h0m0 6.9h0m0 -11h0m0.1 8.9h0m0 -3.3h0m0 -1.7h0m0 -13.5h0m0 17.6h0m0 0.5h0m0 -6.9h0m0 -10.7h0m0 11.8h0m0 1.4h0m0 -0.3h0m0 -6.3h0m0 10h0m0 -1.4h0m0.1 3.5h0m0 -5.1h0m0 -1.5h0m0 -4.2h0m0 -2.3h0m0 14.5h0m0 -0.5h0m0 -13.4h0m0 -4.5h0m0 15.9h0m0 -19.2h0m0 14.4h0m0.1 -11.6h0m0 8.6h0m0 -3.1h0m0 13h0m0 -9.3h0m0 9.4h0m0 -1.7h0m0 -7.4h0m0 -13.6h0m0 14.1h0m0 8.9h0m0 -9.5h0m0 5.2h0m0.1 -14.7h0m0 15.2h0m0 3.1h0m0 0.5h0m0 -17.4h0m0 13.8h0m0 3.3h0m0 -1.2h0m0 -17.9h0m0 16.3h0m0 -6.6h0m0 -10.3h0m0 3.7h0m0 12.7h0m0 -3.7h0m0 -6.1h0m0.1 -3.6h0m0 17.2h0m0 -0.2h0m0 -12.7h0m0 12.1h0m0 -10.3h0m0 -7.2h0m0 18.2h0m0 -7.2h0m0 -6.9h0m0 4.9h0m0 6.7h0m0.1 2.6h0m0 -8.5h0m0 3h0m0 0.2h0m0 -13h0m0 0.6h0m0 9.9h0m0 1.7h0m0 -3.6h0m0 7.1h0m0 -14.7h0m0 0.5h0m0 11h0m0 2.1h0m0 3.7h0m0 -0.1h0m0.1 -20.5h0m0 9.3h0m0 10.9h0m0 -9.4h0m0 3.5h0m0 -1.7h0m0 1h0m0 -1.7h0m0 -12.7h0m0 18h0m0 -7.8h0m0 -3.6h0m0 14.4h0m0 -0.6h0m0 -18.6h0m0 0.7h0m0 13.9h0m0.1 -16.3h0m0 9.1h0m0 12.3h0m0 -19.8h0m0 9.7h0m0 5.3h0m0 1.6h0m0 2.9h0m0 -20.1h0m0 3h0m0 10.3h0m0.1 6.5h0m0 -0.4h0m0 -2.6h0m0 2.9h0m0 -6.1h0m0 5.6h0m0 -11.8h0m0 -6h0m0 15.8h0m0 3.2h0m0 -2.6h0m0 -12h0m0 14.5h0m0 -7.1h0m0.1 -12.2h0m0 15.4h0m0 -6.4h0m0 10.4h0m0 -12.7h0m0 -5.2h0m0 17.9h0m0 -13.9h0m0 10.5h0m0 -4.5h0m0 -0.2h0m0 -11.8h0m0 10.7h0m0 0.3h0m0 6.1h0m0 2.3h0m0 -14h0m0 13.5h0m0 -2.8h0m0 -14.4h0m0 18h0m0.1 -14.6h0m0 14.8h0m0 -6.3h0m0 -11.4h0m0 15.9h0m0 1.7h0m0 -1.7h0m0 1.6h0m0 -14.9h0m0 -3.1h0m0 -2h0m0 18.7h0m0 -1.6h0m0 -1.5h0m0.1 0.3h0m0 -6.7h0m0 7.4h0m0 -18.5h0m0 19.3h0m0 0.6h0m0 -6h0m0 -14h0m0 5.4h0m0 -6.1h0m0 20.2h0m0.1 -16.2h0m0 -1.1h0m0 0.3h0m0 19.2h0m0 -9.3h0m0 9h0m0 -5.5h0m0 -8h0m0 1.3h0m0 4.2h0m0 4.9h0m0 1.1h0m0 -10.6h0m0 12.4h0m0 -4.8h0m0 -16.6h0m0 14.1h0m0.1 4.6h0m0 1.2h0m0 1.7h0m0 -18.3h0m0 17.6h0m0 -1.7h0m0 -13.9h0m0 8.3h0m0 7.6h0m0 -13.6h0m0 12.1h0m0 -13.7h0m0.1 10.9h0m0 1.3h0m0 1.3h0m0 -19.5h0m0 22.2h0m0 -11h0m0 8.6h0m0 -11.8h0m0 -7.1h0m0 14.2h0m0 -12.9h0m0 19.8h0m0 -21.5h0m0 20.7h0m0 -19.4h0m0 2.6h0m0 18h0m0.1 -17h0m0 -4.4h0m0 19.5h0m0 2h0m0 -19h0m0 7.8h0m0 -2.6h0m0 0.7h0m0 12.9h0m0 -7.4h0m0 -4.9h0m0 -0.3h0m0 6.3h0m0 5h0m0 -13.8h0m0 -0.1h0m0 0h0m0 -5.3h0m0 13.4h0m0 -9.9h0m0 -1.2h0m0 16.5h0m0 1.6h0m0.1 -16.3h0m0 8.6h0m0 -5.1h0m0 11.7h0m0 -9.3h0m0 -6h0m0 15.5h0m0 -13.9h0m0 3.2h0m0 7.7h0m0 2h0m0 -3.9h0m0 -7.8h0m0 10.4h0m0 -12.3h0m0 -5.2h0m0 20.8h0m0 -14.6h0m0 12.6h0m0 -18.2h0m0 2.3h0m0.1 5h0m0 8.9h0m0 -7.3h0m0 -4.4h0m0 -1.3h0m0 6.5h0m0 7.7h0m0 -17.7h0m0 12.3h0m0 3.9h0m0 -7.6h0m0 -7.1h0m0 15.5h0m0 3.8h0m0 -7.6h0m0 -8.4h0m0 9.8h0m0 -15.9h0m0 14h0m0 1.6h0m0.1 2.1h0m0 3.2h0m0 -4h0m0 -3h0m0 4h0m0 -13.2h0m0 5.8h0m0 8.8h0m0 -12.9h0m0 1.4h0m0 11.3h0m0 1.8h0m0 0.9h0m0 -2.6h0m0 -4.7h0m0 -0.5h0m0 -5.8h0m0 7.7h0m0.1 -16.2h0m0 18.7h0m0 0.3h0m0 -4.8h0m0 -5.2h0m0 11.7h0m0 -9.6h0m0 7.5h0m0 2.9h0m0 -21.2h0m0 7.7h0m0 9.1h0m0 3.7h0m0 -7.5h0m0 -7.4h0m0 4.9h0m0 1.8h0m0.1 9.5h0m0 -15h0m0 0.7h0m0 -0.8h0m0 11.5h0m0 -1.2h0m0 -15.9h0m0 0.9h0m0 15.9h0m0 -5.1h0m0 -4.3h0m0 1.8h0m0 -3.4h0m0 -1.9h0m0 16.4h0m0 -2.7h0m0 1.7h0m0 -13.1h0m0 10.2h0m0 -6.9h0m0 -0.8h0m0 -9.8h0m0 17.6h0m0 3.1h0m0 -2h0m0.1 -10.8h0m0 13.8h0m0 -12.9h0m0 0.8h0m0 -2.9h0m0 -2.4h0m0 10.3h0m0 -5h0m0 7.4h0m0 -17.7h0m0 22.7h0m0.1 -1.1h0m0 -11.1h0m0 -3.4h0m0 9h0m0 -12.6h0m0 17.6h0m0 1.1h0m0 0.6h0m0 -5.1h0m0 -16.3h0m0 3.7h0m0 -5.1h0m0 16.2h0m0 -6.1h0m0 3h0m0 4.5h0m0 -0.8h0m0 3.5h0m0 -16h0m0 10.4h0m0 4.3h0m0 -2.2h0m0 -5.3h0m0 8.5h0m0.1 -9h0m0 -3.8h0m0 10.4h0m0 1.5h0m0 -3h0m0 -11.4h0m0 6h0m0 10.9h0m0 -20.1h0m0 17.4h0m0 -13h0m0 10.8h0m0 -5.6h0m0 -1.5h0m0 -2.9h0m0 2h0m0 6.2h0m0 -12.3h0m0 19.2h0m0 -4.3h0m0 1.9h0m0 -18.6h0m0.1 9.3h0m0 -7.2h0m0 6.9h0m0 -2.3h0m0 10.4h0m0 -4.5h0m0 8.8h0m0 -8.9h0m0 9.4h0m0 -9.7h0m0 9.8h0m0 -10.1h0m0 -0.1h0m0 9.5h0m0 -4.4h0m0 -16.6h0m0 10.4h0m0.1 9h0m0 1.4h0m0 0.6h0m0 -14.6h0m0 9.9h0m0 -1.3h0m0 3.2h0m0 -4.2h0m0 -12h0m0 -0.7h0m0 18h0m0 -14.2h0m0.1 16h0m0 0h0m0 -3h0m0 -18.9h0m0 22.1h0m0 -18.5h0m0 5.6h0m0 -6.1h0m0 18.4h0m0 -3.3h0m0 -0.4h0m0 -4.8h0m0 0.9h0m0 -4.5h0m0 -7.3h0m0 5.2h0m0 4.1h0m0.1 8.9h0m0 -8.2h0m0 10.1h0m0 -0.1h0m0 -9.1h0m0 2.2h0m0 -10.2h0m0 14.3h0m0 2h0m0 -2.7h0m0 2.8h0m0 -12.2h0m0 11.9h0m0 -14.8h0m0 -6.7h0m0 0.3h0m0 17.3h0m0 1.6h0m0 2.1h0m0 1.1h0m0 -7.5h0m0 7.4h0m0 -2.6h0m0 -19.6h0m0 3.9h0m0 18.3h0m0 -1.5h0m0 -5.6h0m0 6.1h0m0.1 1.2h0m0 -1.5h0m0 -15h0m0 0.3h0m0 -1.2h0m0 -5.8h0m0 18.6h0m0 -8.3h0m0 8.8h0m0 -0.7h0m0 4.8h0m0 -0.4h0m0 -17.4h0m0 5.6h0m0 -5.9h0m0 12.7h0m0 5.3h0m0 -0.7h0m0 -21.4h0m0 9.1h0m0 -1.7h0m0 14.4h0m0 -3.7h0m0 2.4h0m0.1 -8.5h0m0 -12.9h0m0 15.1h0m0 -7.5h0m0 5h0m0 8.5h0m0 -14h0m0 10.4h0m0 -4.7h0m0 -9.9h0m0 12.7h0m0 3.9h0m0 -14.9h0m0 1h0m0 3.6h0m0 10.9h0m0 1.1h0m0 -18h0m0 19.6h0m0 -1.5h0m0 -0.4h0m0.1 -19.9h0m0 20.9h0m0 -16.8h0m0 17.8h0m0 0h0m0 -8.3h0m0 -8.7h0m0 2.5h0m0 -1.6h0m0 -6.5h0m0 19.1h0m0 -11h0m0 10.8h0m0 -3.3h0m0 -14.3h0m0 1.5h0m0 -1.8h0m0 4.7h0m0 15.2h0m0 -12.9h0m0 5.6h0m0 -6.8h0m0 14.6h0m0 -16.5h0m0 13.2h0m0.1 -18.5h0m0 9h0m0 2.6h0m0 -9.7h0m0 16.3h0m0 0.8h0m0 -7.6h0m0 7.9h0m0 -14.1h0m0 6.8h0m0 4.4h0m0 1h0m0 -2.8h0m0 8.2h0m0 -14.5h0m0 -6.5h0m0 3.4h0m0 17.8h0m0 -0.8h0m0 -19.3h0m0 19.1h0m0 -4.2h0m0 5.2h0m0 -16.5h0m0.1 6.7h0m0 7.1h0m0 -12.5h0m0 14.9h0m0 -8.3h0m0 0.4h0m0 5.5h0m0 -19h0m0 19.3h0m0 -9h0m0 7h0m0 0.2h0m0 -0.2h0m0 -16.3h0m0 12.5h0m0 5.8h0m0 2.7h0m0 -0.3h0m0 -9.9h0m0 9.6h0m0 -2.8h0m0 -14.4h0m0 12.7h0m0 -5.2h0m0 6.4h0m0 3.2h0m0 -15.4h0m0 10.3h0m0 3.1h0m0 -12.3h0m0 6.5h0m0 -0.4h0m0 0.7h0m0 -5.8h0m0 -4.3h0m0 18.2h0m0 -10.9h0m0.1 -12.1h0m0 4.5h0m0 6.5h0m0 0h0m0 -5.6h0m0 16.4h0m0 -2.9h0m0 2.1h0m0 -20.9h0m0 11h0m0 -2.3h0m0 1.2h0m0 6.1h0m0 -0.9h0m0 -11.6h0m0 19h0m0 -2.4h0m0.1 -7.4h0m0 8.4h0m0 1.7h0m0 -8.6h0m0 5.5h0m0 1.5h0m0 -7.3h0m0 -6.8h0m0 5.7h0m0 9.9h0m0 -9h0m0 -0.2h0m0 8.9h0m0 -7.1h0m0 -3.1h0m0 -6.5h0m0 15.9h0m0 -1.9h0m0 -15h0m0 -1.6h0m0 15.3h0m0 2.4h0m0 -2h0m0 -12.1h0m0 14.2h0m0 -7.7h0m0 6.6h0m0 -3.6h0m0.1 6.8h0m0 -23.1h0m0 11.9h0m0 9.7h0m0 -0.8h0m0 -14.1h0m0 12.7h0m0 -15.2h0m0 6.5h0m0 12.4h0m0 -19.8h0m0 19.3h0m0 -0.9h0m0 0.1h0m0 -13.6h0m0 13.7h0m0 -10.6h0m0 5.8h0m0 -11.5h0m0 -1.4h0m0 6.3h0m0.1 6.3h0m0 -6.5h0m0 -1.1h0m0 10.1h0m0 -0.1h0m0 -6.4h0m0 -3h0m0 -5.6h0m0 14.2h0m0 -13.5h0m0 5.6h0m0 -3.7h0m0 6h0m0 4.1h0m0 -2.3h0m0 6.7h0m0 -6.7h0m0 7.9h0m0 -6.2h0m0 6.7h0m0 -6h0m0 2.8h0m0 -8.6h0m0 4.3h0m0.1 6.5h0m0 -10.4h0m0 -0.7h0m0 -6.8h0m0 14.2h0m0 -1.2h0m0 1.8h0m0 -6h0m0 8.4h0m0 -10.4h0m0 11.9h0m0 -0.2h0m0 -10h0m0 -8.9h0m0 6.5h0m0 7.5h0m0 -2.1h0m0 7.4h0m0.1 -12.9h0m0 11.7h0m0 -21.5h0m0 22.9h0m0 -1.9h0m0 -12.8h0m0 12.7h0m0 -6.7h0m0 7.9h0m0 -7.9h0m0 1.1h0m0 -4.5h0m0 10.6h0m0 -7.5h0m0 -14.4h0m0 15.7h0m0 -14.8h0m0 15.6h0m0 6.8h0m0 -5.2h0m0 -11.8h0m0 7.3h0m0 5.6h0m0.1 -9.1h0m0 8.2h0m0 -18.3h0m0 21.7h0m0 -9.7h0m0 0h0m0 10.3h0m0 -19.8h0m0 16.8h0m0 -3.7h0m0 -2.4h0m0 -9.8h0m0 8.4h0m0 -4.2h0m0 -5.2h0m0 17.8h0m0 -5h0m0 -1.9h0m0 -8.8h0m0 -2.1h0m0 20.9h0m0 -7.4h0m0 -14.3h0m0 3.7h0m0 15.8h0m0 -17.6h0m0 19.7h0m0 -4.3h0m0 -16.3h0m0.1 15.9h0m0 -10.5h0m0 -7.8h0m0 15.3h0m0 7.6h0m0 -1.2h0m0 -16.4h0m0 -2h0m0 18.8h0m0 -11.6h0m0 3.3h0m0 -13.8h0m0 3.3h0m0 -1.1h0m0 20.7h0m0 -2.5h0m0 -4.2h0m0 4.7h0m0 -18.3h0m0 1.6h0m0 0.8h0m0 0.5h0m0 1.3h0m0 -2.7h0m0 5.1h0m0 6.4h0m0 0.3h0m0 -0.6h0m0 3.4h0m0 -7h0m0.1 -0.5h0m0 10.5h0m0 1h0m0 -16.8h0m0 13.3h0m0 -4.1h0m0 -11h0m0 -0.7h0m0 3.3h0m0 10.8h0m0 -7h0m0 -8.3h0m0 10.1h0m0 3.8h0m0 6.9h0m0 -0.7h0m0 0.2h0m0 -14h0m0 3.1h0m0 8.7h0m0 0.2h0m0 -10.6h0m0.1 -4.1h0m0 15.1h0m0 -12.2h0m0 6.4h0m0 -0.8h0m0 -2.5h0m0 8.3h0m0 -0.3h0m0 2.4h0m0 -12.1h0m0 1.7h0m0 10.6h0m0 -6.7h0m0 -2.5h0m0 9.2h0m0 0.1h0m0 -7.5h0m0 -1h0m0 -12.3h0m0 1.8h0m0 10.9h0m0 7h0m0 -18.6h0m0 7.6h0m0 -2.3h0m0 11.6h0m0 -19.9h0m0.1 22.2h0m0 -15.7h0m0 16.8h0m0 -11.8h0m0 9.9h0m0 -15.9h0m0 -1.3h0m0 16.1h0m0 -19.3h0m0 9.3h0m0 13.1h0m0 -8.8h0m0 -1.9h0m0 8.8h0m0 -18.6h0m0 19.5h0m0 0.3h0m0 -7.3h0m0 -2.8h0m0 4.8h0m0 -5.2h0m0 10.2h0m0 -7.6h0m0.1 8.6h0m0 -0.2h0m0 -0.6h0m0 -3.4h0m0 2.5h0m0 -13.6h0m0 -5.5h0m0 17.9h0m0 1.9h0m0 -4.7h0m0 1.6h0m0 -16.2h0m0 1.7h0m0 18.5h0m0 -11.2h0m0 -4.1h0m0 4.6h0m0 1.1h0m0 9.1h0m0 -7.8h0m0.1 8.2h0m0 0.1h0m0 -3.8h0m0 -19.6h0m0 21.6h0m0 -11.7h0m0 10.3h0m0 -1.5h0m0 -17.8h0m0 2.4h0m0 -1.6h0m0 21.2h0m0 -1.9h0m0 -8.7h0m0 6.7h0m0 -9.4h0m0 -5.7h0m0 10.4h0m0 8h0m0 -2.6h0m0 -19h0m0 6.2h0m0 16.5h0m0 -19h0m0 -2.8h0m0 3.4h0m0 12.9h0m0 -6.4h0m0 -4.8h0m0 7.6h0m0.1 7h0m0 -16.3h0m0 0.9h0m0 16.6h0m0 -3.1h0m0 -9.1h0m0 0.6h0m0 1.7h0m0 6.6h0m0 -18.3h0m0 22.1h0m0 -8.1h0m0 2.1h0m0 -4.2h0m0 -2h0m0 11.7h0m0 -19.3h0m0 12.4h0m0 -15h0m0 2.8h0m0 19.7h0m0 -1.4h0m0 -8.2h0m0 2.9h0m0 -1.8h0m0.1 -13.4h0m0 9.1h0m0 12.9h0m0 -16.5h0m0 7.4h0m0 -8.7h0m0 17.1h0m0 0.9h0m0 -14h0m0 6.2h0m0 4.3h0m0 3.1h0m0 -16.8h0m0 16.5h0m0 0.3h0m0 -3.7h0m0 -6.3h0m0 -6.5h0m0 6.6h0m0 9.6h0m0 -12.7h0m0 6.9h0m0 -0.6h0m0 6.9h0m0 -23.2h0m0 0.8h0m0 20.2h0m0 1.4h0m0 -13.3h0m0 14.3h0m0 -0.5h0m0.1 -4.9h0m0 -2h0m0 -1.4h0m0 -11.5h0m0 4.5h0m0 11.1h0m0 -0.5h0m0 -4.1h0m0 7.1h0m0 -1.7h0m0 -9.8h0m0 9.2h0m0 -0.7h0m0 -12.3h0m0 14.9h0m0 -1.8h0m0 0.4h0m0 -17.6h0m0 5.9h0m0 -4.3h0m0 -2.9h0m0 4.6h0m0 17.3h0m0 -6.5h0m0 -15h0m0 17.3h0m0 0.8h0m0.1 -14.4h0m0 4.1h0m0 8.5h0m0 -13.5h0m0 5.8h0m0 -6h0m0 4.7h0m0 14.4h0m0 -19.9h0m0 14h0m0 5h0m0 -15.3h0m0 7.7h0m0 -1.9h0m0 -0.8h0m0 8.8h0m0 -7.6h0m0 9.3h0m0 -12.3h0m0 1.6h0m0 4.8h0m0 -8.5h0m0 1.6h0m0 14.3h0m0 -0.5h0m0.1 -14.8h0m0 -5h0m0 2.8h0m0 -3.8h0m0 -1.8h0m0 1.3h0m0 17.8h0m0 3.9h0m0 -19.3h0m0 4.1h0m0 0.5h0m0 5.2h0m0 3.2h0m0 4.7h0m0 -10.2h0m0 4.7h0m0 4.3h0m0 -8.3h0m0 0.3h0m0 -8.7h0m0 12.7h0m0 -1h0m0 -4.8h0m0 -1.5h0m0 11.2h0m0 -7.7h0m0 7.7h0m0 -2h0m0 2.2h0m0 -15.7h0m0 17.1h0m0 -9.3h0m0 7.3h0m0 -16.9h0m0.1 18.4h0m0 -12.3h0m0 7h0m0 -0.6h0m0 1.6h0m0 5.9h0m0 -5.2h0m0 -17.1h0m0 6.2h0m0 10.2h0m0 -9.4h0m0 7.3h0m0 -14.6h0m0 19h0m0 -3.1h0m0 -7.2h0m0 -4.9h0m0 15.9h0m0 -5.6h0m0 -5.4h0m0 3.6h0m0 10.8h0m0 -18.6h0m0 7.7h0m0 -4h0m0 -4.3h0m0 -2.6h0m0 2.9h0m0.1 11.9h0m0 -7.4h0m0 1.1h0m0 13h0m0 -13.3h0m0 10.3h0m0 1.3h0m0 -11.8h0m0 10.7h0m0 -1.7h0m0 -7.8h0m0 12.2h0m0 -8.3h0m0 7.3h0m0 -22.2h0m0 0.4h0m0 7.5h0m0 -4.7h0m0 16.2h0m0 1.6h0m0 -4.1h0m0 -0.4h0m0 -11.6h0m0 -4.7h0m0 21.1h0m0 2.3h0m0 -2.7h0m0 -13.1h0m0.1 13.8h0m0 1h0m0 -6h0m0 -0.7h0m0 -10.7h0m0 11.5h0m0 2.5h0m0 -14.4h0m0 8.3h0m0 4.6h0m0 0.9h0m0 -15.2h0m0 18.1h0m0 -13.5h0m0 7h0m0 -2.8h0m0 5h0m0 0.2h0m0 -2h0m0 -14h0m0 11.6h0m0 10.6h0m0 -4.1h0m0 -13h0m0 11.3h0m0 -14h0m0 4.7h0m0 -5.9h0m0 12.9h0m0 6.9h0m0 -18.9h0m0 -0.1h0m0 11.3h0m0 3.6h0m0.1 -4.6h0m0 2.5h0m0 5.9h0m0 -8.8h0m0 8.5h0m0 -14.8h0m0 5.3h0m0 0.8h0m0 -2.4h0m0 12.8h0m0 -8.7h0m0 5.9h0m0 -4.7h0m0 6h0m0 -8.4h0m0 0h0m0 -7.9h0m0 16.4h0m0 -21.8h0m0 18.5h0m0 0.2h0m0 3.6h0m0 -17.8h0m0 -2.4h0m0 18.6h0m0 1.3h0m0 -18.1h0m0 13.2h0m0.1 1.1h0m0 4.1h0m0 -17.6h0m0 14.7h0m0 -2.6h0m0 -7h0m0 -6.9h0m0 19.4h0m0 -15.2h0m0 -1.2h0m0 17.3h0m0 -23.1h0m0 10.9h0m0 -1.1h0m0 7.5h0m0 4.2h0m0 -6.6h0m0 3.6h0m0 -17.7h0m0 -0.2h0m0 -0.6h0m0 20.4h0m0 -1.9h0m0 -16.1h0m0.1 18.3h0m0 -20.3h0m0 0.1h0m0 21.6h0m0 -3.1h0m0 -0.9h0m0 2.8h0m0 -1.7h0m0 -0.2h0m0 -11.7h0m0 3.9h0m0 -11.3h0m0 9.4h0m0 -2h0m0 -2.6h0m0 2.3h0m0 -2.7h0m0 18.8h0m0 -12.8h0m0 8.2h0m0 -0.7h0m0 -14.5h0m0 -2.9h0m0 14h0m0.1 -13.8h0m0 0.7h0m0 21.1h0m0 -6.9h0m0 -15.1h0m0 -0.6h0m0 15.2h0m0 7.6h0m0 -6h0m0 6.4h0m0 -0.3h0m0 -9.6h0m0 5.7h0m0 -7.8h0m0 -7h0m0 17.6h0m0 -4.5h0m0 -7.3h0m0 11.8h0m0 -15.2h0m0 2.8h0m0 7.3h0m0 -14.2h0m0 20.6h0m0 -18.6h0m0 1.8h0m0 16.8h0m0 0.2h0m0 -6.3h0m0 -16.1h0m0.1 18.5h0m0 -9.6h0m0 -7.6h0m0 15.3h0m0 3.4h0m0 -13.5h0m0 -1.5h0m0 13.4h0m0 -12.5h0m0 4.5h0m0 11.5h0m0 -10.9h0m0 5.4h0m0 -10.1h0m0 13.1h0m0 -16.7h0m0 5.7h0m0 -0.8h0m0 13.1h0m0 -6.4h0m0 5.1h0m0 2.5h0m0 -22h0m0 12.9h0m0 2.3h0m0 -13.9h0m0 9.8h0m0 11.5h0m0 -0.9h0m0 -2.9h0m0 -5.1h0m0.1 8.6h0m0 -10.9h0m0 -11.2h0m0 15.8h0m0 -10h0m0 -0.4h0m0 7h0m0 5.2h0m0 2.3h0m0 2h0m0 -9.2h0m0 9.4h0m0 -6h0m0 -16.7h0m0 19.8h0m0 -5.8h0m0 -3.5h0m0 6.5h0m0 -6h0m0 -1.7h0m0 5.7h0m0 -12h0m0 13h0m0 -10.7h0m0 16h0m0 1h0m0 -12.5h0m0 -4.3h0m0 10.4h0m0 3.3h0m0 -9.5h0m0 0.8h0m0 11.5h0m0.1 -16.4h0m0 5.5h0m0 -5.6h0m0 8.1h0m0 7h0m0 -16.9h0m0 5.8h0m0 2.7h0m0 6.3h0m0 -0.7h0m0 3.9h0m0 0.1h0m0 -17.3h0m0 3.5h0m0 -4.1h0m0 5.6h0m0 6.4h0m0 -7.9h0m0 13.8h0m0 1.2h0m0 -16.3h0m0 16h0m0 -3.2h0m0 3.3h0m0 -15.1h0m0 -6.7h0m0 -0.1h0m0 20.6h0m0 -18.8h0m0 -2h0m0.1 17.6h0m0 3.8h0m0 -16.7h0m0 14.6h0m0 -0.3h0m0 -3h0m0 -14.8h0m0 19h0m0 -21.4h0m0 22.2h0m0 -18.6h0m0 10h0m0 -5.3h0m0 -0.4h0m0 8.8h0m0 -14.3h0m0 6.9h0m0 1.9h0m0 3.3h0m0 6.4h0m0 -5.6h0m0 7.5h0m0.1 -6.9h0m0 3.1h0m0 3.9h0m0 0.3h0m0 -4.8h0m0 4.7h0m0 -0.1h0m0 -11.4h0m0 10.5h0m0 -1.3h0m0 -0.1h0m0 -3.1h0m0 -11.3h0m0 15.3h0m0 -13.5h0m0 11.9h0m0 -16.4h0m0 16.7h0m0 -10.3h0m0 -4.9h0m0 17h0m0 -3.6h0m0 1.1h0m0 -6.5h0m0 -11.5h0m0 10.3h0m0 10.2h0m0 -5.6h0m0.1 -2.7h0m0 -4.5h0m0 12.7h0m0 -12.6h0m0 7h0m0 -12h0m0 -1.6h0m0 6.6h0m0 13.5h0m0 -19.5h0m0 13.8h0m0 6.3h0m0 -7.9h0m0 -15.3h0m0 17.2h0m0 5.3h0m0 -20.8h0m0 8.6h0m0 4.9h0m0 -7.1h0m0 -3.9h0m0 8.7h0m0 -2h0m0 10.6h0m0 -7h0m0 -11.4h0m0 11.1h0m0 -8.2h0m0 12.8h0m0 -12h0m0 13.2h0m0 1.2h0m0.1 -2.1h0m0 3.5h0m0 -2.7h0m0 0.9h0m0 -16.2h0m0 3.4h0m0 14h0m0 0.9h0m0 -3.5h0m0 -12.4h0m0 -0.8h0m0 11.2h0m0 -4.4h0m0 -6.8h0m0 11h0m0 -0.9h0m0 2.5h0m0 -11.3h0m0 -6.2h0m0 4.4h0m0 4.3h0m0 -9.7h0m0 14.7h0m0 4.5h0m0 -13.5h0m0 -2.5h0m0 18.2h0m0 0.8h0m0 -2.5h0m0.1 -10.3h0m0 -9.3h0m0 21.7h0m0 -9h0m0 -10.9h0m0 13.3h0m0 4.9h0m0 -12.6h0m0 11.6h0m0 -18.8h0m0 15.6h0m0 -7.3h0m0 2.6h0m0 -4.2h0m0 9.5h0m0 5.4h0m0 -20.3h0m0 11.2h0m0 -6.5h0m0 16.5h0m0.1 -21.4h0m0 18.1h0m0 -3.8h0m0 -0.1h0m0 -4.7h0m0 -5h0m0 14.7h0m0 -18.8h0m0 4h0m0 4.7h0m0 -10.7h0m0 3.8h0m0 7.6h0m0 11.7h0m0 -7.2h0m0 -10.2h0m0 13h0m0 -14.3h0m0 -3.8h0m0 5.5h0m0 16.8h0m0 -2.6h0m0 -0.7h0m0 -12.9h0m0 15.1h0m0 -17.9h0m0 1.9h0m0 8.6h0m0.1 8.7h0m0 -21.9h0m0 3.4h0m0 1.2h0m0 -2.5h0m0 19.1h0m0 -18.6h0m0 6.6h0m0 -1.5h0m0 2.4h0m0 6.3h0m0 -15.6h0m0 16.4h0m0 -8.7h0m0 -9.5h0m0 19.3h0m0 -5.4h0m0 -13.1h0m0 5.7h0m0 15.9h0m0 -9.9h0m0 5.3h0m0 0.5h0m0 -14.1h0m0 3.3h0m0 11.6h0m0.1 -9.5h0m0 6h0m0 2.4h0m0 -17.4h0m0 11.4h0m0 -3h0m0 -7h0m0 20.8h0m0 0h0m0 -3.7h0m0 -12.2h0m0 13.2h0m0 -5.3h0m0 -8.7h0m0 10.4h0m0 -10.4h0m0 16.4h0m0 -13.7h0m0 -1h0m0 9.7h0m0 -16.9h0m0 22.2h0m0 -16.6h0m0 0.2h0m0 -4.6h0m0 6.4h0m0 0.7h0m0 12.4h0m0 1.5h0m0 -11.8h0m0 11.9h0m0 -7h0m0 2.8h0m0 -9h0m0.1 -7.8h0m0 -2.4h0m0 23.3h0m0 -15.3h0m0 14.7h0m0 -18.2h0m0 14.3h0m0 -14.5h0m0 2.1h0m0 16.6h0m0 -15.5h0m0 -6.8h0m0 6h0m0 -4.2h0m0 12.6h0m0 1.6h0m0 -13.2h0m0 12.3h0m0 -4.2h0m0 6h0m0 4.6h0m0 -3.4h0m0 2.3h0m0 -19.8h0m0 2.9h0m0 8.4h0m0 -7.7h0m0 16.4h0m0 -1.1h0m0.1 0h0m0 -18.4h0m0 2.1h0m0 16.7h0m0 -8.5h0m0 -9.1h0m0 20.3h0m0 -9.5h0m0 -0.2h0m0 -7.7h0m0 -2.5h0m0 11.7h0m0 8.3h0m0 -8.4h0m0 4.6h0m0 -1.4h0m0 -17.4h0m0 22.2h0m0 -17h0m0 -4.5h0m0 2.7h0m0 -0.4h0m0 18.6h0m0.1 -7.3h0m0 -13h0m0 15.1h0m0 4.4h0m0 -7.3h0m0 -5.2h0m0 4.6h0m0 1.4h0m0 7.9h0m0 -13.2h0m0 4.6h0m0 -2.9h0m0 11.9h0m0 -3.5h0m0 3.4h0m0 -20.2h0m0 5.6h0m0 9.6h0m0 5.1h0m0 -13.8h0m0 8.3h0m0 0h0m0 -0.3h0m0 5.3h0m0 -18.1h0m0.1 2.3h0m0 3.7h0m0 -5.5h0m0 12.8h0m0 -3.3h0m0 -12.4h0m0 5.2h0m0 -0.2h0m0 5.2h0m0 -12.5h0m0 23.1h0m0 -12.2h0m0 9.4h0m0 -7.6h0m0 -12.3h0m0 2.4h0m0 11.3h0m0 -1.9h0m0 -0.5h0m0 -4.1h0m0 6.8h0m0 8.9h0m0 -15.2h0m0 8.3h0m0 5.4h0m0 -10.6h0m0 9.2h0m0 2.8h0m0 -1.7h0m0.1 -9.7h0m0 -8.1h0m0 9.8h0m0 -0.3h0m0 7.6h0m0 -3.9h0m0 1.9h0m0 -8.9h0m0 13.4h0m0 -0.9h0m0 0.4h0m0 -0.8h0m0 -4.4h0m0 -12h0m0 3.2h0m0 -8.5h0m0 15.8h0m0 4.2h0m0 -12.9h0m0 7.8h0m0 1.9h0m0 4h0m0 -0.9h0m0.1 -5.4h0m0 -12.4h0m0 -2h0m0 10.3h0m0 4.8h0m0 -9.4h0m0 16.9h0m0 -3.8h0m0 4h0m0 -1.4h0m0 -17.1h0m0 16.5h0m0 -6.7h0m0 8.8h0m0 -0.2h0m0 -4.2h0m0 1.7h0m0 0.4h0m0 -3.6h0m0 1h0m0 -0.9h0m0 2h0m0 3.6h0m0 -10h0m0 -6h0m0 8.3h0m0.1 -13.3h0m0 16.5h0m0 -6.4h0m0 11h0m0 -7.2h0m0 1.8h0m0 -0.8h0m0 -14.2h0m0 2.6h0m0 17.9h0m0 -22.1h0m0 21.2h0m0 -22h0m0 21.5h0m0 -17.4h0m0 18.4h0m0 -7.1h0m0 -1.8h0m0 -8.2h0m0 14.8h0m0 -19.7h0m0 13.7h0m0 -8.8h0m0 -3h0m0 16.8h0m0.1 -19.6h0m0 14.1h0m0 -0.1h0m0 -1.2h0m0 -6.9h0m0 12.2h0m0 4.3h0m0 -8.6h0m0 -7.2h0m0 13.9h0m0 1.8h0m0 -14.7h0m0 -5.6h0m0 17.3h0m0 2.4h0m0 -7.5h0m0 8.9h0m0 -9.8h0m0 -6.9h0m0 -1.1h0m0 -4.2h0m0 22h0m0 -2.2h0m0 -5.3h0m0 0.8h0m0 -4.2h0m0 -10h0m0 12.6h0m0 -1.3h0m0 -4h0m0 3.4h0m0 6.4h0m0 3.8h0m0 -1.1h0m0.1 -0.2h0m0 -12.9h0m0 6.6h0m0 -10.6h0m0 17.5h0m0 -13.2h0m0 -3.1h0m0 -1.7h0m0 17h0m0 -2.7h0m0 4.1h0m0 -1.3h0m0 -19.7h0m0 5.8h0m0 3.7h0m0 -4.4h0m0 -0.1h0m0 2.2h0m0 8.7h0m0 -2.8h0m0 -2.9h0m0 1.4h0m0 -11.6h0m0 7.5h0m0 12.1h0m0 0.1h0m0 -9.9h0m0 2.9h0m0 8.6h0m0 -1.4h0m0 -4.3h0m0 5.9h0m0 -23.2h0m0 5.8h0m0 1.6h0m0.1 -7.2h0m0 19.4h0m0 -9.5h0m0 -3.7h0m0 6h0m0 10h0m0 -1h0m0 -6.1h0m0 -11.4h0m0 -3h0m0 8h0m0 9.7h0m0 -8.7h0m0 11.9h0m0 -1.8h0m0 1.3h0m0 -3.4h0m0.1 -0.7h0m0 -17.4h0m0 22.2h0m0 0.9h0m0 -4.3h0m0 0.3h0m0 -7.2h0m0 2.8h0m0 -6.2h0m0 14.8h0m0 -19.6h0m0 6.3h0m0 10.7h0m0 -9.9h0m0 -7.4h0m0 8.2h0m0 -9.2h0m0 10.8h0m0 4.6h0m0 -2.3h0m0 -4.1h0m0 7.8h0m0 -13.9h0m0 -1.2h0m0 10.7h0m0 7.2h0m0 -5.2h0m0 -13.3h0m0 0.7h0m0 17.1h0m0.1 1.8h0m0 -1.1h0m0 -3.4h0m0 -18h0m0 11.5h0m0 4h0m0 -7.2h0m0 -8.9h0m0 8.8h0m0 13.3h0m0 -21.1h0m0 18.4h0m0 -5.7h0m0 -8.2h0m0 15.4h0m0 -2.4h0m0 -0.7h0m0.1 -15.4h0m0 21h0m0 -12.2h0m0 2.7h0m0 -7.8h0m0 17h0m0 -17.7h0m0 0h0m0 3.2h0m0 10.2h0m0 -11.4h0m0 12.1h0m0 -13.6h0m0 10.2h0m0 -2.8h0m0 2.2h0m0 -0.6h0m0 1.9h0m0 -15.5h0m0.1 18.6h0m0 -0.8h0m0 0.8h0m0 -1.9h0m0 -16.6h0m0 11.2h0m0 4.8h0m0 -0.9h0m0 4.2h0m0 -4.3h0m0 -2.6h0m0 -1.5h0m0 9.7h0m0 -15.8h0m0 5h0m0 -5h0m0 0.2h0m0 12.5h0m0 -7.8h0m0 1.4h0m0 10.8h0m0 -15.2h0m0 12.6h0m0 -18.6h0m0 16.6h0m0 -16h0m0 10h0m0 -7.9h0m0.1 16.2h0m0 -19.8h0m0 21.9h0m0 -21.9h0m0 12.3h0m0 -3.5h0m0 4.4h0m0 -6.9h0m0 14.5h0m0 -6.4h0m0 5.1h0m0 -1.1h0m0 -4.3h0m0 -10.5h0m0 0.2h0m0 3.3h0m0 0.1h0m0 -8.2h0m0 4.3h0m0 13h0m0 -1.2h0m0 7h0m0 0h0m0 -6.3h0m0 -11h0m0 0.6h0m0.1 6.6h0m0 4.3h0m0 -8.4h0m0 9.8h0m0 -9.3h0m0 -8.8h0m0 13.8h0m0 -3.9h0m0 3.5h0m0 -13.5h0m0 8h0m0 -4.8h0m0 18.3h0m0 1.1h0m0 -17.3h0m0 -5.8h0m0 19.5h0m0 3.5h0m0 -8.3h0m0 -0.3h0m0 -14.8h0m0 17.6h0m0 -10h0m0.1 7.7h0m0 7.7h0m0 -3.8h0m0 -1.2h0m0 5.2h0m0 -14.2h0m0 4h0m0 -10.5h0m0 20.9h0m0 -18.9h0m0 17.6h0m0 -21.9h0m0 5h0m0 0h0m0 16.4h0m0 -12.9h0m0 -0.5h0m0 9.1h0m0 -6.9h0m0 13.1h0m0 -4.4h0m0 1.3h0m0 -4.3h0m0 -3h0m0 -0.4h0m0 3.9h0m0 -12.2h0m0 5.9h0m0.1 -9.9h0m0 8.9h0m0 -8.4h0m0 13.3h0m0 4.5h0m0 -8.3h0m0 12.7h0m0 -14.9h0m0 13.1h0m0 -16.8h0m0 10.3h0m0 -10.8h0m0 13.6h0m0 -3.9h0m0 6.6h0m0 -15.7h0m0 8.6h0m0 0.3h0m0 4.1h0m0 -8h0m0 12.5h0m0 -16h0m0 17.1h0m0 -10.7h0m0 -1.7h0m0 0.4h0m0 5.8h0m0 -8.8h0m0 0.9h0m0 -3.6h0m0.1 13.6h0m0 -13.1h0m0 -0.4h0m0 8.5h0m0 -2.6h0m0 -9.4h0m0 5.6h0m0 12.5h0m0 -1.5h0m0 -16.8h0m0 15.5h0m0 -7.1h0m0 9.6h0m0 3.6h0m0 -16.7h0m0 -2.9h0m0 2.6h0m0 14.7h0m0 -0.3h0m0 -7.1h0m0 -1.2h0m0 -10.5h0m0 10.4h0m0 -9.4h0m0 17.4h0m0 -2.6h0m0 -16.5h0m0.1 17.1h0m0 -6.5h0m0 -8h0m0 8.4h0m0 5.8h0m0 5.3h0m0 -7h0m0 -9.7h0m0 0.7h0m0 16.1h0m0 -7.2h0m0 6.9h0m0 -20.5h0m0 14.3h0m0 4.4h0m0 -18h0m0 -0.4h0m0 1.7h0m0 -3.8h0m0 1.3h0m0 2h0m0 14.9h0m0 -2.8h0m0 7.2h0m0 -2.2h0m0 -20.5h0m0 22.6h0m0 -5h0m0 -5.8h0m0 5.6h0m0 4.3h0m0 -11.6h0m0 -3.1h0m0 9.1h0m0 -12.4h0m0 12.5h0m0 -8.3h0m0 2.8h0m0.1 11.7h0m0 -16.8h0m0 9h0m0 -6.5h0m0 11.8h0m0 -13.5h0m0 12.3h0m0 -13.2h0m0 10.1h0m0 2.6h0m0 -10.9h0m0 13.2h0m0 -5.4h0m0 6.7h0m0 -22.1h0m0 10.6h0m0 -7.3h0m0 17.7h0m0 -20.4h0m0 17h0m0 -2.8h0m0 8.2h0m0 -16.7h0m0 16.2h0m0.1 -7.9h0m0 3.8h0m0 -4.9h0m0 -1.8h0m0 -8.8h0m0 19.9h0m0 -13.8h0m0 6.8h0m0 -11.6h0m0 7.4h0m0 -9.7h0m0 18.8h0m0 1.7h0m0 -17h0m0 1.5h0m0 15.8h0m0 -4.9h0m0 0h0m0 2.6h0m0 -11.2h0m0 1.3h0m0 9.4h0m0 -12h0m0 14.4h0m0 -0.5h0m0 -7.9h0m0 -9.1h0m0 18.2h0m0 -18h0m0 13.6h0m0 -6.4h0m0.1 -5.9h0m0 14.8h0m0 -11.1h0m0 10.4h0m0 2.5h0m0 -7.9h0m0 7.4h0m0 -7h0m0 4.2h0m0 -6.5h0m0 -13.4h0m0 1.2h0m0 16h0m0 -15.3h0m0 13.2h0m0 -3.4h0m0 4.2h0m0 -3.6h0m0 4.8h0m0 -9.7h0m0 11.5h0m0 4.1h0m0 0.2h0m0 -7h0m0 1.1h0m0 -3.4h0m0 -8.8h0m0 -1.3h0m0.1 -3.2h0m0 18.9h0m0 -13.3h0m0 5.4h0m0 6.1h0m0 -15.6h0m0 6.4h0m0 -7h0m0 14.5h0m0 -10.2h0m0 12.9h0m0 4.2h0m0 -4.1h0m0 0.7h0m0 -2.4h0m0 -4.4h0m0 2.3h0m0 7.8h0m0 -23.1h0m0 23.2h0m0 -0.9h0m0 -1.2h0m0 0.3h0m0 -8.2h0m0 3.3h0m0 -6.7h0m0 0.7h0m0 -10.1h0m0.1 4.5h0m0 18.2h0m0 -14.4h0m0 2.3h0m0 -2h0m0 -7.3h0m0 21.3h0m0 -0.6h0m0 -17.9h0m0 -2.6h0m0 7.8h0m0 10.4h0m0 -2.4h0m0 -16.9h0m0 20.3h0m0 -18.9h0m0 3.1h0m0 3h0m0 13.6h0m0 -20.8h0m0 15.1h0m0 -13.3h0m0 15.2h0m0 -8.4h0m0 4.3h0m0 6.1h0m0 -13.7h0m0 -4.4h0m0 -0.4h0m0 18.8h0m0.1 -3.3h0m0 -0.1h0m0 -7.9h0m0 13.8h0m0 -19.4h0m0 18.9h0m0 -18.2h0m0 7.1h0m0 -6.7h0m0 5.2h0m0 10.3h0m0 3.2h0m0 -7h0m0 6.7h0m0 -6.1h0m0 2.4h0m0 -15.7h0m0 13.7h0m0 -7.5h0m0 13.6h0m0 -18.7h0m0 -2.1h0m0 14.6h0m0 -3.4h0m0 -3.5h0m0 -4.4h0m0 -5.7h0m0 7.6h0m0 13.6h0m0 -16.7h0m0.1 12.8h0m0 -8.9h0m0 12.2h0m0 -1.8h0m0 -1.8h0m0 6.3h0m0 -2.8h0m0 -8.2h0m0 8.7h0m0 -4.3h0m0 -6.6h0m0 -4h0m0 -1.9h0m0 13.6h0m0 -8h0m0 5.9h0m0 -3.5h0m0 5.5h0m0 5h0m0 -8.4h0m0 -13.2h0m0 15.1h0m0 -1.7h0m0 0.7h0m0 -10.3h0m0 -4.7h0m0 20.8h0m0.1 -1.6h0m0 -2.9h0m0 -13h0m0 2.4h0m0 17.3h0m0 -5.7h0m0 -1.7h0m0 5.9h0m0 -4h0m0 5.6h0m0 -5.2h0m0 -7.7h0m0 7.5h0m0 -0.2h0m0 -11.4h0m0 1.3h0m0 11.8h0m0 2h0m0 -3.6h0m0 -3.7h0m0 4.8h0m0 -0.9h0m0 4.3h0m0 0.8h0m0 -7.9h0m0 5.8h0m0.1 -14.6h0m0 14.9h0m0 -4.1h0m0 -7.1h0m0 3.5h0m0 -2.6h0m0 6.3h0m0 -14.3h0m0 16.5h0m0 -13.7h0m0 17.5h0m0 -18.2h0m0 9.8h0m0 -10.7h0m0 19h0m0 -21.3h0m0 21.3h0m0 -2.6h0m0 -7h0m0 -3.1h0m0 12.8h0m0 -18.3h0m0 -0.5h0m0 11.8h0m0 5.4h0m0 -19.2h0m0 15.3h0m0 5h0m0.1 0.1h0m0 0h0m0 -1.6h0m0 0.2h0m0 -14.3h0m0 -4.3h0m0 17.8h0m0 -2.6h0m0 4.9h0m0 -4.4h0m0 1.2h0m0 -19.9h0m0 8.7h0m0 14.7h0m0 -6.7h0m0 -0.8h0m0 -3.3h0m0 -5.2h0m0 13.3h0m0 -11.2h0m0 7h0m0 2.4h0m0 -2.9h0m0 -8.3h0m0 9.8h0m0 -14.8h0m0 10.4h0m0.1 10.1h0m0 -20.2h0m0 7.7h0m0 12.5h0m0 -0.3h0m0 -21.5h0m0 -1.5h0m0 8.7h0m0 -4h0m0 11.9h0m0 6.9h0m0 -18.7h0m0 6.5h0m0 9.9h0m0 1.7h0m0 -13.4h0m0 4.1h0m0 -11.5h0m0 0.6h0m0 2.6h0m0 18.1h0m0 -7.1h0m0 0.7h0m0 -13.8h0m0.1 2.6h0m0 16.7h0m0 -12.9h0m0 6.3h0m0 -8.5h0m0 6.3h0m0 2.9h0m0 -11.8h0m0 16.9h0m0 -14h0m0 14.4h0m0 -2.9h0m0 2.8h0m0 -13.2h0m0 8.4h0m0 2.6h0m0 1.6h0m0 -9.3h0m0 10.8h0m0 0.3h0m0 -4.9h0m0 -6.2h0m0 3.3h0m0 -8.4h0m0 1.5h0m0 4.8h0m0 -11.1h0m0 -0.8h0m0 17.8h0m0.1 -14.5h0m0 3.6h0m0 -0.3h0m0 5.4h0m0 -0.4h0m0 8.3h0m0 -7.4h0m0 7h0m0 -12.5h0m0 10.8h0m0 -16.9h0m0 18.7h0m0 -0.8h0m0 -0.6h0m0 -0.3h0m0 -6.8h0m0 1.3h0m0 9.1h0m0 -14h0m0 -1.8h0m0 7h0m0 9.4h0m0 -17.5h0m0 11.8h0m0 -12.8h0m0.1 18.4h0m0 -1.7h0m0 -19.8h0m0 -0.1h0m0 20.7h0m0 -16.3h0m0 -0.1h0m0 -0.7h0m0 -2.8h0m0 16h0m0 -10.4h0m0 -0.9h0m0 11.7h0m0 -18.8h0m0 2.6h0m0 10h0m0 0.7h0m0 4.2h0m0 -1.3h0m0 4.2h0m0 -3.7h0m0 -5.7h0m0 -4.8h0m0 1.9h0m0.1 12.2h0m0 2.2h0m0 -3h0m0 -7h0m0 2.1h0m0 -0.4h0m0 -11.1h0m0 11.6h0m0 8.6h0m0 -0.6h0m0 -19.2h0m0 8.5h0m0 -11.6h0m0 20h0m0 -14.1h0m0 1h0m0 3.8h0m0 3.9h0m0 -15.1h0m0 13.7h0m0 2.5h0m0 -10.1h0m0 15h0m0 -1.6h0m0 -1h0m0 3.5h0m0 -6.8h0m0 8.1h0m0 -17.8h0m0.1 -5.6h0m0 22.4h0m0 -14.1h0m0 10.3h0m0 0.3h0m0 -7.9h0m0 8.3h0m0 2.2h0m0 -13h0m0 12.8h0m0 1h0m0 -4.4h0m0 4.2h0m0 -16.5h0m0 14.2h0m0 -2.8h0m0 -0.8h0m0 2.8h0m0 4.2h0m0 -2.7h0m0 2.9h0m0 -1.2h0m0.1 -2.1h0m0 -19.8h0m0 21.5h0m0 -17.7h0m0 -3.7h0m0 22.5h0m0 -3.4h0m0 -3.3h0m0 3.5h0m0 -1.1h0m0 -4.1h0m0 7.8h0m0 -12.3h0m0 5.4h0m0 1.4h0m0 -9.6h0m0 3.5h0m0 -6.4h0m0 7.1h0m0 7.9h0m0 -3.7h0m0.1 4.7h0m0 -8.3h0m0 0h0m0 0.2h0m0 9.4h0m0 -0.5h0m0 -2.6h0m0 -3.8h0m0 3.9h0m0 -17.6h0m0 15.2h0m0 5.8h0m0 -7.6h0m0 9.1h0m0 -11.4h0m0 -10.5h0m0 10.7h0m0 10.3h0m0 -15.5h0m0 4.4h0m0 -5.5h0m0 9.7h0m0 -1.3h0m0 -1.5h0m0 9.7h0m0.1 -22h0m0 20.1h0m0 -9h0m0 4.1h0m0 -7.5h0m0 6.1h0m0 3.4h0m0 -6.8h0m0 10.5h0m0 -16.3h0m0 12.1h0m0 4.9h0m0 -5.5h0m0 -3.7h0m0 -9.4h0m0 3.1h0m0 8.7h0m0 -7h0m0 0.1h0m0 -4.6h0m0 8.2h0m0 10.2h0m0 -16.4h0m0 10.8h0m0 1.6h0m0 -1.7h0m0 -1.8h0m0 -12.3h0m0 -2.2h0m0 15.1h0m0 -14.1h0m0 15.1h0m0.1 0.4h0m0 1.6h0m0 4.9h0m0 -3.3h0m0 -12.2h0m0 15.4h0m0 -13h0m0 12.7h0m0 -15.1h0m0 -0.5h0m0 6.7h0m0 -10.2h0m0 2.5h0m0 9.6h0m0 1.7h0m0 0.4h0m0 5.3h0m0 -1.5h0m0 -1.7h0m0 -18.7h0m0 10.6h0m0 11.3h0m0 -13.4h0m0 12.3h0m0.1 -16.6h0m0 4.4h0m0 9.4h0m0 -2.7h0m0 -4.3h0m0 -10.1h0m0 15.4h0m0 -12.6h0m0 17.1h0m0 -14.6h0m0 13.8h0m0 -4.5h0m0 4h0m0 -0.7h0m0 1.7h0m0 1.3h0m0.1 -20.9h0m0 16.3h0m0 -4h0m0 -14.1h0m0 19.2h0m0 -3h0m0 4.2h0m0 -2.1h0m0 -9.6h0m0 -4.2h0m0 4.2h0m0 6.1h0m0 5.4h0m0 -16.6h0m0 19.3h0m0 -19.1h0m0 -1.5h0m0 20.2h0m0 -10.1h0m0 -1.7h0m0 4.7h0m0 5.5h0m0 0.1h0m0 -3.2h0m0 -4.3h0m0 4.3h0m0 5h0m0 -23.1h0m0 3h0m0 9.1h0m0 0.2h0m0 2.2h0m0 -10.9h0m0 2h0m0 10.6h0m0.1 2.7h0m0 -0.2h0m0 -9.1h0m0 3.4h0m0 2.6h0m0 -11.3h0m0 17.6h0m0 1h0m0 -0.3h0m0 -18.9h0m0 5.9h0m0 -5.5h0m0 4.2h0m0 13.9h0m0 -8.8h0m0 8.5h0m0 -11.8h0m0 -3.6h0m0 9.5h0m0 6.7h0m0 -8.1h0m0 -14h0m0 22.4h0m0 -18h0m0 16.8h0m0 -11.9h0m0 12.8h0m0 -2.4h0m0 -5.4h0m0 4.5h0m0 -7.7h0m0.1 6.7h0m0 -13h0m0 11.1h0m0 -7.7h0m0 1.6h0m0 -6.2h0m0 -2.7h0m0 -0.6h0m0 10.6h0m0 -3.8h0m0 15.5h0m0 -2.1h0m0 -8.6h0m0 8.9h0m0 -17.5h0m0 -3h0m0 20.9h0m0 -1.5h0m0 -11.5h0m0 13h0m0 -20.6h0m0 21.3h0m0 -15.6h0m0 10.5h0m0 4.8h0m0 -7.4h0m0 4.8h0m0 -2.7h0m0 -7.5h0m0 12.5h0m0 -14.9h0m0 -4.4h0m0.1 20.6h0m0 -20.6h0m0 19h0m0 -12.8h0m0 11.5h0m0 -3.4h0m0 -4.2h0m0 7h0m0 -10.6h0m0 6.6h0m0 1.6h0m0 -2h0m0 6.5h0m0 -2h0m0 2.2h0m0 -15.6h0m0 -5.4h0m0 19.4h0m0 -17.1h0m0 0.4h0m0 19h0m0 -20h0m0 -0.7h0m0 19.1h0m0 -19.9h0m0 14.8h0m0 -10.7h0m0 11h0m0 5.5h0m0.1 -7.1h0m0 -6.1h0m0 -1.8h0m0 6.5h0m0 0.3h0m0 -8.2h0m0 17.6h0m0 -13.4h0m0 -9.7h0m0 17.4h0m0 4.9h0m0 -0.3h0m0 -13.2h0m0 12.9h0m0 1.5h0m0.1 -8.8h0m0 6.5h0m0 -6.9h0m0 -6.1h0m0 14.8h0m0 -9h0m0 9.6h0m0 -12.5h0m0 2.8h0m0 2.9h0m0 5.2h0m0 -8.8h0m0 -7.3h0m0 3h0m0 10.4h0m0 3.3h0m0 -7.9h0m0 8.6h0m0 -17.4h0m0 17.7h0m0 -1.3h0m0 -4h0m0 -4.8h0m0 -7.7h0m0 10.1h0m0.1 -11.6h0m0 7.2h0m0 -9h0m0 21.1h0m0 -21.1h0m0 3.3h0m0 16.8h0m0 -19.8h0m0 15.1h0m0 -11.7h0m0 7.5h0m0 6h0m0 -4.4h0m0 -5.3h0m0 9.5h0m0 -6.3h0m0 8.9h0m0 -4.6h0m0 -5.4h0m0.1 11.5h0m0 -1.7h0m0 -9.6h0m0 10.4h0m0 -5.2h0m0 -1.3h0m0 7.1h0m0 -15.5h0m0 7.5h0m0 6h0m0 -12.6h0m0 8.4h0m0 -7h0m0 6.2h0m0 6.9h0m0 -4.8h0m0 0.6h0m0 -8.9h0m0 13.2h0m0 -3.1h0m0 -4h0m0 -15.9h0m0 22.7h0m0 -0.6h0m0.1 -8.7h0m0 6h0m0 0.1h0m0 -0.6h0m0 -14h0m0 8.2h0m0 10.1h0m0 -2h0m0 -1.1h0m0 1.3h0m0 -13.2h0m0 3h0m0 4.5h0m0 -12.9h0m0 7.1h0m0 13h0m0 -8.8h0m0 -3.6h0m0 4.4h0m0 -9.3h0m0 16.5h0m0 -11.3h0m0.1 -0.8h0m0 10.5h0m0 -1.6h0m0 4.2h0m0 -16h0m0 -6.5h0m0 18.4h0m0 -2.7h0m0 -12h0m0 18.1h0m0 -6.8h0m0 -14.7h0m0 18.2h0m0 4.2h0m0 -20.1h0m0 7.5h0m0 -1.6h0m0 -1.5h0m0 -5.9h0m0 4.6h0m0 -5.8h0m0.1 5.2h0m0 7.2h0m0 4.2h0m0 -17h0m0 6.1h0m0 15.2h0m0 -5.6h0m0 -9.1h0m0 8.9h0m0 -12.8h0m0 0.3h0m0 16h0m0 3.9h0m0 -8.5h0m0 -0.5h0m0 -3.4h0m0 5.1h0m0 2.4h0m0.1 -5.6h0m0 6.4h0m0 1.2h0m0 3.1h0m0 -0.4h0m0 -19.4h0m0 -2.3h0m0 13.2h0m0 -7.1h0m0 9.1h0m0 -13.1h0m0 12.6h0m0 7.2h0m0 -0.1h0m0 -17.8h0m0 -1.6h0m0 8.6h0m0 -1.9h0m0 -4.2h0m0 11h0m0 -14.8h0m0 -0.1h0m0 18h0m0 -14.4h0m0.1 4.6h0m0 7.1h0m0 -3.9h0m0 -1h0m0 10.7h0m0 -7.8h0m0 7.2h0m0 -8.5h0m0 8.9h0m0 -0.3h0m0 -18.9h0m0 16.9h0m0 -15.1h0m0 15h0m0 -14.1h0m0 9.8h0m0 6.7h0m0 -20.1h0m0 18h0m0.1 -5.1h0m0 3.7h0m0 -15.2h0m0 7.4h0m0 -10h0m0 16h0m0 5.1h0m0 0.3h0m0 -13.6h0m0 -0.4h0m0 12.7h0m0 -18.3h0m0 13.5h0m0 5.7h0m0.1 -10.8h0m0 3h0m0 -5.9h0m0 -2.6h0m0 10.6h0m0 -1.6h0m0 -5.2h0m0 3.3h0m0 2.9h0m0 -7.7h0m0 -2.8h0m0 14h0m0 -5.3h0m0 -11.4h0m0 4.8h0m0 14.9h0m0 -8.7h0m0 -0.1h0m0 7.6h0m0 -9.5h0m0 -1.8h0m0 -5.9h0m0 -1.5h0m0 19.7h0m0 -12.2h0m0.1 10.3h0m0 -10.8h0m0 7.8h0m0 3.3h0m0 -10.8h0m0 0.6h0m0 3.8h0m0 7.2h0m0 -13.8h0m0 5.5h0m0 6h0m0 -6.9h0m0.1 -8.3h0m0 14.7h0m0 0.4h0m0 -13.3h0m0 15.7h0m0 -15.2h0m0 3.4h0m0 -1.8h0m0 -5.4h0m0 15.1h0m0 2.1h0m0 -9.9h0m0 4.8h0m0 8.2h0m0 -21.3h0m0 5.4h0m0 -6.5h0m0 10.8h0m0 -5.6h0m0 15.8h0m0 0h0m0.1 -1.9h0m0 -9.1h0m0 4.7h0m0 6h0m0 -2.9h0m0 2.7h0m0 -13h0m0 -5.2h0m0 9.7h0m0 -8.2h0m0 1.4h0m0 13.5h0m0 -5h0m0 -5.9h0m0 3.4h0m0 3.1h0m0 -15.1h0m0 12.3h0m0 -12.3h0m0 14.8h0m0 -14.5h0m0 13.3h0m0 9.5h0m0.1 0h0m0 -8.4h0m0 -1.3h0m0 9.2h0m0 -11.3h0m0 7.3h0m0 -5.9h0m0 -6.1h0m0 8.3h0m0 -13.6h0m0 5.6h0m0 7.6h0m0 -3.3h0m0 7.2h0m0.1 -4.3h0m0 5.3h0m0 -6.1h0m0 9.7h0m0 -9.9h0m0 -12.1h0m0 15.9h0m0 2.8h0m0 3.4h0m0 -16.1h0m0 11.7h0m0 1.1h0m0 -11.5h0m0 7h0m0 5.9h0m0 -16.2h0m0 15.8h0m0 -13.3h0m0 12.2h0m0 -7.4h0m0 6.8h0m0 -8.8h0m0 3.6h0m0 6.3h0m0 -11.1h0m0.1 7.8h0m0 5.1h0m0 -11.7h0m0 9h0m0 -11.8h0m0 -7.3h0m0 22.5h0m0 -15.9h0m0 15.1h0m0 -2.3h0m0 -4.1h0m0 -13.7h0m0 7.7h0m0 2.7h0m0 1.6h0m0 -5.3h0m0 12.3h0m0 2h0m0 -2.7h0m0 -4h0m0 -3.4h0m0 5.2h0m0.1 -8.9h0m0 -4.2h0m0 18.3h0m0 -0.9h0m0 -13.3h0m0 -3.3h0m0 16.4h0m0 -8h0m0 -3.7h0m0 -0.7h0m0 9.3h0m0 -8.4h0m0 1.9h0m0 4.1h0m0 -12.8h0m0 6.5h0m0 10.3h0m0 -1.1h0m0.1 -15.5h0m0 10.3h0m0 3.8h0m0 -16h0m0 19.8h0m0 -12.9h0m0 4.5h0m0 -7.2h0m0 15.1h0m0 1.7h0m0 -0.2h0m0 -1.3h0m0 -3.4h0m0 4h0m0.1 -21.7h0m0 8.6h0m0 -8.5h0m0 19.5h0m0 1.3h0m0 -9.2h0m0 -9.4h0m0 14.8h0m0 5.5h0m0 -6.8h0m0 6.9h0m0 -0.4h0m0 -8.1h0m0 3.1h0m0 0.8h0m0 -9.7h0m0 13.7h0m0.1 -0.8h0m0 -11.7h0m0 12.6h0m0 -18.3h0m0 17.4h0m0 0.8h0m0 -2.5h0m0 1.2h0m0 -2.5h0m0 -11.2h0m0 14.3h0m0 -3.4h0m0 3.9h0m0 -19.6h0m0 12.4h0m0 8h0m0 -4.8h0m0 3.2h0m0 -18h0m0 10.4h0m0 -13.7h0m0 22.9h0m0 -14.2h0m0.1 3.6h0m0 -9.2h0m0 18.9h0m0 0.7h0m0 -9.2h0m0 5.9h0m0 -3.8h0m0 1h0m0 -9.7h0m0 -3.9h0m0 12.6h0m0 4h0m0 -14.5h0m0 11.4h0m0 -12.2h0m0 10.5h0m0 -2.6h0m0 -2.1h0m0 -2h0m0 13.4h0m0 -2.6h0m0 -0.9h0m0.1 -11.2h0m0 9.2h0m0 1.7h0m0 -8.9h0m0 -7.9h0m0 8h0m0 13.8h0m0 -7.2h0m0 -8.6h0m0 0.7h0m0 0.4h0m0 -1.3h0m0 14.3h0m0 -0.6h0m0 -19.8h0m0 6.1h0m0 16.1h0m0 -3h0m0.1 -14.9h0m0 16.4h0m0 -6h0m0 4.2h0m0 -19.4h0m0 11.9h0m0 5h0m0 -8h0m0 9.7h0m0 -8.1h0m0 8.4h0m0 -13.5h0m0 14.6h0m0 -1.5h0m0 -6.9h0m0 6.2h0m0 -11.8h0m0 13.3h0m0 -6.8h0m0 8.1h0m0 -9.6h0m0 -1.5h0m0 -6.7h0m0.1 11.2h0m0 -12.6h0m0 16.9h0m0 0.3h0m0 -11.7h0m0 -7h0m0 4.8h0m0 17.3h0m0 -12.9h0m0 -4.8h0m0 11.5h0m0.1 -1.9h0m0 -2.8h0m0 -3.9h0m0 4.3h0m0 6.9h0m0 4.2h0m0 -15.8h0m0 15h0m0 -6.5h0m0 -5.7h0m0 5.8h0m0 -3.8h0m0 8.4h0m0.1 -2.3h0m0 -10.8h0m0 -0.1h0m0 -7h0m0 22.5h0m0 -0.3h0m0 -15.2h0m0 -3.3h0m0 0h0m0 17.6h0m0 -3.3h0m0 1.5h0m0.1 3.3h0m0 -1.8h0m0 -16.2h0m0 14.6h0m0 -17.2h0m0 -0.1h0m0 16.8h0m0 -12.5h0m0 16.5h0m0 -19.1h0m0 14.8h0m0 -11.5h0m0 10.9h0m0 -1.6h0m0 -6.1h0m0.1 -0.7h0m0 10.7h0m0 -12.1h0m0 -4.5h0m0 18.4h0m0 -4.9h0m0 -6.7h0m0 -1.5h0m0 -2.4h0m0 4.8h0m0 11.1h0m0 -4.2h0m0 -12.1h0m0 0.1h0m0 4.6h0m0 3.2h0m0 8.2h0m0.1 0.2h0m0 -4.1h0m0 2h0m0 2.2h0m0 -7.3h0m0 1.7h0m0 -3.1h0m0 3.8h0m0 3.6h0m0 -17h0m0 10.2h0m0 8.3h0m0 -7.8h0m0 6h0m0 1.7h0m0 -14.9h0m0 12.1h0m0.1 -13.4h0m0 16.4h0m0 -15.7h0m0 -4.9h0m0 9h0m0 4.9h0m0 -7h0m0 9.8h0m0 -18.5h0m0 19.2h0m0 3h0m0 -17.9h0m0 8.3h0m0 7.9h0m0 -17.7h0m0 18.1h0m0 -3.9h0m0.1 3h0m0 -8.5h0m0 6.8h0m0 0.7h0m0 -13.8h0m0 10.9h0m0 5h0m0 0.6h0m0 0.2h0m0 -1.1h0m0 -12.7h0m0 10.5h0m0.1 -5.7h0m0 -7.3h0m0 9.2h0m0 4.9h0m0 2.5h0m0 0.1h0m0 -12.8h0m0 12.1h0m0 -18.7h0m0 -1h0m0 11.9h0m0 -7.1h0m0.1 13h0m0 2.5h0m0 -3.3h0m0 -3.8h0m0 6.2h0m0 -9.2h0m0 -8.6h0m0 -4h0m0 7.4h0m0 10.4h0m0 0.7h0m0 4h0m0 -2.1h0m0 -13.2h0m0 10h0m0 -16.9h0m0 17.2h0m0 -1.3h0m0 -5.7h0m0.1 3.7h0m0 4.8h0m0 -11.5h0m0 13h0m0 1.8h0m0 -8.4h0m0 -2.1h0m0 -9.7h0m0 0.1h0m0 1.7h0m0 8.4h0m0 7h0m0 -3.2h0m0 -5.7h0m0 -7.8h0m0 20.1h0m0.1 -1.8h0m0 -1.3h0m0 -17.2h0m0 20.3h0m0 -11.7h0m0 -1.2h0m0 -0.3h0m0 -6.9h0m0 17.7h0m0.1 -10.5h0m0 10.9h0m0 -0.6h0m0 -1.8h0m0 -10.4h0m0 9.6h0m0 -14.6h0m0 12.9h0m0 -1.5h0m0 4.9h0m0 -10.2h0m0 -0.5h0m0.1 12h0m0 -3.7h0m0 -7.8h0m0 7.7h0m0 5h0m0 -4.9h0m0 -2.1h0m0 -8.9h0m0 15.8h0m0 0.4h0m0 -0.3h0m0 -0.4h0m0 -20.2h0m0 6.2h0m0 1.8h0m0.1 9.6h0m0 -13.8h0m0 15.1h0m0 -13.1h0m0 8.5h0m0 -2.4h0m0 5.7h0m0 0.7h0m0 2.2h0m0.1 -9.8h0m0 -11h0m0 21.7h0m0 -7.5h0m0 -9.2h0m0 10.5h0m0 -8.5h0m0 -6.5h0m0 20.1h0m0 -1.2h0m0 -12.9h0m0 -2.9h0m0 17.3h0m0 -11.9h0m0.1 -0.5h0m0 7.7h0m0 -12.2h0m0 11h0m0 4.3h0m0.1 -6.3h0m0 -7h0m0 15.9h0m0 -1h0m0 -16.5h0m0 7.1h0m0 4.9h0m0.1 3.5h0m0 -1.5h0m0 -4.9h0m0 3.4h0m0 2.8h0m0 0h0m0 -6h0m0 7.7h0m0 -5.8h0m0 1.3h0m0 -3.5h0m0 -6.6h0m0 11.4h0m0 3.5h0m0 -0.5h0m0.1 -7.6h0m0 4.6h0m0 -9.6h0m0 12.4h0m0 -5.9h0m0 3.5h0m0 -2.4h0m0 -2.8h0m0 -8.1h0m0 14.1h0m0 1.7h0m0.1 -0.2h0m0 -21.9h0m0 16.8h0m0 -14.4h0m0 18.8h0m0 0.2h0m0 -12h0m0 11h0m0 -15.3h0m0 0.1h0m0.1 8.5h0m0 0.2h0m0 5.9h0m0 -3.6h0m0 -1.2h0m0 -0.1h0m0 -4.5h0m0 12.1h0m0 -8.1h0m0 -3h0m0.1 -3.2h0m0 4h0m0 -11h0m0 15.7h0m0 3.7h0m0 -10.3h0m0 -2.6h0m0 3.1h0m0 9.4h0m0 -6.4h0m0 6.4h0m0 -3.1h0m0 -5.2h0m0 -1.7h0m0 3.8h0m0.1 4h0m0 2.6h0m0 0h0m0 -1.8h0m0 -1.6h0m0 2.9h0m0 -12.8h0m0 -6.8h0m0 21.4h0m0 -7.4h0m0 8h0m0 -16h0m0.1 14.5h0m0 -0.1h0m0 -3.3h0m0 -17.5h0m0 13h0m0 -0.1h0m0 1.9h0m0 6.2h0m0.1 0.6h0m0 -2.6h0m0 1h0m0 -2.9h0m0 -4.9h0m0 9.9h0m0 -1.8h0m0 2.1h0m0 -7.9h0m0 3.8h0m0 -10.9h0m0 6.7h0m0 1.3h0m0.1 -11.3h0m0 2.9h0m0 15.6h0m0 -19.7h0m0 18.2h0m0 -16.6h0m0 15.2h0m0 -0.5h0m0 -0.8h0m0.1 1h0m0 -1.6h0m0 0.9h0m0 -2.5h0m0 -0.4h0m0 -0.2h0m0 0.1h0m0.1 -0.2h0m0 0.4h0m0 4h0m0 -9.9h0m0 -1.9h0m0 10.1h0m0 4.1h0m0 -16.4h0m0 13.7h0m0 0.9h0m0 1.9h0m0 -5.6h0m0.1 -14.6h0m0 9.6h0m0 -3.5h0m0 9.7h0m0 3.3h0m0 -14.4h0m0 15.4h0m0 -18.2h0m0 14.8h0m0 2.6h0m0 -3.8h0m0 -12h0m0.1 14h0m0 -6.8h0m0 5h0m0 1.6h0m0 -7.5h0m0 5.2h0m0 -15.6h0m0.1 5.7h0m0 12.8h0m0 -19.7h0m0 14.4h0m0 -0.1h0m0 7h0m0.1 -3.4h0m0 -10.5h0m0 7.3h0m0 -14.8h0m0 19.9h0m0 -7.9h0m0 -5.4h0m0 -1.9h0m0 7.5h0m0 7.2h0m0 -1.5h0m0 0.8h0m0 -7.6h0m0 -2.3h0m0 10.3h0m0.1 -13.4h0m0 4.4h0m0 -2.6h0m0 13.4h0m0 -5.7h0m0 4.3h0m0 -7.3h0m0 -3.1h0m0.1 5.7h0m0 -1.4h0m0 0.4h0m0 3.3h0m0 1.4h0m0 -11.4h0m0 11.3h0m0 1.6h0m0 -1.5h0m0 -0.8h0m0.1 -10.6h0m0 14.3h0m0 -15h0m0 14.1h0m0 0.6h0m0 -1.9h0m0 -12.6h0m0 7.5h0m0.1 6.3h0m0 -15h0m0 -3h0m0 18.5h0m0 -2.7h0m0 2.7h0m0 -4.5h0m0 4.3h0m0.1 -0.8h0m0 -13.4h0m0 11.1h0m0 3.1h0m0 -16.5h0m0 12.7h0m0 -2.7h0m0 -9.2h0m0 14.5h0m0 -0.2h0m0.1 -4.7h0m0 6.3h0m0 -0.3h0m0 -11.4h0m0 6.3h0m0.1 -0.7h0m0 -5.6h0m0 10.8h0m0 -1h0m0 1.4h0m0 -3.3h0m0 -3.7h0m0 4h0m0 0.7h0m0 -15.2h0m0.1 5.5h0m0 13.3h0m0 -0.4h0m0.1 -13.8h0m0 1.4h0m0 -0.9h0m0 1.3h0m0 6.6h0m0 -12.6h0m0.1 13.3h0m0 3.9h0m0 -14.9h0m0 16.4h0m0 -6.8h0m0 6h0m0 -2.5h0m0 2.4h0m0.1 -5.2h0m0 3h0m0 -7.3h0m0 7.9h0m0 -5.8h0m0 7h0m0 -3.1h0m0.1 0.3h0m0 3.3h0m0 -12.4h0m0 12.8h0m0 -4.2h0m0.1 3.1h0m0 -20.6h0m0 10.3h0m0.1 5.1h0m0 5.2h0m0.1 -6.5h0m0 6.8h0m0 0.2h0m0 -3.7h0m0 -5.6h0m0 9.6h0m0 -9.5h0m0 4.2h0m0.1 4h0m0 -0.3h0m0 -10.1h0m0 10h0m0 -0.9h0m0.1 -11.1h0m0 14.1h0m0 -3.6h0m0 0.5h0m0 -15h0m0 11.9h0m0.1 -7.7h0m0 -2.3h0m0 6.1h0m0 5.9h0m0 -12.9h0m0 15.8h0m0 -10.7h0m0.1 -0.2h0m0 9.7h0m0 1.1h0m0 -19.2h0m0 15.9h0m0.1 3.7h0m0.1 -1.1h0m0 -12.7h0m0 1.5h0m0 13h0m0 -20h0m0 10.1h0m0.1 -2.2h0m0 7.5h0m0 -0.3h0m0 2.4h0m0 0.7h0m0.1 2h0m0 -13.2h0m0 0.8h0m0 -2.9h0m0 14h0m0 -2.7h0m0.1 3h0m0 -0.9h0m0 1.8h0m0 -13h0m0 12.4h0m0 -6.4h0m0.1 4.9h0m0 -10h0m0 9.7h0m0.1 2.3h0m0 -7.9h0m0 7.5h0m0.1 -7.9h0m0 -3.4h0m0 8.9h0m0.1 0.2h0m0 -3.8h0m0 -7.2h0m0 6.7h0m0 -10.1h0m0 16.9h0m0 -3.3h0m0.1 3.4h0m0 -6.4h0m0 6.1h0m0 -3.3h0m0.1 3.5h0m0 -15.7h0m0 15.7h0m0 -9.2h0m0.1 -3.7h0m0 0.3h0m0 12.6h0m0 0h0m0 -1.8h0m0.1 -2.2h0m0 1.8h0m0 -5.2h0m0 4.4h0m0.1 3h0m0 -3.2h0m0.1 0.5h0m0 -11.2h0m0 6.9h0m0 7h0m0 -2.3h0m0.1 -6.5h0m0 -2.6h0m0 10.8h0m0.1 -7.2h0m0 4.1h0m0.1 -1.8h0m0 5h0m0 -6.5h0m0.1 5.9h0m0 -12.7h0m0 13.4h0m0.1 -3.6h0m0 -9h0m0 -2.9h0m0.1 14.8h0m0 -5h0m0 1.6h0m0.1 -8.9h0m0 13.3h0m0 -12h0m0 7.2h0m0 -10.9h0m0.1 6.8h0m0 7.9h0m0 -16.5h0m0 3.3h0m0 12h0m0 -12.3h0m0.1 11.2h0m0 -16.9h0m0 -0.4h0m0.1 19.8h0m0 0h0m0.1 -8.4h0m0 6.3h0m0 -1.1h0m0 2.8h0m0.1 -5.4h0m0 0.6h0m0.1 3.3h0m0 -6.3h0m0.2 6.1h0m0 -2.3h0m0 0.9h0m0.2 -1.4h0m0.2 5.1h0m0.1 -4.5h0m0 -10.1h0m0 -0.5h0m0.1 11.6h0m0.1 2.4h0m0 1h0m0 0.6h0m0.1 -21.1h0m0 17.4h0m0 -9.8h0m0 9.3h0m0.2 -1.8h0m0.1 -7.6h0m0.1 9.8h0m0 -6.7h0m0.1 2.4h0m0.1 1.8h0m0 4.3h0m0 1.1h0m0 -1.5h0m0.1 -0.4h0m0 -1.2h0m0.1 -4.3h0m0 7.2h0m0.1 -8.9h0m0.1 8.2h0m0 -0.5h0m0.1 -7.1h0m0 8.4h0m0.1 -0.2h0m0.1 -10.1h0m0.1 8.3h0m0.2 0.1h0m0.2 -9.2h0m0.1 6h0m0.1 1.8h0m0.1 -6.6h0m0.1 -3.5h0m0 9.7h0m0.1 1.8h0m0.1 -0.8h0m0 -7.8h0m0 10h0m0.1 -4.4h0m0 -4.5h0m0.1 -4.1h0m0.1 10.3h0m0 -2.5h0m0.2 -1.3h0m0.2 6h0m0.2 -3.8h0m0.3 -0.7h0m0.2 -2.1h0m1 0.7h0m0 -8h0m0.3 6.7h0m0 6.2h0m0.6 -5.8h0m0.1 1.3h0m0.3 0.5h0m0 -1.9h0m0.3 7h0m0.2 -8h0m1.4 0.8h0m0 1.4h0m0.4 1.1h0m0.7 -3.2h0m0.4 5h0m0.1 3.5h0m0.2 -11h0m0.3 6.5h0m0.7 -0.5h0m1.8 -4.1h0m0.1 2.6h0m0.3 1.8h0m1.2 4h0m0.3 1h0m3.7 -1.3h0m1.4 -0.5h0" stroke="#bebebe" stroke-width="1.2" stroke-linecap="round" fill="none"/>
<line x1="595.5" y1="182.27" x2="595.5" y2="161.34" stroke="#fff" stroke-width="0.45" stroke-opacity="0.45"/>
<path d="M561.3 159.2h0m9.8 -7h0m5.6 3.7h0m2.8 3.6h0m0.7 -1.8h0m2.1 3.1h0m1.4 0.2h0m0.6 -8.8h0m0 6.4h0m0.7 -11.8h0m0.7 9.1h0m0.7 4.5h0m0.7 -17.3h0m0 11h0m0.7 3.6h0m0 3.6h0m0.7 -4.5h0m0 1.8h0m0.7 -5.4h0m0 2.7h0m0 4.5h0m0.7 -2.7h0m0 3.3h0m0.7 -25.1h0m0 14.5h0m0 4.6h0m0.7 -9.1h0m0 15.1h0m0.4 -2.9h0m0.3 -5.9h0m0 7.7h0m0.7 -9.5h0m0 6.4h0m0.4 -8.2h0m0.3 -21.8h0m0 5.4h0m0 10h0m0 11h0m0 1.8h0m0 4.5h0m0.4 -8.2h0m0 4.6h0m0.3 -36.4h0m0 34.6h0m0 6.9h0m0.4 -3.3h0" stroke="#1fb4c9" stroke-width="1.3" stroke-linecap="round" fill="none"/>
<path d="M596.9 152.2h0m0.3 8.8h0m0.4 -12.4h0m0 2.7h0m0 1.9h0m0 4.5h0m0 2.7h0m0.3 -10.9h0m0.4 -52.8h0m0 8.6h0m0 45.1h0m0 5.5h0m0.3 -7.3h0m0.4 0.9h0m0 2.7h0m0.7 8.6h0m1.4 -27.7h0m0.7 -0.9h0m0.7 -6.4h0m0 21h0m2.8 3.6h0m2 -30.9h0m0 38.2h0m7 -4.5h0m14.7 -0.6h0" stroke="#f4452f" stroke-width="1.3" stroke-linecap="round" fill="none"/>
<text x="0" y="259.9" font-size="16.3" font-weight="bold">E</text>
<text x="16.3" y="259.4" font-size="13.5" letter-spacing="-0.18">D1:Cre rats</text>
<line x1="15.7" y1="264.6" x2="281.2" y2="264.6" stroke="#000" stroke-width="1.25"/>
<line x1="15.7" y1="295.3" x2="281.2" y2="295.3" stroke="#000" stroke-width="1.25"/>
<line x1="15.7" y1="316.6" x2="281.2" y2="316.6" stroke="#000" stroke-width="1.25"/>
<line x1="15.7" y1="337.5" x2="281.2" y2="337.5" stroke="#000" stroke-width="1.25"/>
<line x1="15.7" y1="358.1" x2="281.2" y2="358.1" stroke="#000" stroke-width="1.25"/>
<line x1="16.3" y1="264.6" x2="16.3" y2="358.1" stroke="#000" stroke-width="1.25"/>
<line x1="131.3" y1="264.6" x2="131.3" y2="358.1" stroke="#000" stroke-width="1.25"/>
<line x1="201.2" y1="264.6" x2="201.2" y2="358.1" stroke="#000" stroke-width="1.25"/>
<line x1="280.6" y1="264.6" x2="280.6" y2="358.1" stroke="#000" stroke-width="1.25"/>
<text x="20.9" y="277.8" font-size="10.25">Comparison</text>
<text x="20.9" y="290.4" font-size="10.25">(p-adj.&lt;0.05)</text>
<text x="164.5" y="277.8" font-size="10.25" text-anchor="middle">Upregulated</text>
<text x="164.6" y="290.1" font-size="10.25" text-anchor="middle">genes</text>
<text x="239.8" y="277.8" font-size="10.25" text-anchor="middle">Downregulated</text>
<text x="240" y="290.1" font-size="10.25" text-anchor="middle">genes</text>
<text x="20.2" y="309.5" font-size="10.37">AD1 Coc v AD1 Sal</text>
<text x="164.6" y="309.5" font-size="10.37" text-anchor="middle">0</text>
<text x="240.3" y="309.5" font-size="10.37" text-anchor="middle">0</text>
<text x="20.2" y="331.4" font-size="10.37">AD40 Coc v AD1 Coc</text>
<text x="164.6" y="331.4" font-size="10.37" text-anchor="middle">216</text>
<text x="240.3" y="331.4" font-size="10.37" text-anchor="middle">305</text>
<text x="20.2" y="352.7" font-size="10.37">AD40 Coc v AD1 Sal</text>
<text x="164.6" y="352.7" font-size="10.37" text-anchor="middle">297</text>
<text x="240.3" y="352.7" font-size="10.37" text-anchor="middle">342</text>
<text x="16.3" y="379.4" font-size="13.5" letter-spacing="-0.18">A2a:Cre rats</text>
<line x1="15.7" y1="384.6" x2="281.2" y2="384.6" stroke="#000" stroke-width="1.25"/>
<line x1="15.7" y1="415.3" x2="281.2" y2="415.3" stroke="#000" stroke-width="1.25"/>
<line x1="15.7" y1="436.6" x2="281.2" y2="436.6" stroke="#000" stroke-width="1.25"/>
<line x1="15.7" y1="457.5" x2="281.2" y2="457.5" stroke="#000" stroke-width="1.25"/>
<line x1="15.7" y1="478.1" x2="281.2" y2="478.1" stroke="#000" stroke-width="1.25"/>
<line x1="16.3" y1="384.6" x2="16.3" y2="478.1" stroke="#000" stroke-width="1.25"/>
<line x1="131.3" y1="384.6" x2="131.3" y2="478.1" stroke="#000" stroke-width="1.25"/>
<line x1="201.2" y1="384.6" x2="201.2" y2="478.1" stroke="#000" stroke-width="1.25"/>
<line x1="280.6" y1="384.6" x2="280.6" y2="478.1" stroke="#000" stroke-width="1.25"/>
<text x="21.9" y="397.8" font-size="10.25">Comparison</text>
<text x="20.9" y="410.4" font-size="10.25">(p-adj.&lt;0.05)</text>
<text x="164.5" y="397.8" font-size="10.25" text-anchor="middle">Upregulated</text>
<text x="165.6" y="410.1" font-size="10.25" text-anchor="middle">genes</text>
<text x="239.8" y="397.8" font-size="10.25" text-anchor="middle">Downregulated</text>
<text x="241.2" y="410.1" font-size="10.25" text-anchor="middle">genes</text>
<text x="20.2" y="429.5" font-size="10.37">AD1 Coc v AD1 Sal</text>
<text x="165.6" y="429.5" font-size="10.37" text-anchor="middle">2</text>
<text x="241.5" y="429.5" font-size="10.37" text-anchor="middle">0</text>
<text x="20.2" y="451.4" font-size="10.37">AD40 Coc v AD1 Coc</text>
<text x="165.6" y="451.4" font-size="10.37" text-anchor="middle">25</text>
<text x="241.5" y="451.4" font-size="10.37" text-anchor="middle">46</text>
<text x="20.2" y="472.7" font-size="10.37">AD40 Coc v AD1 Sal</text>
<text x="165.6" y="472.7" font-size="10.37" text-anchor="middle">3</text>
<text x="241.5" y="472.7" font-size="10.37" text-anchor="middle">1</text>
<text x="305.8" y="261.3" font-size="16.3" font-weight="bold">F</text>
<text x="406" y="258.7" font-size="13.9" text-anchor="middle">D1 AD40 Coc v AD1 Coc</text>
<text x="588.3" y="258.7" font-size="13.9" text-anchor="middle">A2a AD40 Coc v AD1 Coc</text>
<rect x="322.5" y="264.8" width="163.4" height="0.8" fill="#edb4a6"/>
<rect x="322.5" y="265.4" width="163.4" height="0.8" fill="#ea9c8d"/>
<rect x="322.5" y="266" width="163.4" height="0.8" fill="#eeb5a7"/>
<rect x="322.5" y="266.6" width="163.4" height="0.8" fill="#eba495"/>
<rect x="322.5" y="267.2" width="163.4" height="0.8" fill="#edb5a7"/>
<rect x="322.5" y="267.8" width="163.4" height="0.8" fill="#eeb9ab"/>
<rect x="322.5" y="268.4" width="163.4" height="0.8" fill="#e58678"/>
<rect x="322.5" y="269" width="163.4" height="0.8" fill="#d7655b"/>
<rect x="322.5" y="269.6" width="163.4" height="0.8" fill="#dc6b5f"/>
<rect x="322.5" y="270.2" width="163.4" height="0.8" fill="#e99a8b"/>
<rect x="322.5" y="270.8" width="163.4" height="0.8" fill="#ea9c8d"/>
<rect x="322.5" y="271.4" width="163.4" height="0.8" fill="#ea9b8c"/>
<rect x="322.5" y="272" width="163.4" height="0.8" fill="#de6f62"/>
<rect x="322.5" y="272.6" width="163.4" height="0.8" fill="#e79081"/>
<rect x="322.5" y="273.2" width="163.4" height="0.8" fill="#edbaad"/>
<rect x="322.5" y="273.81" width="163.4" height="0.8" fill="#e99889"/>
<rect x="322.5" y="274.41" width="163.4" height="0.8" fill="#eeb7a9"/>
<rect x="322.5" y="275.01" width="163.4" height="0.8" fill="#eba395"/>
<rect x="322.5" y="275.61" width="163.4" height="0.8" fill="#d9675c"/>
<rect x="322.5" y="276.21" width="163.4" height="0.8" fill="#e89384"/>
<rect x="322.5" y="276.81" width="163.4" height="0.8" fill="#eaa193"/>
<rect x="322.5" y="277.41" width="163.4" height="0.8" fill="#e89384"/>
<rect x="322.5" y="278.01" width="163.4" height="0.8" fill="#e99a8b"/>
<rect x="322.5" y="278.61" width="163.4" height="0.8" fill="#edafa0"/>
<rect x="322.5" y="279.21" width="163.4" height="0.8" fill="#d35f57"/>
<rect x="322.5" y="279.81" width="163.4" height="0.8" fill="#eaa091"/>
<rect x="322.5" y="280.41" width="163.4" height="0.8" fill="#e68b7c"/>
<rect x="322.5" y="281.01" width="163.4" height="0.8" fill="#eba495"/>
<rect x="322.5" y="281.61" width="163.4" height="0.8" fill="#e58476"/>
<rect x="322.5" y="282.21" width="163.4" height="0.8" fill="#e68a7c"/>
<rect x="322.5" y="282.81" width="163.4" height="0.8" fill="#e6887a"/>
<rect x="322.5" y="283.41" width="163.4" height="0.8" fill="#e78e7f"/>
<rect x="322.5" y="284.01" width="163.4" height="0.8" fill="#e78d7e"/>
<rect x="322.5" y="284.61" width="163.4" height="0.8" fill="#e78d7e"/>
<rect x="322.5" y="285.21" width="163.4" height="0.8" fill="#e89384"/>
<rect x="322.5" y="285.81" width="163.4" height="0.8" fill="#eba294"/>
<rect x="322.5" y="286.41" width="163.4" height="0.8" fill="#e78f80"/>
<rect x="322.5" y="287.01" width="163.4" height="0.8" fill="#e27769"/>
<rect x="322.5" y="287.61" width="163.4" height="0.8" fill="#e48173"/>
<rect x="322.5" y="288.21" width="163.4" height="0.8" fill="#e58476"/>
<rect x="322.5" y="288.81" width="163.4" height="0.8" fill="#e07063"/>
<rect x="322.5" y="289.41" width="163.4" height="0.8" fill="#e89586"/>
<rect x="322.5" y="290.01" width="163.4" height="0.8" fill="#e79082"/>
<rect x="322.5" y="290.62" width="163.4" height="0.8" fill="#e48072"/>
<rect x="322.5" y="291.22" width="163.4" height="0.8" fill="#d9685d"/>
<rect x="322.5" y="291.82" width="163.4" height="0.8" fill="#dc6b5f"/>
<rect x="322.5" y="292.42" width="163.4" height="0.8" fill="#e68879"/>
<rect x="322.5" y="293.02" width="163.4" height="0.8" fill="#eaa193"/>
<rect x="322.5" y="293.62" width="163.4" height="0.8" fill="#e47f71"/>
<rect x="322.5" y="294.22" width="163.4" height="0.8" fill="#e48071"/>
<rect x="322.5" y="294.82" width="163.4" height="0.8" fill="#ea9d8e"/>
<rect x="322.5" y="295.42" width="163.4" height="0.8" fill="#e58375"/>
<rect x="322.5" y="296.02" width="163.4" height="0.8" fill="#edafa0"/>
<rect x="322.5" y="296.62" width="163.4" height="0.8" fill="#eba799"/>
<rect x="322.5" y="297.22" width="163.4" height="0.8" fill="#e27567"/>
<rect x="322.5" y="297.82" width="163.4" height="0.8" fill="#ea9e8f"/>
<rect x="322.5" y="298.42" width="163.4" height="0.8" fill="#e89586"/>
<rect x="322.5" y="299.02" width="163.4" height="0.8" fill="#edbaac"/>
<rect x="322.5" y="299.62" width="163.4" height="0.8" fill="#e58475"/>
<rect x="322.5" y="300.22" width="163.4" height="0.8" fill="#ea9e8f"/>
<rect x="322.5" y="300.82" width="163.4" height="0.8" fill="#d9675d"/>
<rect x="322.5" y="301.42" width="163.4" height="0.8" fill="#e27769"/>
<rect x="322.5" y="302.02" width="163.4" height="0.8" fill="#e68b7c"/>
<rect x="322.5" y="302.62" width="163.4" height="0.8" fill="#dc6c60"/>
<rect x="322.5" y="303.22" width="163.4" height="0.8" fill="#e27668"/>
<rect x="322.5" y="303.82" width="163.4" height="0.8" fill="#de6e61"/>
<rect x="322.5" y="304.42" width="163.4" height="0.8" fill="#eca89a"/>
<rect x="322.5" y="305.02" width="163.4" height="0.8" fill="#eaa091"/>
<rect x="322.5" y="305.62" width="163.4" height="0.8" fill="#d6645a"/>
<rect x="322.5" y="306.22" width="163.4" height="0.8" fill="#e89183"/>
<rect x="322.5" y="306.82" width="163.4" height="0.8" fill="#e89485"/>
<rect x="322.5" y="307.43" width="163.4" height="0.8" fill="#e68b7c"/>
<rect x="322.5" y="308.03" width="163.4" height="0.8" fill="#e89586"/>
<rect x="322.5" y="308.63" width="163.4" height="0.8" fill="#e89283"/>
<rect x="322.5" y="309.23" width="163.4" height="0.8" fill="#e07063"/>
<rect x="322.5" y="309.83" width="163.4" height="0.8" fill="#e6897a"/>
<rect x="322.5" y="310.43" width="163.4" height="0.8" fill="#d7655b"/>
<rect x="322.5" y="311.03" width="163.4" height="0.8" fill="#e58577"/>
<rect x="322.5" y="311.63" width="163.4" height="0.8" fill="#de6f62"/>
<rect x="322.5" y="312.23" width="163.4" height="0.8" fill="#eeb9ab"/>
<rect x="322.5" y="312.83" width="163.4" height="0.8" fill="#edb1a3"/>
<rect x="322.5" y="313.43" width="163.4" height="0.8" fill="#e78f80"/>
<rect x="322.5" y="314.03" width="163.4" height="0.8" fill="#e17365"/>
<rect x="322.5" y="314.63" width="163.4" height="0.8" fill="#e2796b"/>
<rect x="322.5" y="315.23" width="163.4" height="0.8" fill="#e6887a"/>
<rect x="322.5" y="315.83" width="163.4" height="0.8" fill="#eba698"/>
<rect x="322.5" y="316.43" width="163.4" height="0.8" fill="#eaa192"/>
<rect x="322.5" y="317.03" width="163.4" height="0.8" fill="#e27668"/>
<rect x="322.5" y="317.63" width="163.4" height="0.8" fill="#eba495"/>
<rect x="322.5" y="318.23" width="163.4" height="0.8" fill="#e47e70"/>
<rect x="322.5" y="318.83" width="163.4" height="0.8" fill="#e99788"/>
<rect x="322.5" y="319.43" width="163.4" height="0.8" fill="#ea9b8c"/>
<rect x="322.5" y="320.03" width="163.4" height="0.8" fill="#e27567"/>
<rect x="322.5" y="320.63" width="163.4" height="0.8" fill="#e3796b"/>
<rect x="322.5" y="321.23" width="163.4" height="0.8" fill="#e68b7d"/>
<rect x="322.5" y="321.83" width="163.4" height="0.8" fill="#ea9f91"/>
<rect x="322.5" y="322.43" width="163.4" height="0.8" fill="#edb1a3"/>
<rect x="322.5" y="323.03" width="163.4" height="0.8" fill="#e58779"/>
<rect x="322.5" y="323.63" width="163.4" height="0.8" fill="#e17164"/>
<rect x="322.5" y="324.24" width="163.4" height="0.8" fill="#e58375"/>
<rect x="322.5" y="324.84" width="163.4" height="0.8" fill="#e89485"/>
<rect x="322.5" y="325.44" width="163.4" height="0.8" fill="#eba596"/>
<rect x="322.5" y="326.04" width="163.4" height="0.8" fill="#e89485"/>
<rect x="322.5" y="326.64" width="163.4" height="0.8" fill="#e78d7f"/>
<rect x="322.5" y="327.24" width="163.4" height="0.8" fill="#e68c7d"/>
<rect x="322.5" y="327.84" width="163.4" height="0.8" fill="#e58375"/>
<rect x="322.5" y="328.44" width="163.4" height="0.8" fill="#edb2a4"/>
<rect x="322.5" y="329.04" width="163.4" height="0.8" fill="#e6897a"/>
<rect x="322.5" y="329.64" width="163.4" height="0.8" fill="#e6897a"/>
<rect x="322.5" y="330.24" width="163.4" height="0.8" fill="#e37b6d"/>
<rect x="322.5" y="330.84" width="163.4" height="0.8" fill="#e47f70"/>
<rect x="322.5" y="331.44" width="163.4" height="0.8" fill="#ea9c8d"/>
<rect x="322.5" y="332.04" width="163.4" height="0.8" fill="#e58576"/>
<rect x="322.5" y="332.64" width="163.4" height="0.8" fill="#e47e70"/>
<rect x="322.5" y="333.24" width="163.4" height="0.8" fill="#e99b8c"/>
<rect x="322.5" y="333.84" width="163.4" height="0.8" fill="#ecbdb1"/>
<rect x="322.5" y="334.44" width="163.4" height="0.8" fill="#ecab9c"/>
<rect x="322.5" y="335.04" width="163.4" height="0.8" fill="#e89586"/>
<rect x="322.5" y="335.64" width="163.4" height="0.8" fill="#eba495"/>
<rect x="322.5" y="336.24" width="163.4" height="0.8" fill="#eba799"/>
<rect x="322.5" y="336.84" width="163.4" height="0.8" fill="#e58375"/>
<rect x="322.5" y="337.44" width="163.4" height="0.8" fill="#dd6c60"/>
<rect x="322.5" y="338.04" width="163.4" height="0.8" fill="#e89283"/>
<rect x="322.5" y="338.64" width="163.4" height="0.8" fill="#e99a8b"/>
<rect x="322.5" y="339.24" width="163.4" height="0.8" fill="#e27769"/>
<rect x="322.5" y="339.84" width="163.4" height="0.8" fill="#e2786a"/>
<rect x="322.5" y="340.44" width="163.4" height="0.8" fill="#e99687"/>
<rect x="322.5" y="341.05" width="163.4" height="0.8" fill="#e99687"/>
<rect x="322.5" y="341.65" width="163.4" height="0.8" fill="#e89485"/>
<rect x="322.5" y="342.25" width="163.4" height="0.8" fill="#e89384"/>
<rect x="322.5" y="342.85" width="163.4" height="0.8" fill="#eca99a"/>
<rect x="322.5" y="343.45" width="163.4" height="0.8" fill="#edaea0"/>
<rect x="322.5" y="344.05" width="163.4" height="0.8" fill="#eba293"/>
<rect x="322.5" y="344.65" width="163.4" height="0.8" fill="#eba597"/>
<rect x="322.5" y="345.25" width="163.4" height="0.8" fill="#e58576"/>
<rect x="322.5" y="345.85" width="163.4" height="0.8" fill="#e89485"/>
<rect x="322.5" y="346.45" width="163.4" height="0.8" fill="#e99b8c"/>
<rect x="322.5" y="347.05" width="163.4" height="0.8" fill="#e58779"/>
<rect x="322.5" y="347.65" width="163.4" height="0.8" fill="#ecac9e"/>
<rect x="322.5" y="348.25" width="163.4" height="0.8" fill="#edb1a3"/>
<rect x="322.5" y="348.85" width="163.4" height="0.8" fill="#e99889"/>
<rect x="322.5" y="349.45" width="163.4" height="0.8" fill="#ea9e8f"/>
<rect x="322.5" y="350.05" width="163.4" height="0.8" fill="#e68c7d"/>
<rect x="322.5" y="350.65" width="163.4" height="0.8" fill="#e58779"/>
<rect x="322.5" y="351.25" width="163.4" height="0.8" fill="#eba799"/>
<rect x="322.5" y="351.85" width="163.4" height="0.8" fill="#e68b7d"/>
<rect x="322.5" y="352.45" width="163.4" height="0.8" fill="#e48274"/>
<rect x="322.5" y="353.05" width="163.4" height="0.8" fill="#ea9d8e"/>
<rect x="322.5" y="353.65" width="163.4" height="0.8" fill="#eaa192"/>
<rect x="322.5" y="354.25" width="163.4" height="0.8" fill="#edbbae"/>
<rect x="322.5" y="354.85" width="163.4" height="0.8" fill="#e9998a"/>
<rect x="322.5" y="355.45" width="163.4" height="0.8" fill="#e07163"/>
<rect x="322.5" y="356.05" width="163.4" height="0.8" fill="#edb2a4"/>
<rect x="322.5" y="356.65" width="163.4" height="0.8" fill="#eba799"/>
<rect x="322.5" y="357.25" width="163.4" height="0.8" fill="#e89384"/>
<rect x="322.5" y="357.85" width="163.4" height="0.8" fill="#eba798"/>
<rect x="322.5" y="358.46" width="163.4" height="0.8" fill="#edbaad"/>
<rect x="322.5" y="359.06" width="163.4" height="0.8" fill="#e48273"/>
<rect x="322.5" y="359.66" width="163.4" height="0.8" fill="#ea9d8e"/>
<rect x="322.5" y="360.26" width="163.4" height="0.8" fill="#eba294"/>
<rect x="322.5" y="360.86" width="163.4" height="0.8" fill="#ecad9f"/>
<rect x="322.5" y="361.46" width="163.4" height="0.8" fill="#e48274"/>
<rect x="322.5" y="362.06" width="163.4" height="0.8" fill="#edb4a6"/>
<rect x="322.5" y="362.66" width="163.4" height="0.8" fill="#eba496"/>
<rect x="322.5" y="363.26" width="163.4" height="0.8" fill="#e6897a"/>
<rect x="322.5" y="363.86" width="163.4" height="0.8" fill="#eaa092"/>
<rect x="322.5" y="364.46" width="163.4" height="0.8" fill="#e99a8b"/>
<rect x="322.5" y="365.06" width="163.4" height="0.8" fill="#e58576"/>
<rect x="322.5" y="365.66" width="163.4" height="0.8" fill="#eba798"/>
<rect x="322.5" y="366.26" width="163.4" height="0.8" fill="#edb0a2"/>
<rect x="322.5" y="366.86" width="163.4" height="0.8" fill="#eba899"/>
<rect x="322.5" y="367.46" width="163.4" height="0.8" fill="#e78f80"/>
<rect x="322.5" y="368.06" width="163.4" height="0.8" fill="#e89283"/>
<rect x="322.5" y="368.66" width="163.4" height="0.8" fill="#e27668"/>
<rect x="322.5" y="369.26" width="163.4" height="0.8" fill="#eba293"/>
<rect x="322.5" y="369.86" width="163.4" height="0.8" fill="#eba496"/>
<rect x="322.5" y="370.46" width="163.4" height="0.8" fill="#eba394"/>
<rect x="322.5" y="371.06" width="163.4" height="0.8" fill="#eba294"/>
<rect x="322.5" y="371.66" width="163.4" height="0.8" fill="#eeb9ab"/>
<rect x="322.5" y="372.26" width="163.4" height="0.8" fill="#e79182"/>
<rect x="322.5" y="372.86" width="163.4" height="0.8" fill="#ea9f90"/>
<rect x="322.5" y="373.46" width="163.4" height="0.8" fill="#eba597"/>
<rect x="322.5" y="374.06" width="163.4" height="0.8" fill="#e27567"/>
<rect x="322.5" y="374.66" width="163.4" height="0.8" fill="#eba394"/>
<rect x="322.5" y="375.27" width="163.4" height="0.8" fill="#e89384"/>
<rect x="322.5" y="375.87" width="163.4" height="0.8" fill="#e78f80"/>
<rect x="322.5" y="376.47" width="163.4" height="0.8" fill="#ecac9e"/>
<rect x="322.5" y="377.07" width="163.4" height="0.8" fill="#eaa092"/>
<rect x="322.5" y="377.67" width="163.4" height="0.8" fill="#e99889"/>
<rect x="322.5" y="378.27" width="163.4" height="0.8" fill="#e27769"/>
<rect x="322.5" y="378.87" width="163.4" height="0.8" fill="#ea9d8e"/>
<rect x="322.5" y="379.47" width="163.4" height="0.8" fill="#e89385"/>
<rect x="322.5" y="380.07" width="163.4" height="0.8" fill="#ecad9f"/>
<rect x="322.5" y="380.67" width="163.4" height="0.8" fill="#e78f80"/>
<rect x="322.5" y="381.27" width="163.4" height="0.8" fill="#e78d7e"/>
<rect x="322.5" y="381.87" width="163.4" height="0.8" fill="#e78d7f"/>
<rect x="322.5" y="382.47" width="163.4" height="0.8" fill="#edb0a2"/>
<rect x="322.5" y="383.07" width="163.4" height="0.8" fill="#eba899"/>
<rect x="322.5" y="383.67" width="163.4" height="0.8" fill="#ecad9f"/>
<rect x="322.5" y="384.27" width="163.4" height="0.8" fill="#eba697"/>
<rect x="322.5" y="384.87" width="163.4" height="0.8" fill="#edb1a2"/>
<rect x="322.5" y="385.47" width="163.4" height="0.8" fill="#eeb5a7"/>
<rect x="322.5" y="386.07" width="163.4" height="0.8" fill="#ea9e8f"/>
<rect x="322.5" y="386.67" width="163.4" height="0.8" fill="#ecac9d"/>
<rect x="322.5" y="387.27" width="163.4" height="0.8" fill="#e9998a"/>
<rect x="322.5" y="387.87" width="163.4" height="0.8" fill="#ecab9c"/>
<rect x="322.5" y="388.47" width="163.4" height="0.8" fill="#e99a8b"/>
<rect x="322.5" y="389.07" width="163.4" height="0.8" fill="#d9675c"/>
<rect x="322.5" y="389.67" width="163.4" height="0.8" fill="#e99788"/>
<rect x="322.5" y="390.27" width="163.4" height="0.8" fill="#e58576"/>
<rect x="322.5" y="390.87" width="163.4" height="0.8" fill="#e99889"/>
<rect x="322.5" y="391.47" width="163.4" height="0.8" fill="#eeb5a7"/>
<rect x="322.5" y="392.08" width="163.4" height="0.8" fill="#e99b8c"/>
<rect x="322.5" y="392.68" width="163.4" height="0.8" fill="#ea9f90"/>
<rect x="322.5" y="393.28" width="163.4" height="0.8" fill="#eeb8aa"/>
<rect x="322.5" y="393.88" width="163.4" height="0.8" fill="#e8cac2"/>
<rect x="322.5" y="394.48" width="163.4" height="0.8" fill="#e8cac2"/>
<rect x="322.5" y="395.08" width="163.4" height="0.8" fill="#edb5a6"/>
<rect x="322.5" y="395.68" width="163.4" height="0.8" fill="#ecac9e"/>
<rect x="322.5" y="396.28" width="163.4" height="0.8" fill="#e37c6e"/>
<rect x="322.5" y="396.88" width="163.4" height="0.8" fill="#ecbfb3"/>
<rect x="322.5" y="397.48" width="163.4" height="0.8" fill="#eeb9ab"/>
<rect x="322.5" y="398.08" width="163.4" height="0.8" fill="#ecad9f"/>
<rect x="322.5" y="398.68" width="163.4" height="0.8" fill="#eba596"/>
<rect x="322.5" y="399.28" width="163.4" height="0.8" fill="#eba899"/>
<rect x="322.5" y="399.88" width="163.4" height="0.8" fill="#edb3a5"/>
<rect x="322.5" y="400.48" width="163.4" height="0.8" fill="#e8cac2"/>
<rect x="322.5" y="401.08" width="163.4" height="0.8" fill="#edb3a5"/>
<rect x="322.5" y="401.68" width="163.4" height="0.8" fill="#eac4ba"/>
<rect x="322.5" y="402.28" width="163.4" height="0.8" fill="#e99687"/>
<rect x="322.5" y="402.88" width="163.4" height="0.8" fill="#ebc1b6"/>
<rect x="322.5" y="403.48" width="163.4" height="0.8" fill="#e6d0ca"/>
<rect x="322.5" y="404.08" width="163.4" height="0.8" fill="#ebc1b6"/>
<rect x="322.5" y="404.68" width="163.4" height="0.8" fill="#e8cac2"/>
<rect x="322.5" y="405.28" width="163.4" height="0.8" fill="#ebc2b7"/>
<rect x="322.5" y="405.88" width="163.4" height="0.8" fill="#ecbfb4"/>
<rect x="322.5" y="406.48" width="163.4" height="0.8" fill="#e9c7bd"/>
<rect x="322.5" y="407.08" width="163.4" height="0.8" fill="#e6d0ca"/>
<rect x="322.5" y="407.68" width="163.4" height="0.8" fill="#e6d0ca"/>
<rect x="322.5" y="408.28" width="163.4" height="0.8" fill="#e6cfc9"/>
<rect x="322.5" y="408.89" width="163.4" height="0.8" fill="#e9c7bd"/>
<rect x="322.5" y="409.49" width="163.4" height="0.8" fill="#eaa192"/>
<rect x="322.5" y="410.09" width="163.4" height="0.8" fill="#eeb8aa"/>
<rect x="322.5" y="410.69" width="163.4" height="0.8" fill="#e7cdc6"/>
<rect x="322.5" y="411.29" width="163.4" height="0.8" fill="#e7ccc5"/>
<rect x="322.5" y="411.89" width="163.4" height="0.8" fill="#e6d0ca"/>
<rect x="322.5" y="412.49" width="163.4" height="0.8" fill="#e9c8bf"/>
<rect x="322.5" y="413.09" width="163.4" height="0.8" fill="#e8c9c0"/>
<rect x="322.5" y="413.69" width="163.4" height="0.8" fill="#eeb7a9"/>
<rect x="322.5" y="414.29" width="163.4" height="0.8" fill="#ebc0b4"/>
<rect x="322.5" y="414.89" width="163.4" height="0.8" fill="#ecbeb3"/>
<rect x="322.5" y="415.49" width="163.4" height="0.8" fill="#ea9b8c"/>
<rect x="322.5" y="416.09" width="163.4" height="0.8" fill="#eac5bc"/>
<rect x="322.5" y="416.69" width="163.4" height="0.8" fill="#e6d0ca"/>
<rect x="322.5" y="417.29" width="163.4" height="0.8" fill="#edb1a3"/>
<rect x="322.5" y="417.89" width="163.4" height="0.8" fill="#ecbfb4"/>
<rect x="322.5" y="418.49" width="163.4" height="0.8" fill="#ecbfb4"/>
<rect x="322.5" y="419.09" width="163.4" height="0.8" fill="#ebc2b8"/>
<rect x="322.5" y="419.69" width="163.4" height="0.8" fill="#eac3b9"/>
<rect x="322.5" y="420.29" width="163.4" height="0.8" fill="#edb4a6"/>
<rect x="322.5" y="420.89" width="163.4" height="0.8" fill="#eac3b8"/>
<rect x="322.5" y="421.49" width="163.4" height="0.8" fill="#edbcaf"/>
<rect x="322.5" y="422.09" width="163.4" height="0.8" fill="#e7ccc5"/>
<rect x="322.5" y="422.69" width="163.4" height="0.8" fill="#eac4ba"/>
<rect x="322.5" y="423.29" width="163.4" height="0.8" fill="#eba596"/>
<rect x="322.5" y="423.89" width="163.4" height="0.8" fill="#eeb6a8"/>
<rect x="322.5" y="424.49" width="163.4" height="0.8" fill="#eca99a"/>
<rect x="322.5" y="425.09" width="163.4" height="0.8" fill="#e9c6bd"/>
<rect x="322.5" y="425.7" width="163.4" height="0.8" fill="#ecad9f"/>
<rect x="322.5" y="426.3" width="163.4" height="0.8" fill="#eaa091"/>
<rect x="322.5" y="426.9" width="163.4" height="0.8" fill="#edb1a2"/>
<rect x="322.5" y="427.5" width="163.4" height="0.8" fill="#edb3a5"/>
<rect x="322.5" y="428.1" width="163.4" height="0.8" fill="#eac3b8"/>
<rect x="322.5" y="428.7" width="163.4" height="0.8" fill="#eeb7a8"/>
<rect x="322.5" y="429.3" width="163.4" height="0.8" fill="#edbbae"/>
<rect x="322.5" y="429.9" width="163.4" height="0.8" fill="#ebc0b4"/>
<rect x="322.5" y="430.5" width="163.4" height="0.8" fill="#edb2a3"/>
<rect x="322.5" y="431.1" width="163.4" height="0.8" fill="#e48072"/>
<rect x="322.5" y="431.7" width="163.4" height="0.8" fill="#e99b8c"/>
<rect x="322.5" y="432.3" width="163.4" height="0.8" fill="#e78e7f"/>
<rect x="322.5" y="432.9" width="163.4" height="0.8" fill="#eba597"/>
<rect x="322.5" y="433.5" width="163.4" height="0.8" fill="#edafa0"/>
<rect x="504" y="264.8" width="163.5" height="0.8" fill="#f6cdc0"/>
<rect x="504" y="265.4" width="163.5" height="0.8" fill="#f5c0b2"/>
<rect x="504" y="266" width="163.5" height="0.8" fill="#f3b7a7"/>
<rect x="504" y="266.6" width="163.5" height="0.8" fill="#f5bdae"/>
<rect x="504" y="267.2" width="163.5" height="0.8" fill="#f6c4b5"/>
<rect x="504" y="267.8" width="163.5" height="0.8" fill="#f7ccbf"/>
<rect x="504" y="268.4" width="163.5" height="0.8" fill="#f4bcad"/>
<rect x="504" y="269" width="163.5" height="0.8" fill="#f3b7a7"/>
<rect x="504" y="269.6" width="163.5" height="0.8" fill="#f0ab9c"/>
<rect x="504" y="270.2" width="163.5" height="0.8" fill="#f3b5a5"/>
<rect x="504" y="270.8" width="163.5" height="0.8" fill="#f5c3b4"/>
<rect x="504" y="271.4" width="163.5" height="0.8" fill="#ec9d90"/>
<rect x="504" y="272" width="163.5" height="0.8" fill="#efa799"/>
<rect x="504" y="272.6" width="163.5" height="0.8" fill="#f3b3a3"/>
<rect x="504" y="273.2" width="163.5" height="0.8" fill="#eda194"/>
<rect x="504" y="273.81" width="163.5" height="0.8" fill="#f4bcad"/>
<rect x="504" y="274.41" width="163.5" height="0.8" fill="#f4b9a9"/>
<rect x="504" y="275.01" width="163.5" height="0.8" fill="#f4b7a8"/>
<rect x="504" y="275.61" width="163.5" height="0.8" fill="#f5bfaf"/>
<rect x="504" y="276.21" width="163.5" height="0.8" fill="#f5c2b3"/>
<rect x="504" y="276.81" width="163.5" height="0.8" fill="#f6c8b9"/>
<rect x="504" y="277.41" width="163.5" height="0.8" fill="#f4bbab"/>
<rect x="504" y="278.01" width="163.5" height="0.8" fill="#f5c0b1"/>
<rect x="504" y="278.61" width="163.5" height="0.8" fill="#f5bdae"/>
<rect x="504" y="279.21" width="163.5" height="0.8" fill="#f2afa0"/>
<rect x="504" y="279.81" width="163.5" height="0.8" fill="#f5beaf"/>
<rect x="504" y="280.41" width="163.5" height="0.8" fill="#f6c4b5"/>
<rect x="504" y="281.01" width="163.5" height="0.8" fill="#f7cdbf"/>
<rect x="504" y="281.61" width="163.5" height="0.8" fill="#f7c9bb"/>
<rect x="504" y="282.21" width="163.5" height="0.8" fill="#f4b8a8"/>
<rect x="504" y="282.81" width="163.5" height="0.8" fill="#f0a99a"/>
<rect x="504" y="283.41" width="163.5" height="0.8" fill="#f4b7a8"/>
<rect x="504" y="284.01" width="163.5" height="0.8" fill="#f4bbac"/>
<rect x="504" y="284.61" width="163.5" height="0.8" fill="#f3b3a3"/>
<rect x="504" y="285.21" width="163.5" height="0.8" fill="#f2b2a2"/>
<rect x="504" y="285.81" width="163.5" height="0.8" fill="#f3b4a4"/>
<rect x="504" y="286.41" width="163.5" height="0.8" fill="#f3b4a5"/>
<rect x="504" y="287.01" width="163.5" height="0.8" fill="#f4baab"/>
<rect x="504" y="287.61" width="163.5" height="0.8" fill="#f3b3a3"/>
<rect x="504" y="288.21" width="163.5" height="0.8" fill="#f4b8a9"/>
<rect x="504" y="288.81" width="163.5" height="0.8" fill="#f4d1c5"/>
<rect x="504" y="289.41" width="163.5" height="0.8" fill="#f5bfb0"/>
<rect x="504" y="290.01" width="163.5" height="0.8" fill="#f3b3a3"/>
<rect x="504" y="290.62" width="163.5" height="0.8" fill="#efa597"/>
<rect x="504" y="291.22" width="163.5" height="0.8" fill="#eda093"/>
<rect x="504" y="291.82" width="163.5" height="0.8" fill="#f5cfc3"/>
<rect x="504" y="292.42" width="163.5" height="0.8" fill="#f5c1b2"/>
<rect x="504" y="293.02" width="163.5" height="0.8" fill="#f2b1a1"/>
<rect x="504" y="293.62" width="163.5" height="0.8" fill="#f2b2a2"/>
<rect x="504" y="294.22" width="163.5" height="0.8" fill="#f4b8a8"/>
<rect x="504" y="294.82" width="163.5" height="0.8" fill="#f5beaf"/>
<rect x="504" y="295.42" width="163.5" height="0.8" fill="#f5beae"/>
<rect x="504" y="296.02" width="163.5" height="0.8" fill="#f3b6a7"/>
<rect x="504" y="296.62" width="163.5" height="0.8" fill="#f6c8ba"/>
<rect x="504" y="297.22" width="163.5" height="0.8" fill="#f7ccbf"/>
<rect x="504" y="297.82" width="163.5" height="0.8" fill="#f5beaf"/>
<rect x="504" y="298.42" width="163.5" height="0.8" fill="#f4b9a9"/>
<rect x="504" y="299.02" width="163.5" height="0.8" fill="#f5c0b1"/>
<rect x="504" y="299.62" width="163.5" height="0.8" fill="#f5c2b3"/>
<rect x="504" y="300.22" width="163.5" height="0.8" fill="#eea396"/>
<rect x="504" y="300.82" width="163.5" height="0.8" fill="#f4baab"/>
<rect x="504" y="301.42" width="163.5" height="0.8" fill="#f5c3b4"/>
<rect x="504" y="302.02" width="163.5" height="0.8" fill="#f6c4b5"/>
<rect x="504" y="302.62" width="163.5" height="0.8" fill="#f7ccbe"/>
<rect x="504" y="303.22" width="163.5" height="0.8" fill="#f6c6b8"/>
<rect x="504" y="303.82" width="163.5" height="0.8" fill="#f4bbac"/>
<rect x="504" y="304.42" width="163.5" height="0.8" fill="#f7c9bb"/>
<rect x="504" y="305.02" width="163.5" height="0.8" fill="#f6c4b5"/>
<rect x="504" y="305.62" width="163.5" height="0.8" fill="#f5bdae"/>
<rect x="504" y="306.22" width="163.5" height="0.8" fill="#f6c7b8"/>
<rect x="504" y="306.82" width="163.5" height="0.8" fill="#f4bbac"/>
<rect x="504" y="307.43" width="163.5" height="0.8" fill="#f6c9ba"/>
<rect x="504" y="308.03" width="163.5" height="0.8" fill="#efa899"/>
<rect x="504" y="308.63" width="163.5" height="0.8" fill="#f7cabb"/>
<rect x="504" y="309.23" width="163.5" height="0.8" fill="#f2b0a0"/>
<rect x="504" y="309.83" width="163.5" height="0.8" fill="#f6c4b5"/>
<rect x="504" y="310.43" width="163.5" height="0.8" fill="#f6cdc0"/>
<rect x="504" y="311.03" width="163.5" height="0.8" fill="#f6c3b5"/>
<rect x="504" y="311.63" width="163.5" height="0.8" fill="#f5c3b4"/>
<rect x="504" y="312.23" width="163.5" height="0.8" fill="#f3b7a7"/>
<rect x="504" y="312.83" width="163.5" height="0.8" fill="#f6c8ba"/>
<rect x="504" y="313.43" width="163.5" height="0.8" fill="#f5c2b3"/>
<rect x="504" y="314.03" width="163.5" height="0.8" fill="#f5c0b1"/>
<rect x="504" y="314.63" width="163.5" height="0.8" fill="#f6c6b7"/>
<rect x="504" y="315.23" width="163.5" height="0.8" fill="#f6c4b6"/>
<rect x="504" y="315.83" width="163.5" height="0.8" fill="#f2afa0"/>
<rect x="504" y="316.43" width="163.5" height="0.8" fill="#f5bfb0"/>
<rect x="504" y="317.03" width="163.5" height="0.8" fill="#f1ad9e"/>
<rect x="504" y="317.63" width="163.5" height="0.8" fill="#ea968a"/>
<rect x="504" y="318.23" width="163.5" height="0.8" fill="#f4bdae"/>
<rect x="504" y="318.83" width="163.5" height="0.8" fill="#f5c1b3"/>
<rect x="504" y="319.43" width="163.5" height="0.8" fill="#f4baab"/>
<rect x="504" y="320.03" width="163.5" height="0.8" fill="#f4baab"/>
<rect x="504" y="320.63" width="163.5" height="0.8" fill="#ea978b"/>
<rect x="504" y="321.23" width="163.5" height="0.8" fill="#f5beaf"/>
<rect x="504" y="321.83" width="163.5" height="0.8" fill="#f3b6a6"/>
<rect x="504" y="322.43" width="163.5" height="0.8" fill="#f3b6a6"/>
<rect x="504" y="323.03" width="163.5" height="0.8" fill="#eda193"/>
<rect x="504" y="323.63" width="163.5" height="0.8" fill="#f2b0a0"/>
<rect x="504" y="324.24" width="163.5" height="0.8" fill="#f1ae9f"/>
<rect x="504" y="324.84" width="163.5" height="0.8" fill="#f4b9a9"/>
<rect x="504" y="325.44" width="163.5" height="0.8" fill="#f1ae9f"/>
<rect x="504" y="326.04" width="163.5" height="0.8" fill="#f3b7a7"/>
<rect x="504" y="326.64" width="163.5" height="0.8" fill="#f1ac9d"/>
<rect x="504" y="327.24" width="163.5" height="0.8" fill="#f5bfb0"/>
<rect x="504" y="327.84" width="163.5" height="0.8" fill="#f6c8ba"/>
<rect x="504" y="328.44" width="163.5" height="0.8" fill="#f5c1b2"/>
<rect x="504" y="329.04" width="163.5" height="0.8" fill="#f6c4b5"/>
<rect x="504" y="329.64" width="163.5" height="0.8" fill="#f6c6b7"/>
<rect x="504" y="330.24" width="163.5" height="0.8" fill="#f4bdad"/>
<rect x="504" y="330.84" width="163.5" height="0.8" fill="#f4b9a9"/>
<rect x="504" y="331.44" width="163.5" height="0.8" fill="#ea968a"/>
<rect x="504" y="332.04" width="163.5" height="0.8" fill="#f3b5a5"/>
<rect x="504" y="332.64" width="163.5" height="0.8" fill="#f5c1b2"/>
<rect x="504" y="333.24" width="163.5" height="0.8" fill="#f7cbbd"/>
<rect x="504" y="333.84" width="163.5" height="0.8" fill="#f2b0a0"/>
<rect x="504" y="334.44" width="163.5" height="0.8" fill="#f1ad9e"/>
<rect x="504" y="335.04" width="163.5" height="0.8" fill="#f1ac9d"/>
<rect x="504" y="335.64" width="163.5" height="0.8" fill="#f3b5a5"/>
<rect x="504" y="336.24" width="163.5" height="0.8" fill="#f5c3b4"/>
<rect x="504" y="336.84" width="163.5" height="0.8" fill="#f6c4b5"/>
<rect x="504" y="337.44" width="163.5" height="0.8" fill="#f3b6a7"/>
<rect x="504" y="338.04" width="163.5" height="0.8" fill="#f3b7a7"/>
<rect x="504" y="338.64" width="163.5" height="0.8" fill="#f5bfb0"/>
<rect x="504" y="339.24" width="163.5" height="0.8" fill="#f1ae9f"/>
<rect x="504" y="339.84" width="163.5" height="0.8" fill="#f4baaa"/>
<rect x="504" y="340.44" width="163.5" height="0.8" fill="#f0ab9c"/>
<rect x="504" y="341.05" width="163.5" height="0.8" fill="#f6c4b5"/>
<rect x="504" y="341.65" width="163.5" height="0.8" fill="#f5bdae"/>
<rect x="504" y="342.25" width="163.5" height="0.8" fill="#f3b5a5"/>
<rect x="504" y="342.85" width="163.5" height="0.8" fill="#eb998c"/>
<rect x="504" y="343.45" width="163.5" height="0.8" fill="#eda193"/>
<rect x="504" y="344.05" width="163.5" height="0.8" fill="#f1ae9f"/>
<rect x="504" y="344.65" width="163.5" height="0.8" fill="#f3b7a7"/>
<rect x="504" y="345.25" width="163.5" height="0.8" fill="#f4baab"/>
<rect x="504" y="345.85" width="163.5" height="0.8" fill="#f3b3a3"/>
<rect x="504" y="346.45" width="163.5" height="0.8" fill="#f1ae9f"/>
<rect x="504" y="347.05" width="163.5" height="0.8" fill="#f5c1b2"/>
<rect x="504" y="347.65" width="163.5" height="0.8" fill="#f6c5b6"/>
<rect x="504" y="348.25" width="163.5" height="0.8" fill="#f5beaf"/>
<rect x="504" y="348.85" width="163.5" height="0.8" fill="#f3b6a6"/>
<rect x="504" y="349.45" width="163.5" height="0.8" fill="#f6c3b5"/>
<rect x="504" y="350.05" width="163.5" height="0.8" fill="#f5c1b3"/>
<rect x="504" y="350.65" width="163.5" height="0.8" fill="#f5c2b3"/>
<rect x="504" y="351.25" width="163.5" height="0.8" fill="#f4bcad"/>
<rect x="504" y="351.85" width="163.5" height="0.8" fill="#f5c1b3"/>
<rect x="504" y="352.45" width="163.5" height="0.8" fill="#f2b1a1"/>
<rect x="504" y="353.05" width="163.5" height="0.8" fill="#f6c3b5"/>
<rect x="504" y="353.65" width="163.5" height="0.8" fill="#f6c4b6"/>
<rect x="504" y="354.25" width="163.5" height="0.8" fill="#f4b7a7"/>
<rect x="504" y="354.85" width="163.5" height="0.8" fill="#f3b6a6"/>
<rect x="504" y="355.45" width="163.5" height="0.8" fill="#f5bdae"/>
<rect x="504" y="356.05" width="163.5" height="0.8" fill="#ec9d90"/>
<rect x="504" y="356.65" width="163.5" height="0.8" fill="#f4b7a8"/>
<rect x="504" y="357.25" width="163.5" height="0.8" fill="#f1ac9d"/>
<rect x="504" y="357.85" width="163.5" height="0.8" fill="#f1ac9d"/>
<rect x="504" y="358.46" width="163.5" height="0.8" fill="#eea496"/>
<rect x="504" y="359.06" width="163.5" height="0.8" fill="#eda093"/>
<rect x="504" y="359.66" width="163.5" height="0.8" fill="#f3b7a7"/>
<rect x="504" y="360.26" width="163.5" height="0.8" fill="#ed9f92"/>
<rect x="504" y="360.86" width="163.5" height="0.8" fill="#f3b5a5"/>
<rect x="504" y="361.46" width="163.5" height="0.8" fill="#f6c3b4"/>
<rect x="504" y="362.06" width="163.5" height="0.8" fill="#f4bcac"/>
<rect x="504" y="362.66" width="163.5" height="0.8" fill="#f3b6a6"/>
<rect x="504" y="363.26" width="163.5" height="0.8" fill="#efa698"/>
<rect x="504" y="363.86" width="163.5" height="0.8" fill="#f4b8a8"/>
<rect x="504" y="364.46" width="163.5" height="0.8" fill="#f5c0b1"/>
<rect x="504" y="365.06" width="163.5" height="0.8" fill="#eea395"/>
<rect x="504" y="365.66" width="163.5" height="0.8" fill="#f1ae9f"/>
<rect x="504" y="366.26" width="163.5" height="0.8" fill="#f4b7a8"/>
<rect x="504" y="366.86" width="163.5" height="0.8" fill="#f2b2a2"/>
<rect x="504" y="367.46" width="163.5" height="0.8" fill="#f6c7b9"/>
<rect x="504" y="368.06" width="163.5" height="0.8" fill="#efa799"/>
<rect x="504" y="368.66" width="163.5" height="0.8" fill="#f7cdbf"/>
<rect x="504" y="369.26" width="163.5" height="0.8" fill="#f6c7b9"/>
<rect x="504" y="369.86" width="163.5" height="0.8" fill="#f6c6b7"/>
<rect x="504" y="370.46" width="163.5" height="0.8" fill="#f6c7b9"/>
<rect x="504" y="371.06" width="163.5" height="0.8" fill="#f3b4a4"/>
<rect x="504" y="371.66" width="163.5" height="0.8" fill="#efa799"/>
<rect x="504" y="372.26" width="163.5" height="0.8" fill="#f4bcad"/>
<rect x="504" y="372.86" width="163.5" height="0.8" fill="#f1ad9e"/>
<rect x="504" y="373.46" width="163.5" height="0.8" fill="#f1ad9e"/>
<rect x="504" y="374.06" width="163.5" height="0.8" fill="#f6c5b7"/>
<rect x="504" y="374.66" width="163.5" height="0.8" fill="#f5c1b2"/>
<rect x="504" y="375.27" width="163.5" height="0.8" fill="#f5c0b1"/>
<rect x="504" y="375.87" width="163.5" height="0.8" fill="#f3b3a3"/>
<rect x="504" y="376.47" width="163.5" height="0.8" fill="#f6c4b6"/>
<rect x="504" y="377.07" width="163.5" height="0.8" fill="#f5bdae"/>
<rect x="504" y="377.67" width="163.5" height="0.8" fill="#f4b9aa"/>
<rect x="504" y="378.27" width="163.5" height="0.8" fill="#f2b2a2"/>
<rect x="504" y="378.87" width="163.5" height="0.8" fill="#f2b1a2"/>
<rect x="504" y="379.47" width="163.5" height="0.8" fill="#f4bdad"/>
<rect x="504" y="380.07" width="163.5" height="0.8" fill="#f6c5b7"/>
<rect x="504" y="380.67" width="163.5" height="0.8" fill="#f3b6a7"/>
<rect x="504" y="381.27" width="163.5" height="0.8" fill="#f4bdad"/>
<rect x="504" y="381.87" width="163.5" height="0.8" fill="#f5c0b1"/>
<rect x="504" y="382.47" width="163.5" height="0.8" fill="#f1ac9d"/>
<rect x="504" y="383.07" width="163.5" height="0.8" fill="#f4baaa"/>
<rect x="504" y="383.67" width="163.5" height="0.8" fill="#f5bfb0"/>
<rect x="504" y="384.27" width="163.5" height="0.8" fill="#efa899"/>
<rect x="504" y="384.87" width="163.5" height="0.8" fill="#f5c1b2"/>
<rect x="504" y="385.47" width="163.5" height="0.8" fill="#f6c8b9"/>
<rect x="504" y="386.07" width="163.5" height="0.8" fill="#f3b4a4"/>
<rect x="504" y="386.67" width="163.5" height="0.8" fill="#f5bdae"/>
<rect x="504" y="387.27" width="163.5" height="0.8" fill="#f6c5b7"/>
<rect x="504" y="387.87" width="163.5" height="0.8" fill="#f4bcad"/>
<rect x="504" y="388.47" width="163.5" height="0.8" fill="#f4bbac"/>
<rect x="504" y="389.07" width="163.5" height="0.8" fill="#f2afa0"/>
<rect x="504" y="389.67" width="163.5" height="0.8" fill="#f5c1b2"/>
<rect x="504" y="390.27" width="163.5" height="0.8" fill="#f6c9bb"/>
<rect x="504" y="390.87" width="163.5" height="0.8" fill="#f5c0b1"/>
<rect x="504" y="391.47" width="163.5" height="0.8" fill="#f4bbac"/>
<rect x="504" y="392.08" width="163.5" height="0.8" fill="#f6cec1"/>
<rect x="504" y="392.68" width="163.5" height="0.8" fill="#f2b1a1"/>
<rect x="504" y="393.28" width="163.5" height="0.8" fill="#f3b6a7"/>
<rect x="504" y="393.88" width="163.5" height="0.8" fill="#f6c6b8"/>
<rect x="504" y="394.48" width="163.5" height="0.8" fill="#f6c4b5"/>
<rect x="504" y="395.08" width="163.5" height="0.8" fill="#f5bfb0"/>
<rect x="504" y="395.68" width="163.5" height="0.8" fill="#f5c3b4"/>
<rect x="504" y="396.28" width="163.5" height="0.8" fill="#f4bcad"/>
<rect x="504" y="396.88" width="163.5" height="0.8" fill="#f7c9bb"/>
<rect x="504" y="397.48" width="163.5" height="0.8" fill="#f4bcad"/>
<rect x="504" y="398.08" width="163.5" height="0.8" fill="#f5beae"/>
<rect x="504" y="398.68" width="163.5" height="0.8" fill="#f5bdae"/>
<rect x="504" y="399.28" width="163.5" height="0.8" fill="#f4b8a9"/>
<rect x="504" y="399.88" width="163.5" height="0.8" fill="#f6c8b9"/>
<rect x="504" y="400.48" width="163.5" height="0.8" fill="#f4b8a8"/>
<rect x="504" y="401.08" width="163.5" height="0.8" fill="#f7ccbe"/>
<rect x="504" y="401.68" width="163.5" height="0.8" fill="#f6c9bb"/>
<rect x="504" y="402.28" width="163.5" height="0.8" fill="#f4bcad"/>
<rect x="504" y="402.88" width="163.5" height="0.8" fill="#f7cabc"/>
<rect x="504" y="403.48" width="163.5" height="0.8" fill="#f7cdbf"/>
<rect x="504" y="404.08" width="163.5" height="0.8" fill="#f4bbab"/>
<rect x="504" y="404.68" width="163.5" height="0.8" fill="#f5cfc3"/>
<rect x="504" y="405.28" width="163.5" height="0.8" fill="#f5cfc2"/>
<rect x="504" y="405.88" width="163.5" height="0.8" fill="#f6c4b5"/>
<rect x="504" y="406.48" width="163.5" height="0.8" fill="#f4d1c5"/>
<rect x="504" y="407.08" width="163.5" height="0.8" fill="#f6cdc0"/>
<rect x="504" y="407.68" width="163.5" height="0.8" fill="#f4d1c6"/>
<rect x="504" y="408.28" width="163.5" height="0.8" fill="#f6cfc2"/>
<rect x="504" y="408.89" width="163.5" height="0.8" fill="#f7cabc"/>
<rect x="504" y="409.49" width="163.5" height="0.8" fill="#f7ccbe"/>
<rect x="504" y="410.09" width="163.5" height="0.8" fill="#f1d7ce"/>
<rect x="504" y="410.69" width="163.5" height="0.8" fill="#f0d8d0"/>
<rect x="504" y="411.29" width="163.5" height="0.8" fill="#f7ccbe"/>
<rect x="504" y="411.89" width="163.5" height="0.8" fill="#f2d4ca"/>
<rect x="504" y="412.49" width="163.5" height="0.8" fill="#f3d2c7"/>
<rect x="504" y="413.09" width="163.5" height="0.8" fill="#f1d6ce"/>
<rect x="504" y="413.69" width="163.5" height="0.8" fill="#f5cfc2"/>
<rect x="504" y="414.29" width="163.5" height="0.8" fill="#f3b5a5"/>
<rect x="504" y="414.89" width="163.5" height="0.8" fill="#f6c8b9"/>
<rect x="504" y="415.49" width="163.5" height="0.8" fill="#f7cdbf"/>
<rect x="504" y="416.09" width="163.5" height="0.8" fill="#f5c2b3"/>
<rect x="504" y="416.69" width="163.5" height="0.8" fill="#f6cdc0"/>
<rect x="504" y="417.29" width="163.5" height="0.8" fill="#f4bdae"/>
<rect x="504" y="417.89" width="163.5" height="0.8" fill="#f1d6cc"/>
<rect x="504" y="418.49" width="163.5" height="0.8" fill="#f4d1c5"/>
<rect x="504" y="419.09" width="163.5" height="0.8" fill="#f4d1c5"/>
<rect x="504" y="419.69" width="163.5" height="0.8" fill="#f6cdc0"/>
<rect x="504" y="420.29" width="163.5" height="0.8" fill="#f2d5cc"/>
<rect x="504" y="420.89" width="163.5" height="0.8" fill="#f6cec0"/>
<rect x="504" y="421.49" width="163.5" height="0.8" fill="#f5c1b2"/>
<rect x="504" y="422.09" width="163.5" height="0.8" fill="#f5d0c4"/>
<rect x="504" y="422.69" width="163.5" height="0.8" fill="#f5cfc3"/>
<rect x="504" y="423.29" width="163.5" height="0.8" fill="#f5d0c4"/>
<rect x="504" y="423.89" width="163.5" height="0.8" fill="#f6c7b9"/>
<rect x="504" y="424.49" width="163.5" height="0.8" fill="#f0d8d0"/>
<rect x="504" y="425.09" width="163.5" height="0.8" fill="#f5d0c4"/>
<rect x="504" y="425.7" width="163.5" height="0.8" fill="#f6c5b6"/>
<rect x="504" y="426.3" width="163.5" height="0.8" fill="#f6cdbf"/>
<rect x="504" y="426.9" width="163.5" height="0.8" fill="#f5cfc3"/>
<rect x="504" y="427.5" width="163.5" height="0.8" fill="#f3b5a5"/>
<rect x="504" y="428.1" width="163.5" height="0.8" fill="#f5c2b3"/>
<rect x="504" y="428.7" width="163.5" height="0.8" fill="#f5c1b2"/>
<rect x="504" y="429.3" width="163.5" height="0.8" fill="#f5c1b2"/>
<rect x="504" y="429.9" width="163.5" height="0.8" fill="#f4bcac"/>
<rect x="504" y="430.5" width="163.5" height="0.8" fill="#f2b2a2"/>
<rect x="504" y="431.1" width="163.5" height="0.8" fill="#f5c2b3"/>
<rect x="504" y="431.7" width="163.5" height="0.8" fill="#f6c6b7"/>
<rect x="504" y="432.3" width="163.5" height="0.8" fill="#f5c2b3"/>
<rect x="504" y="432.9" width="163.5" height="0.8" fill="#f7cabb"/>
<rect x="504" y="433.5" width="163.5" height="0.8" fill="#f6cdc0"/>
<text x="488.7" y="450.5" font-size="13.7" text-anchor="middle">adjusted p-values</text>
<text x="435.2" y="468" font-size="13.5" text-anchor="middle">0.8</text>
<text x="471.4" y="468" font-size="13.5" text-anchor="middle">0.6</text>
<text x="505.7" y="468" font-size="13.5" text-anchor="middle">0.4</text>
<text x="542.5" y="468" font-size="13.5" text-anchor="middle">0.2</text>
<defs><linearGradient id="cb" x1="0" y1="0" x2="1" y2="0"><stop offset="0" stop-color="#fff5f0"/><stop offset="0.12" stop-color="#fee0d2"/><stop offset="0.25" stop-color="#fcbba1"/><stop offset="0.38" stop-color="#fc9272"/><stop offset="0.5" stop-color="#fb6a4a"/><stop offset="0.62" stop-color="#ef3b2c"/><stop offset="0.75" stop-color="#cb181d"/><stop offset="0.88" stop-color="#a50f15"/><stop offset="1" stop-color="#67000d"/></linearGradient></defs>
<rect x="397.2" y="471.5" width="178.3" height="11.1" fill="url(#cb)"/>
<line x1="569" y1="471.5" x2="569" y2="482.6" stroke="#fff" stroke-width="0.5" stroke-opacity="0.22"/>
<line x1="558.3" y1="471.5" x2="558.3" y2="482.6" stroke="#fff" stroke-width="0.5" stroke-opacity="0.22"/>
<line x1="547.6" y1="471.5" x2="547.6" y2="482.6" stroke="#fff" stroke-width="0.5" stroke-opacity="0.22"/>
<line x1="536.9" y1="471.5" x2="536.9" y2="482.6" stroke="#fff" stroke-width="0.5" stroke-opacity="0.22"/>
<line x1="526.2" y1="471.5" x2="526.2" y2="482.6" stroke="#fff" stroke-width="0.5" stroke-opacity="0.22"/>
<line x1="515.5" y1="471.5" x2="515.5" y2="482.6" stroke="#fff" stroke-width="0.5" stroke-opacity="0.22"/>
<line x1="504.8" y1="471.5" x2="504.8" y2="482.6" stroke="#fff" stroke-width="0.5" stroke-opacity="0.22"/>
<line x1="494.1" y1="471.5" x2="494.1" y2="482.6" stroke="#fff" stroke-width="0.5" stroke-opacity="0.22"/>
<line x1="483.4" y1="471.5" x2="483.4" y2="482.6" stroke="#fff" stroke-width="0.5" stroke-opacity="0.22"/>
<line x1="472.7" y1="471.5" x2="472.7" y2="482.6" stroke="#fff" stroke-width="0.5" stroke-opacity="0.22"/>
<line x1="462" y1="471.5" x2="462" y2="482.6" stroke="#fff" stroke-width="0.5" stroke-opacity="0.22"/>
<line x1="451.3" y1="471.5" x2="451.3" y2="482.6" stroke="#fff" stroke-width="0.5" stroke-opacity="0.22"/>
<line x1="440.6" y1="471.5" x2="440.6" y2="482.6" stroke="#fff" stroke-width="0.5" stroke-opacity="0.22"/>
<line x1="429.9" y1="471.5" x2="429.9" y2="482.6" stroke="#fff" stroke-width="0.5" stroke-opacity="0.22"/>
<text x="0" y="510" font-size="16.3" font-weight="bold">G</text>
<text x="22.6" y="520.5" font-size="13.8">Upregulated genes in AD40 Coc v AD1 Coc</text>
<defs><clipPath id="cg"><circle cx="243.9" cy="636.8" r="36"/></clipPath><clipPath id="ch"><circle cx="630.7" cy="636.85" r="41.65"/></clipPath></defs>
<circle cx="127.6" cy="636.8" r="105.6" fill="#ff662b" stroke="#000" stroke-width="1.2"/>
<circle cx="243.9" cy="636.8" r="36" fill="#ffc53b"/>
<circle cx="127.6" cy="636.8" r="105.6" fill="#ff9a31" stroke="#5a3c00" stroke-opacity="0.8" stroke-width="1" clip-path="url(#cg)"/>
<circle cx="243.9" cy="636.8" r="36" fill="none" stroke="#000" stroke-width="1.2"/>
<text x="127.3" y="631.6" font-size="14" text-anchor="middle">D1</text>
<text x="127.3" y="648.8" font-size="14" text-anchor="middle">209</text>
<text x="221.9" y="640" font-size="14" text-anchor="middle">7</text>
<text x="250" y="631.9" font-size="13.9" text-anchor="middle">A2a</text>
<text x="250.6" y="648.8" font-size="13.9" text-anchor="middle">18</text>
<rect x="283.5" y="620.5" width="80.4" height="134.3" fill="#fff" stroke="#000" stroke-width="1"/>
<line x1="283.5" y1="636.4" x2="363.9" y2="636.4" stroke="#000" stroke-width="1"/>
<text x="286.3" y="632.7" font-size="13.8">Upregulated</text>
<text x="286.5" y="649.7" font-size="13.6" font-style="italic">Loc680121</text>
<text x="286.5" y="666.25" font-size="13.6" font-style="italic">Capns</text>
<text x="286.5" y="682.8" font-size="13.6" font-style="italic">Cys1</text>
<text x="286.5" y="699.35" font-size="13.6" font-style="italic">Irag2</text>
<text x="286.5" y="715.9" font-size="13.6" font-style="italic">Cbx7</text>
<text x="286.5" y="732.45" font-size="13.6" font-style="italic">Rassf1</text>
<text x="286.5" y="749" font-size="13.6" font-style="italic">Gpc1</text>
<text x="359.6" y="510" font-size="16.3" font-weight="bold">H</text>
<text x="381" y="520.5" font-size="13.8">Downregulated genes in AD40 Coc v AD1 Coc</text>
<ellipse cx="487.6" cy="636.2" rx="107.1" ry="106.7" fill="#0058dc" stroke="#000" stroke-width="1.2"/>
<circle cx="630.7" cy="636.85" r="41.65" fill="#6abfbf"/>
<ellipse cx="487.6" cy="636.2" rx="107.1" ry="106.7" fill="#0a84be" stroke="#04283c" stroke-opacity="0.9" stroke-width="1.1" clip-path="url(#ch)"/>
<circle cx="630.7" cy="636.85" r="41.65" fill="none" stroke="#5c5c5c" stroke-width="1.2"/>
<text x="486.9" y="630.8" font-size="16" text-anchor="middle">D1</text>
<text x="486.9" y="650.4" font-size="16" text-anchor="middle">304</text>
<text x="631.3" y="631.1" font-size="16" text-anchor="middle">A2a</text>
<text x="631.3" y="650.7" font-size="16" text-anchor="middle">45</text>
<text x="594.4" y="682.8" font-size="14.2" text-anchor="middle">1</text>
<rect x="581.5" y="697.6" width="98.1" height="35" fill="#fff" stroke="#000" stroke-width="1"/>
<line x1="581.5" y1="715" x2="679.6" y2="715" stroke="#000" stroke-width="1"/>
<text x="584.8" y="712.2" font-size="13.75">Downregulated</text>
<text x="584.8" y="728.5" font-size="13.8" font-style="italic">Eif4a1</text>
<text x="0.2" y="799.3" font-size="16.3" font-weight="bold">I</text>
<text x="120.8" y="798.6" font-size="13.4" text-anchor="middle" font-style="italic">Fosb</text>
<line x1="69.6" y1="809.8" x2="69.6" y2="977.7" stroke="#000" stroke-width="1.4"/>
<line x1="68.9" y1="977" x2="180.2" y2="977" stroke="#000" stroke-width="1.4"/>
<line x1="63" y1="811.1" x2="69.6" y2="811.1" stroke="#000" stroke-width="1.4"/>
<text x="58.5" y="815.2" font-size="11.3" text-anchor="end">2.5</text>
<line x1="63" y1="844.2" x2="69.6" y2="844.2" stroke="#000" stroke-width="1.4"/>
<text x="58.5" y="848.3" font-size="11.3" text-anchor="end">2.0</text>
<line x1="63" y1="877.3" x2="69.6" y2="877.3" stroke="#000" stroke-width="1.4"/>
<text x="58.5" y="881.4" font-size="11.3" text-anchor="end">1.5</text>
<line x1="63" y1="910.4" x2="69.6" y2="910.4" stroke="#000" stroke-width="1.4"/>
<text x="58.5" y="914.5" font-size="11.3" text-anchor="end">1.0</text>
<line x1="63" y1="943.5" x2="69.6" y2="943.5" stroke="#000" stroke-width="1.4"/>
<text x="58.5" y="947.6" font-size="11.3" text-anchor="end">0.5</text>
<line x1="63" y1="976.6" x2="69.6" y2="976.6" stroke="#000" stroke-width="1.4"/>
<text x="58.5" y="980.7" font-size="11.3" text-anchor="end">0.0</text>
<line x1="101.2" y1="977" x2="101.2" y2="983.6" stroke="#000" stroke-width="1.4"/>
<line x1="148.7" y1="977" x2="148.7" y2="983.6" stroke="#000" stroke-width="1.4"/>
<text x="99.5" y="995" font-size="11.3" text-anchor="middle">AD1</text>
<text x="147" y="995" font-size="11.3" text-anchor="middle">AD40</text>
<text x="124.15" y="1011.2" font-size="13.7" text-anchor="middle">Coc D1</text>
<circle cx="96.4" cy="883.7" r="2.7"/>
<circle cx="106.4" cy="887.1" r="2.7"/>
<circle cx="96.4" cy="895" r="2.7"/>
<circle cx="106.4" cy="897.1" r="2.7"/>
<circle cx="101.2" cy="918.9" r="2.7"/>
<circle cx="101.2" cy="939.1" r="2.7"/>
<circle cx="101.2" cy="952.8" r="2.7"/>
<rect x="146.3" y="822.2" width="5.4" height="5.4" fill="#000"/>
<rect x="141" y="865" width="5.4" height="5.4" fill="#000"/>
<rect x="151" y="869" width="5.4" height="5.4" fill="#000"/>
<rect x="141" y="871" width="5.4" height="5.4" fill="#000"/>
<rect x="141" y="909.6" width="5.4" height="5.4" fill="#000"/>
<rect x="151" y="907.5" width="5.4" height="5.4" fill="#000"/>
<line x1="85.3" y1="910.7" x2="117.1" y2="910.7" stroke="#000" stroke-width="1.7"/>
<line x1="101.2" y1="900.2" x2="101.2" y2="920.2" stroke="#000" stroke-width="1"/>
<line x1="93.1" y1="900.2" x2="109.3" y2="900.2" stroke="#000" stroke-width="1"/>
<line x1="93.1" y1="920.2" x2="109.3" y2="920.2" stroke="#000" stroke-width="1"/>
<line x1="132.8" y1="876.2" x2="164.6" y2="876.2" stroke="#000" stroke-width="1.7"/>
<line x1="148.7" y1="863.5" x2="148.7" y2="889.6" stroke="#000" stroke-width="1"/>
<line x1="140.6" y1="863.5" x2="156.8" y2="863.5" stroke="#000" stroke-width="1"/>
<line x1="140.6" y1="889.6" x2="156.8" y2="889.6" stroke="#000" stroke-width="1"/>
<line x1="101.2" y1="815.5" x2="149.2" y2="815.5" stroke="#000" stroke-width="1"/>
<text font-family="DejaVu Sans, sans-serif" font-size="17.4" transform="translate(125.15 809.1) rotate(90)" x="-4.21" y="9.13">*</text>
<text x="12.6" y="894" font-size="13.8" text-anchor="middle" transform="rotate(-90 12.6 894)">mRNA Expression</text>
<text x="30" y="895" font-size="13.8" text-anchor="middle" transform="rotate(-90 30 895)">(fold D1 Coc AD1)</text>
<text x="203.6" y="799.3" font-size="16.3" font-weight="bold">J</text>
<text x="283.8" y="798.6" font-size="13.4" text-anchor="middle" font-style="italic">Kcna5</text>
<line x1="229.6" y1="809" x2="229.6" y2="975.9" stroke="#000" stroke-width="1.4"/>
<line x1="228.9" y1="975.2" x2="340.2" y2="975.2" stroke="#000" stroke-width="1.4"/>
<line x1="223" y1="810.3" x2="229.6" y2="810.3" stroke="#000" stroke-width="1.4"/>
<text x="218.5" y="814.4" font-size="11.3" text-anchor="end">1.4</text>
<line x1="223" y1="851.5" x2="229.6" y2="851.5" stroke="#000" stroke-width="1.4"/>
<text x="218.5" y="855.6" font-size="11.3" text-anchor="end">1.2</text>
<line x1="223" y1="892.7" x2="229.6" y2="892.7" stroke="#000" stroke-width="1.4"/>
<text x="218.5" y="896.8" font-size="11.3" text-anchor="end">1.0</text>
<line x1="223" y1="933.9" x2="229.6" y2="933.9" stroke="#000" stroke-width="1.4"/>
<text x="218.5" y="938" font-size="11.3" text-anchor="end">0.8</text>
<line x1="223" y1="975.1" x2="229.6" y2="975.1" stroke="#000" stroke-width="1.4"/>
<text x="218.5" y="979.2" font-size="11.3" text-anchor="end">0.6</text>
<line x1="261.2" y1="975.2" x2="261.2" y2="981.8" stroke="#000" stroke-width="1.4"/>
<line x1="308.7" y1="975.2" x2="308.7" y2="981.8" stroke="#000" stroke-width="1.4"/>
<text x="259.5" y="994.1" font-size="11.3" text-anchor="middle">AD1</text>
<text x="307" y="994.1" font-size="11.3" text-anchor="middle">AD40</text>
<text x="284.15" y="1010.3" font-size="13.7" text-anchor="middle">Coc D1</text>
<circle cx="261.2" cy="849.1" r="2.7"/>
<circle cx="261.2" cy="878.8" r="2.7"/>
<circle cx="261.2" cy="888.2" r="2.7"/>
<circle cx="256.4" cy="907.6" r="2.7"/>
<circle cx="266.4" cy="910.7" r="2.7"/>
<circle cx="261.2" cy="922" r="2.7"/>
<rect x="305.8" y="903" width="5.4" height="5.4" fill="#000"/>
<rect x="301" y="924.6" width="5.4" height="5.4" fill="#000"/>
<rect x="310.5" y="924.6" width="5.4" height="5.4" fill="#000"/>
<rect x="301" y="934.6" width="5.4" height="5.4" fill="#000"/>
<rect x="310.5" y="933.8" width="5.4" height="5.4" fill="#000"/>
<line x1="245.3" y1="892.7" x2="277.1" y2="892.7" stroke="#000" stroke-width="1.7"/>
<line x1="261.2" y1="881.7" x2="261.2" y2="903.6" stroke="#000" stroke-width="1"/>
<line x1="253.1" y1="881.7" x2="269.3" y2="881.7" stroke="#000" stroke-width="1"/>
<line x1="253.1" y1="903.6" x2="269.3" y2="903.6" stroke="#000" stroke-width="1"/>
<line x1="292.8" y1="927.3" x2="324.6" y2="927.3" stroke="#000" stroke-width="1.7"/>
<line x1="308.7" y1="921.3" x2="308.7" y2="932.5" stroke="#000" stroke-width="1"/>
<line x1="300.6" y1="921.3" x2="316.8" y2="921.3" stroke="#000" stroke-width="1"/>
<line x1="300.6" y1="932.5" x2="316.8" y2="932.5" stroke="#000" stroke-width="1"/>
<line x1="261.2" y1="815.5" x2="309.2" y2="815.5" stroke="#000" stroke-width="1"/>
<text font-family="DejaVu Sans, sans-serif" font-size="17.4" transform="translate(285.15 809.1) rotate(90)" x="-4.21" y="9.13">*</text>
<text x="375.2" y="799.3" font-size="16.3" font-weight="bold">K</text>
<text x="453" y="798.6" font-size="13.4" text-anchor="middle" font-style="italic">Epb41l3</text>
<line x1="402.5" y1="809" x2="402.5" y2="975.9" stroke="#000" stroke-width="1.4"/>
<line x1="401.8" y1="975.2" x2="512.6" y2="975.2" stroke="#000" stroke-width="1.4"/>
<line x1="395.9" y1="810.5" x2="402.5" y2="810.5" stroke="#000" stroke-width="1.4"/>
<text x="391.4" y="814.6" font-size="11.3" text-anchor="end">2.0</text>
<line x1="395.9" y1="851.65" x2="402.5" y2="851.65" stroke="#000" stroke-width="1.4"/>
<text x="391.4" y="855.75" font-size="11.3" text-anchor="end">1.5</text>
<line x1="395.9" y1="892.8" x2="402.5" y2="892.8" stroke="#000" stroke-width="1.4"/>
<text x="391.4" y="896.9" font-size="11.3" text-anchor="end">1.0</text>
<line x1="395.9" y1="933.95" x2="402.5" y2="933.95" stroke="#000" stroke-width="1.4"/>
<text x="391.4" y="938.05" font-size="11.3" text-anchor="end">0.5</text>
<line x1="395.9" y1="975.1" x2="402.5" y2="975.1" stroke="#000" stroke-width="1.4"/>
<text x="391.4" y="979.2" font-size="11.3" text-anchor="end">0.0</text>
<line x1="433.8" y1="975.2" x2="433.8" y2="981.8" stroke="#000" stroke-width="1.4"/>
<line x1="481.3" y1="975.2" x2="481.3" y2="981.8" stroke="#000" stroke-width="1.4"/>
<text x="432.1" y="994.1" font-size="11.3" text-anchor="middle">AD1</text>
<text x="479.6" y="994.1" font-size="11.3" text-anchor="middle">AD40</text>
<text x="456.75" y="1010.3" font-size="13.7" text-anchor="middle">Coc D1</text>
<circle cx="433.8" cy="866.2" r="2.7"/>
<circle cx="420.9" cy="887.2" r="2.7"/>
<circle cx="430.2" cy="890.3" r="2.7"/>
<circle cx="438.5" cy="887.6" r="2.7"/>
<circle cx="447.1" cy="886.3" r="2.7"/>
<circle cx="433.8" cy="897.1" r="2.7"/>
<circle cx="433.8" cy="933.9" r="2.7"/>
<rect x="478.7" y="835.9" width="5.4" height="5.4" fill="#000"/>
<rect x="478.7" y="847.2" width="5.4" height="5.4" fill="#000"/>
<rect x="473.1" y="866.4" width="5.4" height="5.4" fill="#000"/>
<rect x="483.1" y="864.3" width="5.4" height="5.4" fill="#000"/>
<rect x="478.7" y="877.1" width="5.4" height="5.4" fill="#000"/>
<rect x="478.7" y="883.6" width="5.4" height="5.4" fill="#000"/>
<line x1="417.9" y1="892.7" x2="449.7" y2="892.7" stroke="#000" stroke-width="1.7"/>
<line x1="433.8" y1="884.8" x2="433.8" y2="900.2" stroke="#000" stroke-width="1"/>
<line x1="425.7" y1="884.8" x2="441.9" y2="884.8" stroke="#000" stroke-width="1"/>
<line x1="425.7" y1="900.2" x2="441.9" y2="900.2" stroke="#000" stroke-width="1"/>
<line x1="465.4" y1="864.9" x2="497.2" y2="864.9" stroke="#000" stroke-width="1.7"/>
<line x1="481.3" y1="857.5" x2="481.3" y2="872.5" stroke="#000" stroke-width="1"/>
<line x1="473.2" y1="857.5" x2="489.4" y2="857.5" stroke="#000" stroke-width="1"/>
<line x1="473.2" y1="872.5" x2="489.4" y2="872.5" stroke="#000" stroke-width="1"/>
<line x1="433.8" y1="815.5" x2="481.8" y2="815.5" stroke="#000" stroke-width="1"/>
<text font-family="DejaVu Sans, sans-serif" font-size="17.4" transform="translate(457.75 809.1) rotate(90)" x="-4.21" y="9.13">*</text>
<text x="548.1" y="799.3" font-size="16.3" font-weight="bold">L</text>
<text x="627.3" y="798.6" font-size="13.4" text-anchor="middle" font-style="italic">Grm5</text>
<line x1="574.6" y1="809.8" x2="574.6" y2="977.2" stroke="#000" stroke-width="1.4"/>
<line x1="573.9" y1="976.5" x2="686" y2="976.5" stroke="#000" stroke-width="1.4"/>
<line x1="568" y1="811.25" x2="574.6" y2="811.25" stroke="#000" stroke-width="1.4"/>
<text x="563.5" y="815.35" font-size="11.3" text-anchor="end">1.5</text>
<line x1="568" y1="866.3" x2="574.6" y2="866.3" stroke="#000" stroke-width="1.4"/>
<text x="563.5" y="870.4" font-size="11.3" text-anchor="end">1.0</text>
<line x1="568" y1="921.35" x2="574.6" y2="921.35" stroke="#000" stroke-width="1.4"/>
<text x="563.5" y="925.45" font-size="11.3" text-anchor="end">0.5</text>
<line x1="568" y1="976.4" x2="574.6" y2="976.4" stroke="#000" stroke-width="1.4"/>
<text x="563.5" y="980.5" font-size="11.3" text-anchor="end">0.0</text>
<line x1="606.1" y1="976.5" x2="606.1" y2="983.1" stroke="#000" stroke-width="1.4"/>
<line x1="653.3" y1="976.5" x2="653.3" y2="983.1" stroke="#000" stroke-width="1.4"/>
<text x="604.4" y="995" font-size="11.3" text-anchor="middle">AD1</text>
<text x="651.6" y="995" font-size="11.3" text-anchor="middle">AD40</text>
<text x="628.9" y="1011.3" font-size="13.7" text-anchor="middle">Coc D1</text>
<circle cx="606.2" cy="822.6" r="2.7"/>
<circle cx="606.2" cy="839.9" r="2.7"/>
<circle cx="606.2" cy="856.4" r="2.7"/>
<circle cx="606.2" cy="864.3" r="2.7"/>
<circle cx="606.2" cy="901.8" r="2.7"/>
<circle cx="606.2" cy="912.8" r="2.7"/>
<rect x="650.8" y="862.2" width="5.4" height="5.4" fill="#000"/>
<rect x="650.8" y="868.2" width="5.4" height="5.4" fill="#000"/>
<rect x="645.5" y="880" width="5.4" height="5.4" fill="#000"/>
<rect x="655.5" y="880.8" width="5.4" height="5.4" fill="#000"/>
<rect x="650.8" y="916.7" width="5.4" height="5.4" fill="#000"/>
<line x1="590.2" y1="866.2" x2="622" y2="866.2" stroke="#000" stroke-width="1.7"/>
<line x1="606.1" y1="851.7" x2="606.1" y2="880.6" stroke="#000" stroke-width="1"/>
<line x1="598" y1="851.7" x2="614.2" y2="851.7" stroke="#000" stroke-width="1"/>
<line x1="598" y1="880.6" x2="614.2" y2="880.6" stroke="#000" stroke-width="1"/>
<line x1="637.4" y1="884" x2="669.2" y2="884" stroke="#000" stroke-width="1.7"/>
<line x1="653.3" y1="874.3" x2="653.3" y2="893.8" stroke="#000" stroke-width="1"/>
<line x1="645.2" y1="874.3" x2="661.4" y2="874.3" stroke="#000" stroke-width="1"/>
<line x1="645.2" y1="893.8" x2="661.4" y2="893.8" stroke="#000" stroke-width="1"/>
</svg>
</body>
</html>
